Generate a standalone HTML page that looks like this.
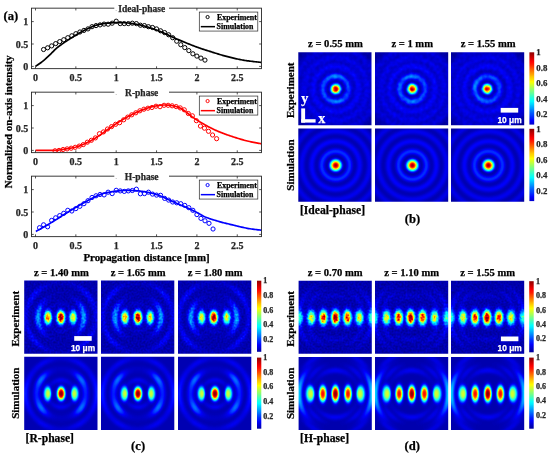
<!DOCTYPE html><html><head><meta charset="utf-8"><style>html,body{margin:0;padding:0;background:#fff;width:550px;height:455px;overflow:hidden}svg{display:block}stop{stop-color:#fff}text{stroke:currentColor;stroke-width:0.25px}.tk{font:bold 10px 'Liberation Serif','Times New Roman',serif;fill:#262626;color:#262626}.tt{font:bold 9.5px 'Liberation Serif','Times New Roman',serif;fill:#262626;color:#262626}.lg{font:bold 7.9px 'Liberation Serif','Times New Roman',serif;fill:#000;color:#000}.al{font:bold 10.9px 'Liberation Serif','Times New Roman',serif;fill:#000;color:#000}.pl{font:bold 12.6px 'Liberation Serif','Times New Roman',serif;fill:#000;color:#000}.hd{font:bold 10.6px 'Liberation Serif','Times New Roman',serif;fill:#000}.rl{font:bold 11px 'Liberation Serif','Times New Roman',serif;fill:#000}.bk{font:bold 11.6px 'Liberation Serif','Times New Roman',serif;fill:#000;color:#000}.cb{font-weight:bold;font-family:'Liberation Serif','Times New Roman',serif;fill:#262626;color:#262626}.sb{font:bold 8.4px 'Liberation Sans',Arial,sans-serif;fill:#fff;color:#fff}.xy{font:bold 14px 'Liberation Serif','Times New Roman',serif;fill:#fff;color:#fff}</style></head><body>
<svg width="550" height="455" viewBox="0 0 550 455">
<rect width="550" height="455" fill="#fff"/>
<clipPath id="ca0"><rect x="31.46" y="8.16" width="230" height="60.48"/></clipPath>
<g clip-path="url(#ca0)">
<polyline points="35.5,66.4 35.88,66.14 36.35,65.81 36.91,65.42 37.54,64.99 38.22,64.52 38.94,64.03 39.68,63.51 40.43,62.97 41.17,62.44 41.89,61.91 42.57,61.39 43.2,60.9 43.79,60.42 44.36,59.93 44.93,59.45 45.48,58.96 46.03,58.46 46.57,57.96 47.11,57.46 47.64,56.96 48.18,56.45 48.71,55.93 49.25,55.42 49.8,54.9 50.35,54.37 50.9,53.83 51.45,53.27 52,52.71 52.55,52.15 53.1,51.59 53.65,51.03 54.2,50.47 54.75,49.93 55.3,49.4 55.85,48.89 56.4,48.4 56.95,47.93 57.5,47.47 58.05,47.03 58.6,46.6 59.16,46.17 59.71,45.76 60.26,45.36 60.81,44.96 61.36,44.57 61.91,44.18 62.45,43.79 63,43.4 63.54,43.02 64.09,42.64 64.63,42.27 65.17,41.91 65.71,41.55 66.25,41.19 66.79,40.84 67.33,40.49 67.87,40.14 68.41,39.8 68.96,39.45 69.5,39.1 70.05,38.75 70.59,38.4 71.14,38.05 71.69,37.71 72.24,37.36 72.79,37.02 73.34,36.68 73.9,36.34 74.45,36 75,35.66 75.55,35.33 76.1,35 76.65,34.67 77.2,34.34 77.75,34.02 78.3,33.69 78.85,33.37 79.4,33.05 79.95,32.73 80.5,32.42 81.05,32.11 81.6,31.8 82.15,31.5 82.7,31.2 83.25,30.91 83.8,30.61 84.35,30.32 84.9,30.04 85.45,29.75 86,29.47 86.55,29.2 87.1,28.93 87.65,28.66 88.2,28.4 88.75,28.15 89.3,27.9 89.85,27.66 90.38,27.42 90.91,27.18 91.44,26.95 91.97,26.72 92.51,26.5 93.04,26.28 93.59,26.07 94.14,25.87 94.71,25.67 95.3,25.48 95.9,25.3 96.51,25.12 97.12,24.96 97.73,24.8 98.34,24.64 98.97,24.49 99.61,24.35 100.27,24.21 100.96,24.08 101.67,23.95 102.41,23.83 103.18,23.71 104,23.6 104.86,23.49 105.77,23.38 106.73,23.27 107.71,23.16 108.72,23.06 109.76,22.97 110.8,22.88 111.86,22.8 112.91,22.74 113.95,22.68 114.99,22.63 116,22.6 117,22.58 117.99,22.56 118.98,22.56 119.96,22.56 120.95,22.58 121.94,22.6 122.93,22.63 123.93,22.68 124.93,22.74 125.94,22.81 126.96,22.9 128,23 129.05,23.11 130.11,23.24 131.18,23.38 132.26,23.54 133.35,23.7 134.44,23.88 135.53,24.07 136.63,24.27 137.73,24.49 138.82,24.71 139.91,24.95 141,25.2 142.09,25.46 143.19,25.74 144.3,26.04 145.41,26.35 146.52,26.67 147.62,27.01 148.73,27.35 149.81,27.69 150.89,28.04 151.95,28.4 152.99,28.75 154,29.1 155,29.46 155.98,29.82 156.96,30.2 157.92,30.58 158.87,30.97 159.8,31.36 160.72,31.74 161.61,32.13 162.49,32.51 163.35,32.88 164.19,33.25 165,33.6 165.77,33.94 166.47,34.25 167.13,34.56 167.76,34.85 168.36,35.14 168.96,35.43 169.57,35.72 170.2,36.03 170.86,36.34 171.58,36.67 172.35,37.02 173.2,37.4 174.13,37.81 175.11,38.24 176.15,38.69 177.23,39.16 178.35,39.64 179.49,40.12 180.65,40.62 181.82,41.11 182.99,41.6 184.15,42.08 185.29,42.55 186.4,43 187.5,43.44 188.6,43.88 189.7,44.32 190.8,44.75 191.91,45.18 193.01,45.6 194.1,46.02 195.2,46.43 196.28,46.83 197.36,47.23 198.44,47.62 199.5,48 200.55,48.37 201.6,48.73 202.64,49.08 203.68,49.42 204.71,49.76 205.73,50.09 206.75,50.41 207.77,50.73 208.78,51.05 209.79,51.37 210.8,51.68 211.8,52 212.8,52.32 213.79,52.63 214.78,52.94 215.77,53.25 216.75,53.56 217.73,53.86 218.7,54.16 219.68,54.46 220.65,54.75 221.63,55.04 222.61,55.32 223.6,55.6 224.59,55.87 225.58,56.14 226.57,56.41 227.56,56.67 228.56,56.93 229.55,57.19 230.54,57.44 231.54,57.68 232.53,57.92 233.52,58.15 234.51,58.38 235.5,58.6 236.48,58.81 237.45,59.02 238.4,59.22 239.35,59.41 240.3,59.6 241.26,59.79 242.22,59.97 243.2,60.14 244.19,60.31 245.2,60.48 246.23,60.64 247.3,60.8 248.44,60.96 249.69,61.12 251.01,61.28 252.37,61.44 253.75,61.59 255.12,61.74 256.44,61.88 257.7,62.01 258.86,62.13 259.89,62.23 260.77,62.32 261.46,62.4" fill="none" stroke="#000000" stroke-width="1.7" stroke-linejoin="round"/>
<circle cx="43.57" cy="49.5" r="2.1" fill="none" stroke="#000000" stroke-width="1"/>
<circle cx="47.61" cy="47.8" r="2.1" fill="none" stroke="#000000" stroke-width="1"/>
<circle cx="51.64" cy="45.9" r="2.1" fill="none" stroke="#000000" stroke-width="1"/>
<circle cx="55.67" cy="43.6" r="2.1" fill="none" stroke="#000000" stroke-width="1"/>
<circle cx="59.71" cy="41.6" r="2.1" fill="none" stroke="#000000" stroke-width="1"/>
<circle cx="63.75" cy="39.7" r="2.1" fill="none" stroke="#000000" stroke-width="1"/>
<circle cx="67.78" cy="37.7" r="2.1" fill="none" stroke="#000000" stroke-width="1"/>
<circle cx="71.81" cy="35.8" r="2.1" fill="none" stroke="#000000" stroke-width="1"/>
<circle cx="75.85" cy="33.7" r="2.1" fill="none" stroke="#000000" stroke-width="1"/>
<circle cx="79.88" cy="32" r="2.1" fill="none" stroke="#000000" stroke-width="1"/>
<circle cx="83.92" cy="30.4" r="2.1" fill="none" stroke="#000000" stroke-width="1"/>
<circle cx="87.96" cy="28.9" r="2.1" fill="none" stroke="#000000" stroke-width="1"/>
<circle cx="91.99" cy="26.7" r="2.1" fill="none" stroke="#000000" stroke-width="1"/>
<circle cx="96.03" cy="25.6" r="2.1" fill="none" stroke="#000000" stroke-width="1"/>
<circle cx="100.06" cy="24.9" r="2.1" fill="none" stroke="#000000" stroke-width="1"/>
<circle cx="104.09" cy="24.1" r="2.1" fill="none" stroke="#000000" stroke-width="1"/>
<circle cx="108.13" cy="24.2" r="2.1" fill="none" stroke="#000000" stroke-width="1"/>
<circle cx="112.16" cy="23.2" r="2.1" fill="none" stroke="#000000" stroke-width="1"/>
<circle cx="116.2" cy="21.2" r="2.1" fill="none" stroke="#000000" stroke-width="1"/>
<circle cx="120.24" cy="23.6" r="2.1" fill="none" stroke="#000000" stroke-width="1"/>
<circle cx="124.27" cy="23.6" r="2.1" fill="none" stroke="#000000" stroke-width="1"/>
<circle cx="128.31" cy="23.6" r="2.1" fill="none" stroke="#000000" stroke-width="1"/>
<circle cx="132.34" cy="23.2" r="2.1" fill="none" stroke="#000000" stroke-width="1"/>
<circle cx="136.38" cy="23.6" r="2.1" fill="none" stroke="#000000" stroke-width="1"/>
<circle cx="140.41" cy="25.2" r="2.1" fill="none" stroke="#000000" stroke-width="1"/>
<circle cx="144.44" cy="25.6" r="2.1" fill="none" stroke="#000000" stroke-width="1"/>
<circle cx="148.48" cy="26.7" r="2.1" fill="none" stroke="#000000" stroke-width="1"/>
<circle cx="152.52" cy="27.5" r="2.1" fill="none" stroke="#000000" stroke-width="1"/>
<circle cx="156.55" cy="28.9" r="2.1" fill="none" stroke="#000000" stroke-width="1"/>
<circle cx="160.59" cy="30.8" r="2.1" fill="none" stroke="#000000" stroke-width="1"/>
<circle cx="164.62" cy="32.6" r="2.1" fill="none" stroke="#000000" stroke-width="1"/>
<circle cx="168.66" cy="34.8" r="2.1" fill="none" stroke="#000000" stroke-width="1"/>
<circle cx="172.69" cy="37.7" r="2.1" fill="none" stroke="#000000" stroke-width="1"/>
<circle cx="176.72" cy="41.2" r="2.1" fill="none" stroke="#000000" stroke-width="1"/>
<circle cx="180.76" cy="44.7" r="2.1" fill="none" stroke="#000000" stroke-width="1"/>
<circle cx="184.79" cy="47.6" r="2.1" fill="none" stroke="#000000" stroke-width="1"/>
<circle cx="188.83" cy="50.6" r="2.1" fill="none" stroke="#000000" stroke-width="1"/>
<circle cx="192.87" cy="53.8" r="2.1" fill="none" stroke="#000000" stroke-width="1"/>
<circle cx="196.9" cy="56.1" r="2.1" fill="none" stroke="#000000" stroke-width="1"/>
<circle cx="200.94" cy="58.1" r="2.1" fill="none" stroke="#000000" stroke-width="1"/>
<circle cx="204.97" cy="60.1" r="2.1" fill="none" stroke="#000000" stroke-width="1"/>
</g>
<rect x="31.46" y="8.16" width="230" height="60.48" fill="none" stroke="#262626" stroke-width="0.9"/>
<path d="M35.5 68.64v-2.3M35.5 8.16v2.3" stroke="#262626" stroke-width="0.8"/>
<text x="35.5" y="81.34" text-anchor="middle" class="tk">0</text>
<path d="M75.85 68.64v-2.3M75.85 8.16v2.3" stroke="#262626" stroke-width="0.8"/>
<text x="75.85" y="81.34" text-anchor="middle" class="tk">0.5</text>
<path d="M116.2 68.64v-2.3M116.2 8.16v2.3" stroke="#262626" stroke-width="0.8"/>
<text x="116.2" y="81.34" text-anchor="middle" class="tk">1</text>
<path d="M156.55 68.64v-2.3M156.55 8.16v2.3" stroke="#262626" stroke-width="0.8"/>
<text x="156.55" y="81.34" text-anchor="middle" class="tk">1.5</text>
<path d="M196.9 68.64v-2.3M196.9 8.16v2.3" stroke="#262626" stroke-width="0.8"/>
<text x="196.9" y="81.34" text-anchor="middle" class="tk">2</text>
<path d="M237.25 68.64v-2.3M237.25 8.16v2.3" stroke="#262626" stroke-width="0.8"/>
<text x="237.25" y="81.34" text-anchor="middle" class="tk">2.5</text>
<path d="M31.46 66.4h2.3M261.46 66.4h-2.3" stroke="#262626" stroke-width="0.8"/>
<text x="28.3" y="70.1" text-anchor="end" class="tk">0</text>
<path d="M31.46 44h2.3M261.46 44h-2.3" stroke="#262626" stroke-width="0.8"/>
<text x="28.3" y="47.7" text-anchor="end" class="tk">0.5</text>
<path d="M31.46 21.6h2.3M261.46 21.6h-2.3" stroke="#262626" stroke-width="0.8"/>
<text x="28.3" y="25.3" text-anchor="end" class="tk">1</text>
<rect x="114.3" y="6.16" width="54.7" height="4" fill="#fff"/>
<text x="141.7" y="12.26" text-anchor="middle" class="tt">Ideal-phase</text>
<rect x="199.3" y="12.06" width="58.5" height="19" fill="#fff" stroke="#262626" stroke-width="0.7"/>
<circle cx="207.6" cy="17.06" r="1.6" fill="none" stroke="#000000" stroke-width="0.95"/>
<path d="M200.8 26.66H215" stroke="#000000" stroke-width="1.5"/>
<text x="217" y="20.36" class="lg">Experiment</text>
<text x="216.6" y="29.36" class="lg">Simulation</text>
<clipPath id="ca1"><rect x="31.46" y="92.16" width="230" height="60.48"/></clipPath>
<g clip-path="url(#ca1)">
<polyline points="35.5,150.4 36.41,150.4 37.58,150.41 38.98,150.42 40.55,150.44 42.24,150.45 44.02,150.46 45.83,150.47 47.62,150.47 49.35,150.47 50.97,150.46 52.44,150.44 53.7,150.4 54.77,150.36 55.72,150.31 56.56,150.25 57.32,150.19 58.01,150.13 58.67,150.05 59.31,149.97 59.95,149.87 60.62,149.77 61.33,149.66 62.12,149.54 63,149.4 63.97,149.25 64.99,149.1 66.07,148.94 67.18,148.77 68.32,148.59 69.47,148.4 70.63,148.2 71.78,147.99 72.91,147.76 74.02,147.52 75.08,147.27 76.1,147 77.08,146.71 78.04,146.41 78.98,146.08 79.9,145.74 80.81,145.39 81.7,145.03 82.57,144.66 83.43,144.29 84.27,143.91 85.1,143.54 85.91,143.17 86.7,142.8 87.48,142.43 88.24,142.06 88.99,141.68 89.72,141.3 90.44,140.92 91.14,140.53 91.82,140.15 92.49,139.77 93.14,139.39 93.78,139.02 94.4,138.65 95,138.3 95.58,137.96 96.12,137.63 96.63,137.31 97.13,137 97.6,136.7 98.07,136.39 98.53,136.09 99,135.77 99.47,135.45 99.96,135.12 100.47,134.77 101,134.4 101.54,134.02 102.06,133.65 102.58,133.28 103.09,132.9 103.61,132.51 104.15,132.11 104.71,131.69 105.31,131.25 105.95,130.78 106.64,130.29 107.39,129.76 108.2,129.2 109.09,128.59 110.05,127.92 111.08,127.21 112.16,126.47 113.28,125.7 114.43,124.92 115.6,124.13 116.79,123.34 117.97,122.56 119.14,121.81 120.28,121.09 121.4,120.4 122.49,119.74 123.59,119.1 124.68,118.46 125.77,117.84 126.86,117.23 127.95,116.63 129.04,116.04 130.13,115.47 131.22,114.91 132.31,114.36 133.41,113.82 134.5,113.3 135.61,112.79 136.73,112.28 137.86,111.78 139,111.29 140.14,110.82 141.27,110.36 142.4,109.91 143.51,109.49 144.6,109.08 145.67,108.69 146.7,108.33 147.7,108 148.67,107.69 149.62,107.41 150.56,107.15 151.47,106.92 152.36,106.7 153.24,106.51 154.09,106.33 154.92,106.16 155.72,106.01 156.51,105.86 157.27,105.73 158,105.6 158.7,105.48 159.36,105.38 159.98,105.3 160.58,105.22 161.15,105.16 161.71,105.11 162.25,105.07 162.79,105.04 163.33,105.02 163.87,105.01 164.43,105 165,105 165.58,105 166.16,105.01 166.73,105.03 167.3,105.05 167.88,105.08 168.45,105.12 169.03,105.17 169.61,105.23 170.19,105.3 170.79,105.39 171.39,105.49 172,105.6 172.63,105.73 173.27,105.86 173.92,106.01 174.59,106.16 175.25,106.33 175.92,106.51 176.59,106.71 177.26,106.91 177.92,107.14 178.56,107.38 179.19,107.63 179.8,107.9 180.39,108.19 180.97,108.5 181.53,108.84 182.09,109.19 182.64,109.55 183.18,109.93 183.71,110.31 184.24,110.7 184.78,111.1 185.31,111.5 185.85,111.9 186.4,112.3 186.95,112.7 187.5,113.12 188.04,113.54 188.59,113.97 189.13,114.41 189.67,114.84 190.22,115.28 190.77,115.72 191.32,116.15 191.88,116.58 192.44,116.99 193,117.4 193.55,117.79 194.09,118.16 194.6,118.52 195.12,118.86 195.64,119.21 196.16,119.55 196.71,119.9 197.28,120.26 197.89,120.63 198.54,121.03 199.24,121.45 200,121.9 200.83,122.39 201.72,122.91 202.66,123.46 203.64,124.04 204.67,124.63 205.71,125.22 206.78,125.82 207.84,126.42 208.91,127 209.97,127.56 211,128.1 212,128.6 212.98,129.07 213.95,129.53 214.92,129.97 215.89,130.4 216.85,130.81 217.81,131.21 218.77,131.61 219.73,131.99 220.69,132.37 221.65,132.75 222.62,133.13 223.6,133.5 224.58,133.87 225.57,134.24 226.56,134.6 227.55,134.95 228.54,135.3 229.54,135.64 230.53,135.98 231.53,136.31 232.53,136.64 233.52,136.97 234.51,137.29 235.5,137.6 236.48,137.91 237.45,138.21 238.4,138.51 239.35,138.81 240.3,139.1 241.26,139.38 242.22,139.66 243.2,139.94 244.19,140.21 245.2,140.48 246.23,140.74 247.3,141 248.44,141.26 249.69,141.53 251.01,141.81 252.37,142.08 253.75,142.35 255.12,142.61 256.44,142.86 257.7,143.1 258.86,143.31 259.89,143.5 260.77,143.67 261.46,143.8" fill="none" stroke="#ff0000" stroke-width="1.7" stroke-linejoin="round"/>
<circle cx="55" cy="150.8" r="2.1" fill="none" stroke="#ff0000" stroke-width="1"/>
<circle cx="59.04" cy="150.4" r="2.1" fill="none" stroke="#ff0000" stroke-width="1"/>
<circle cx="63.08" cy="149.5" r="2.1" fill="none" stroke="#ff0000" stroke-width="1"/>
<circle cx="67.12" cy="148.9" r="2.1" fill="none" stroke="#ff0000" stroke-width="1"/>
<circle cx="71.16" cy="148.2" r="2.1" fill="none" stroke="#ff0000" stroke-width="1"/>
<circle cx="75.2" cy="147.3" r="2.1" fill="none" stroke="#ff0000" stroke-width="1"/>
<circle cx="79.24" cy="146.1" r="2.1" fill="none" stroke="#ff0000" stroke-width="1"/>
<circle cx="83.28" cy="144.6" r="2.1" fill="none" stroke="#ff0000" stroke-width="1"/>
<circle cx="87.32" cy="142.2" r="2.1" fill="none" stroke="#ff0000" stroke-width="1"/>
<circle cx="91.36" cy="140.3" r="2.1" fill="none" stroke="#ff0000" stroke-width="1"/>
<circle cx="95.4" cy="137.9" r="2.1" fill="none" stroke="#ff0000" stroke-width="1"/>
<circle cx="99.44" cy="133.7" r="2.1" fill="none" stroke="#ff0000" stroke-width="1"/>
<circle cx="103.48" cy="131.9" r="2.1" fill="none" stroke="#ff0000" stroke-width="1"/>
<circle cx="107.52" cy="129" r="2.1" fill="none" stroke="#ff0000" stroke-width="1"/>
<circle cx="111.56" cy="126.6" r="2.1" fill="none" stroke="#ff0000" stroke-width="1"/>
<circle cx="115.6" cy="124.3" r="2.1" fill="none" stroke="#ff0000" stroke-width="1"/>
<circle cx="119.64" cy="122.7" r="2.1" fill="none" stroke="#ff0000" stroke-width="1"/>
<circle cx="123.68" cy="119.8" r="2.1" fill="none" stroke="#ff0000" stroke-width="1"/>
<circle cx="127.72" cy="117.1" r="2.1" fill="none" stroke="#ff0000" stroke-width="1"/>
<circle cx="131.76" cy="114.8" r="2.1" fill="none" stroke="#ff0000" stroke-width="1"/>
<circle cx="135.8" cy="112.8" r="2.1" fill="none" stroke="#ff0000" stroke-width="1"/>
<circle cx="139.84" cy="110.8" r="2.1" fill="none" stroke="#ff0000" stroke-width="1"/>
<circle cx="143.88" cy="109.2" r="2.1" fill="none" stroke="#ff0000" stroke-width="1"/>
<circle cx="147.92" cy="108.2" r="2.1" fill="none" stroke="#ff0000" stroke-width="1"/>
<circle cx="151.96" cy="107.5" r="2.1" fill="none" stroke="#ff0000" stroke-width="1"/>
<circle cx="156" cy="106.2" r="2.1" fill="none" stroke="#ff0000" stroke-width="1"/>
<circle cx="160.04" cy="106.7" r="2.1" fill="none" stroke="#ff0000" stroke-width="1"/>
<circle cx="164.08" cy="105.3" r="2.1" fill="none" stroke="#ff0000" stroke-width="1"/>
<circle cx="168.12" cy="105.3" r="2.1" fill="none" stroke="#ff0000" stroke-width="1"/>
<circle cx="172.16" cy="105.8" r="2.1" fill="none" stroke="#ff0000" stroke-width="1"/>
<circle cx="176.2" cy="106.6" r="2.1" fill="none" stroke="#ff0000" stroke-width="1"/>
<circle cx="180.24" cy="107.9" r="2.1" fill="none" stroke="#ff0000" stroke-width="1"/>
<circle cx="184.28" cy="109.8" r="2.1" fill="none" stroke="#ff0000" stroke-width="1"/>
<circle cx="188.32" cy="113.5" r="2.1" fill="none" stroke="#ff0000" stroke-width="1"/>
<circle cx="192.36" cy="115.8" r="2.1" fill="none" stroke="#ff0000" stroke-width="1"/>
<circle cx="196.4" cy="120.7" r="2.1" fill="none" stroke="#ff0000" stroke-width="1"/>
<circle cx="200.44" cy="126.1" r="2.1" fill="none" stroke="#ff0000" stroke-width="1"/>
<circle cx="204.48" cy="128.2" r="2.1" fill="none" stroke="#ff0000" stroke-width="1"/>
<circle cx="208.52" cy="131.3" r="2.1" fill="none" stroke="#ff0000" stroke-width="1"/>
<circle cx="212.56" cy="135" r="2.1" fill="none" stroke="#ff0000" stroke-width="1"/>
<circle cx="216.6" cy="138.7" r="2.1" fill="none" stroke="#ff0000" stroke-width="1"/>
</g>
<rect x="31.46" y="92.16" width="230" height="60.48" fill="none" stroke="#262626" stroke-width="0.9"/>
<path d="M35.5 152.64v-2.3M35.5 92.16v2.3" stroke="#262626" stroke-width="0.8"/>
<text x="35.5" y="165.34" text-anchor="middle" class="tk">0</text>
<path d="M75.85 152.64v-2.3M75.85 92.16v2.3" stroke="#262626" stroke-width="0.8"/>
<text x="75.85" y="165.34" text-anchor="middle" class="tk">0.5</text>
<path d="M116.2 152.64v-2.3M116.2 92.16v2.3" stroke="#262626" stroke-width="0.8"/>
<text x="116.2" y="165.34" text-anchor="middle" class="tk">1</text>
<path d="M156.55 152.64v-2.3M156.55 92.16v2.3" stroke="#262626" stroke-width="0.8"/>
<text x="156.55" y="165.34" text-anchor="middle" class="tk">1.5</text>
<path d="M196.9 152.64v-2.3M196.9 92.16v2.3" stroke="#262626" stroke-width="0.8"/>
<text x="196.9" y="165.34" text-anchor="middle" class="tk">2</text>
<path d="M237.25 152.64v-2.3M237.25 92.16v2.3" stroke="#262626" stroke-width="0.8"/>
<text x="237.25" y="165.34" text-anchor="middle" class="tk">2.5</text>
<path d="M31.46 150.4h2.3M261.46 150.4h-2.3" stroke="#262626" stroke-width="0.8"/>
<text x="28.3" y="154.1" text-anchor="end" class="tk">0</text>
<path d="M31.46 128h2.3M261.46 128h-2.3" stroke="#262626" stroke-width="0.8"/>
<text x="28.3" y="131.7" text-anchor="end" class="tk">0.5</text>
<path d="M31.46 105.6h2.3M261.46 105.6h-2.3" stroke="#262626" stroke-width="0.8"/>
<text x="28.3" y="109.3" text-anchor="end" class="tk">1</text>
<rect x="114.3" y="90.16" width="54.7" height="4" fill="#fff"/>
<text x="141.7" y="96.26" text-anchor="middle" class="tt">R-phase</text>
<rect x="199.3" y="96.06" width="58.5" height="19" fill="#fff" stroke="#262626" stroke-width="0.7"/>
<circle cx="207.6" cy="101.06" r="1.6" fill="none" stroke="#ff0000" stroke-width="0.95"/>
<path d="M200.8 110.66H215" stroke="#ff0000" stroke-width="1.5"/>
<text x="217" y="104.36" class="lg">Experiment</text>
<text x="216.6" y="113.36" class="lg">Simulation</text>
<clipPath id="ca2"><rect x="31.46" y="176.16" width="230" height="60.48"/></clipPath>
<g clip-path="url(#ca2)">
<polyline points="35.9,231.4 36.57,231.02 37.42,230.55 38.41,229.99 39.53,229.37 40.74,228.69 42.02,227.97 43.35,227.22 44.7,226.46 46.05,225.69 47.36,224.93 48.62,224.2 49.8,223.5 50.92,222.82 52.04,222.14 53.15,221.45 54.26,220.75 55.35,220.05 56.45,219.36 57.54,218.66 58.63,217.96 59.72,217.26 60.81,216.57 61.91,215.88 63,215.2 64.09,214.52 65.19,213.84 66.28,213.16 67.37,212.49 68.46,211.82 69.55,211.14 70.64,210.48 71.73,209.81 72.82,209.15 73.91,208.5 75.01,207.84 76.1,207.2 77.2,206.56 78.32,205.91 79.45,205.26 80.59,204.61 81.72,203.96 82.85,203.32 83.97,202.7 85.08,202.08 86.17,201.48 87.24,200.9 88.29,200.34 89.3,199.8 90.29,199.28 91.26,198.77 92.21,198.28 93.14,197.79 94.06,197.33 94.96,196.88 95.85,196.44 96.71,196.03 97.56,195.64 98.39,195.27 99.2,194.92 100,194.6 100.75,194.31 101.45,194.06 102.11,193.83 102.73,193.63 103.34,193.45 103.94,193.29 104.56,193.14 105.19,192.99 105.86,192.85 106.57,192.71 107.35,192.56 108.2,192.4 109.13,192.23 110.11,192.06 111.15,191.88 112.23,191.7 113.35,191.53 114.49,191.36 115.65,191.2 116.82,191.05 117.99,190.91 119.15,190.79 120.29,190.69 121.4,190.6 122.49,190.53 123.59,190.48 124.68,190.43 125.77,190.4 126.86,190.39 127.95,190.38 129.04,190.39 130.13,190.41 131.22,190.44 132.31,190.48 133.41,190.53 134.5,190.6 135.6,190.68 136.7,190.76 137.81,190.86 138.93,190.97 140.04,191.1 141.15,191.23 142.26,191.38 143.36,191.54 144.46,191.71 145.55,191.89 146.63,192.09 147.7,192.3 148.75,192.52 149.79,192.75 150.82,192.99 151.83,193.24 152.84,193.5 153.85,193.78 154.86,194.07 155.87,194.38 156.88,194.71 157.91,195.05 158.95,195.42 160,195.8 161.07,196.21 162.15,196.66 163.24,197.13 164.33,197.63 165.44,198.14 166.54,198.66 167.65,199.19 168.77,199.73 169.88,200.26 170.99,200.79 172.1,201.3 173.2,201.8 174.31,202.29 175.43,202.78 176.56,203.26 177.7,203.75 178.84,204.23 179.97,204.71 181.09,205.19 182.2,205.66 183.29,206.13 184.36,206.59 185.39,207.05 186.4,207.5 187.37,207.94 188.32,208.38 189.25,208.8 190.15,209.23 191.03,209.64 191.9,210.06 192.75,210.47 193.6,210.87 194.43,211.28 195.26,211.69 196.08,212.09 196.9,212.5 197.7,212.91 198.46,213.32 199.2,213.73 199.91,214.13 200.62,214.54 201.33,214.94 202.05,215.35 202.79,215.74 203.55,216.14 204.35,216.53 205.2,216.92 206.1,217.3 207.07,217.68 208.1,218.06 209.18,218.45 210.3,218.83 211.44,219.21 212.61,219.58 213.77,219.95 214.94,220.3 216.08,220.65 217.2,220.98 218.27,221.3 219.3,221.6 220.26,221.88 221.15,222.13 222,222.36 222.81,222.57 223.6,222.77 224.39,222.97 225.2,223.16 226.04,223.36 226.92,223.57 227.86,223.79 228.89,224.03 230,224.3 231.22,224.59 232.54,224.92 233.93,225.26 235.39,225.61 236.9,225.98 238.43,226.35 239.98,226.72 241.52,227.07 243.04,227.42 244.52,227.74 245.95,228.04 247.3,228.3 248.64,228.54 250.01,228.76 251.39,228.97 252.78,229.16 254.14,229.34 255.46,229.5 256.72,229.65 257.91,229.79 258.99,229.91 259.96,230.02 260.79,230.11 261.46,230.2" fill="none" stroke="#0000ff" stroke-width="1.7" stroke-linejoin="round"/>
<circle cx="39.54" cy="227.7" r="2.1" fill="none" stroke="#0000ff" stroke-width="1"/>
<circle cx="43.58" cy="224.8" r="2.1" fill="none" stroke="#0000ff" stroke-width="1"/>
<circle cx="47.61" cy="226.8" r="2.1" fill="none" stroke="#0000ff" stroke-width="1"/>
<circle cx="51.64" cy="220.4" r="2.1" fill="none" stroke="#0000ff" stroke-width="1"/>
<circle cx="55.68" cy="217.8" r="2.1" fill="none" stroke="#0000ff" stroke-width="1"/>
<circle cx="59.72" cy="215.6" r="2.1" fill="none" stroke="#0000ff" stroke-width="1"/>
<circle cx="63.75" cy="213.3" r="2.1" fill="none" stroke="#0000ff" stroke-width="1"/>
<circle cx="67.78" cy="210.3" r="2.1" fill="none" stroke="#0000ff" stroke-width="1"/>
<circle cx="71.82" cy="211" r="2.1" fill="none" stroke="#0000ff" stroke-width="1"/>
<circle cx="75.85" cy="208.6" r="2.1" fill="none" stroke="#0000ff" stroke-width="1"/>
<circle cx="79.89" cy="206.3" r="2.1" fill="none" stroke="#0000ff" stroke-width="1"/>
<circle cx="83.93" cy="203.7" r="2.1" fill="none" stroke="#0000ff" stroke-width="1"/>
<circle cx="87.96" cy="200.7" r="2.1" fill="none" stroke="#0000ff" stroke-width="1"/>
<circle cx="92" cy="197.5" r="2.1" fill="none" stroke="#0000ff" stroke-width="1"/>
<circle cx="96.03" cy="195.8" r="2.1" fill="none" stroke="#0000ff" stroke-width="1"/>
<circle cx="100.06" cy="194.5" r="2.1" fill="none" stroke="#0000ff" stroke-width="1"/>
<circle cx="104.1" cy="194.9" r="2.1" fill="none" stroke="#0000ff" stroke-width="1"/>
<circle cx="108.13" cy="192.2" r="2.1" fill="none" stroke="#0000ff" stroke-width="1"/>
<circle cx="112.17" cy="193.6" r="2.1" fill="none" stroke="#0000ff" stroke-width="1"/>
<circle cx="116.21" cy="190.3" r="2.1" fill="none" stroke="#0000ff" stroke-width="1"/>
<circle cx="120.24" cy="190.9" r="2.1" fill="none" stroke="#0000ff" stroke-width="1"/>
<circle cx="124.28" cy="191.4" r="2.1" fill="none" stroke="#0000ff" stroke-width="1"/>
<circle cx="128.31" cy="190.9" r="2.1" fill="none" stroke="#0000ff" stroke-width="1"/>
<circle cx="132.34" cy="190.5" r="2.1" fill="none" stroke="#0000ff" stroke-width="1"/>
<circle cx="136.38" cy="189.2" r="2.1" fill="none" stroke="#0000ff" stroke-width="1"/>
<circle cx="140.41" cy="193.8" r="2.1" fill="none" stroke="#0000ff" stroke-width="1"/>
<circle cx="144.45" cy="193.6" r="2.1" fill="none" stroke="#0000ff" stroke-width="1"/>
<circle cx="148.49" cy="192.2" r="2.1" fill="none" stroke="#0000ff" stroke-width="1"/>
<circle cx="152.52" cy="194.1" r="2.1" fill="none" stroke="#0000ff" stroke-width="1"/>
<circle cx="156.56" cy="195.1" r="2.1" fill="none" stroke="#0000ff" stroke-width="1"/>
<circle cx="160.59" cy="195.3" r="2.1" fill="none" stroke="#0000ff" stroke-width="1"/>
<circle cx="164.62" cy="198.4" r="2.1" fill="none" stroke="#0000ff" stroke-width="1"/>
<circle cx="168.66" cy="200.1" r="2.1" fill="none" stroke="#0000ff" stroke-width="1"/>
<circle cx="172.69" cy="202" r="2.1" fill="none" stroke="#0000ff" stroke-width="1"/>
<circle cx="176.73" cy="202.8" r="2.1" fill="none" stroke="#0000ff" stroke-width="1"/>
<circle cx="180.76" cy="203.7" r="2.1" fill="none" stroke="#0000ff" stroke-width="1"/>
<circle cx="184.8" cy="205.4" r="2.1" fill="none" stroke="#0000ff" stroke-width="1"/>
<circle cx="188.84" cy="207.7" r="2.1" fill="none" stroke="#0000ff" stroke-width="1"/>
<circle cx="192.87" cy="210.3" r="2.1" fill="none" stroke="#0000ff" stroke-width="1"/>
<circle cx="196.91" cy="214.6" r="2.1" fill="none" stroke="#0000ff" stroke-width="1"/>
<circle cx="200.94" cy="218.4" r="2.1" fill="none" stroke="#0000ff" stroke-width="1"/>
<circle cx="204.97" cy="220.8" r="2.1" fill="none" stroke="#0000ff" stroke-width="1"/>
<circle cx="209.01" cy="223.3" r="2.1" fill="none" stroke="#0000ff" stroke-width="1"/>
<circle cx="213.04" cy="229" r="2.1" fill="none" stroke="#0000ff" stroke-width="1"/>
</g>
<rect x="31.46" y="176.16" width="230" height="60.48" fill="none" stroke="#262626" stroke-width="0.9"/>
<path d="M35.5 236.64v-2.3M35.5 176.16v2.3" stroke="#262626" stroke-width="0.8"/>
<text x="35.5" y="249.34" text-anchor="middle" class="tk">0</text>
<path d="M75.85 236.64v-2.3M75.85 176.16v2.3" stroke="#262626" stroke-width="0.8"/>
<text x="75.85" y="249.34" text-anchor="middle" class="tk">0.5</text>
<path d="M116.2 236.64v-2.3M116.2 176.16v2.3" stroke="#262626" stroke-width="0.8"/>
<text x="116.2" y="249.34" text-anchor="middle" class="tk">1</text>
<path d="M156.55 236.64v-2.3M156.55 176.16v2.3" stroke="#262626" stroke-width="0.8"/>
<text x="156.55" y="249.34" text-anchor="middle" class="tk">1.5</text>
<path d="M196.9 236.64v-2.3M196.9 176.16v2.3" stroke="#262626" stroke-width="0.8"/>
<text x="196.9" y="249.34" text-anchor="middle" class="tk">2</text>
<path d="M237.25 236.64v-2.3M237.25 176.16v2.3" stroke="#262626" stroke-width="0.8"/>
<text x="237.25" y="249.34" text-anchor="middle" class="tk">2.5</text>
<path d="M31.46 234.4h2.3M261.46 234.4h-2.3" stroke="#262626" stroke-width="0.8"/>
<text x="28.3" y="238.1" text-anchor="end" class="tk">0</text>
<path d="M31.46 212h2.3M261.46 212h-2.3" stroke="#262626" stroke-width="0.8"/>
<text x="28.3" y="215.7" text-anchor="end" class="tk">0.5</text>
<path d="M31.46 189.6h2.3M261.46 189.6h-2.3" stroke="#262626" stroke-width="0.8"/>
<text x="28.3" y="193.3" text-anchor="end" class="tk">1</text>
<rect x="114.3" y="174.16" width="54.7" height="4" fill="#fff"/>
<text x="141.7" y="180.26" text-anchor="middle" class="tt">H-phase</text>
<rect x="199.3" y="180.06" width="58.5" height="19" fill="#fff" stroke="#262626" stroke-width="0.7"/>
<circle cx="207.6" cy="185.06" r="1.6" fill="none" stroke="#0000ff" stroke-width="0.95"/>
<path d="M200.8 194.66H215" stroke="#0000ff" stroke-width="1.5"/>
<text x="217" y="188.36" class="lg">Experiment</text>
<text x="216.6" y="197.36" class="lg">Simulation</text>
<text transform="translate(12.4,121.8) rotate(-90)" text-anchor="middle" class="al">Normalized on-axis intensity</text>
<text x="146.5" y="261.4" text-anchor="middle" class="al">Propagation distance [mm]</text>
<text x="3.6" y="19.7" class="pl">(a)</text>
<radialGradient id="gb00" gradientUnits="userSpaceOnUse" cx="335.7" cy="88.95" r="56"><stop offset="0" stop-opacity=".975"/><stop offset=".012" stop-opacity=".955"/><stop offset=".025" stop-opacity=".897"/><stop offset=".037" stop-opacity=".807"/><stop offset=".05" stop-opacity=".691"/><stop offset=".062" stop-opacity=".562"/><stop offset=".075" stop-opacity=".428"/><stop offset=".087" stop-opacity=".302"/><stop offset=".1" stop-opacity=".193"/><stop offset=".113" stop-opacity=".107"/><stop offset=".125" stop-opacity=".051"/><stop offset=".137" stop-opacity=".026"/><stop offset=".15" stop-opacity=".032"/><stop offset=".163" stop-opacity=".052"/><stop offset=".175" stop-opacity=".078"/><stop offset=".188" stop-opacity=".107"/><stop offset=".2" stop-opacity=".136"/><stop offset=".212" stop-opacity=".159"/><stop offset=".225" stop-opacity=".17"/><stop offset=".237" stop-opacity=".167"/><stop offset=".25" stop-opacity=".151"/><stop offset=".263" stop-opacity=".126"/><stop offset=".275" stop-opacity=".099"/><stop offset=".287" stop-opacity=".073"/><stop offset=".3" stop-opacity=".055"/><stop offset=".312" stop-opacity=".045"/><stop offset=".325" stop-opacity=".044"/><stop offset=".337" stop-opacity=".05"/><stop offset=".35" stop-opacity=".062"/><stop offset=".362" stop-opacity=".075"/><stop offset=".375" stop-opacity=".087"/><stop offset=".388" stop-opacity=".097"/><stop offset=".4" stop-opacity=".101"/><stop offset=".412" stop-opacity=".099"/><stop offset=".425" stop-opacity=".093"/><stop offset=".438" stop-opacity=".083"/><stop offset=".45" stop-opacity=".072"/><stop offset=".462" stop-opacity=".062"/><stop offset=".475" stop-opacity=".055"/><stop offset=".487" stop-opacity=".053"/><stop offset=".5" stop-opacity=".055"/><stop offset=".512" stop-opacity=".06"/><stop offset=".525" stop-opacity=".067"/><stop offset=".537" stop-opacity=".074"/><stop offset=".55" stop-opacity=".079"/><stop offset=".562" stop-opacity=".081"/><stop offset=".575" stop-opacity=".08"/><stop offset=".588" stop-opacity=".074"/><stop offset=".6" stop-opacity=".067"/><stop offset=".612" stop-opacity=".059"/><stop offset=".625" stop-opacity=".053"/><stop offset=".637" stop-opacity=".048"/><stop offset=".65" stop-opacity=".047"/><stop offset=".662" stop-opacity=".048"/><stop offset=".675" stop-opacity=".052"/><stop offset=".688" stop-opacity=".057"/><stop offset=".7" stop-opacity=".062"/><stop offset=".713" stop-opacity=".065"/><stop offset=".725" stop-opacity=".066"/><stop offset=".737" stop-opacity=".063"/><stop offset=".75" stop-opacity=".058"/><stop offset=".762" stop-opacity=".05"/><stop offset=".775" stop-opacity=".041"/><stop offset=".787" stop-opacity=".032"/><stop offset=".8" stop-opacity=".023"/><stop offset=".812" stop-opacity=".016"/><stop offset=".825" stop-opacity=".011"/><stop offset=".838" stop-opacity=".007"/><stop offset=".85" stop-opacity=".004"/><stop offset=".862" stop-opacity=".002"/><stop offset=".875" stop-opacity=".001"/><stop offset=".887" stop-opacity=".001"/><stop offset=".9" stop-opacity="0"/><stop offset=".912" stop-opacity="0"/><stop offset=".925" stop-opacity="0"/><stop offset=".938" stop-opacity="0"/><stop offset=".95" stop-opacity="0"/><stop offset=".963" stop-opacity="0"/><stop offset=".975" stop-opacity="0"/><stop offset=".987" stop-opacity="0"/><stop offset="1" stop-opacity="0"/></radialGradient>
<clipPath id="cpb00"><rect x="298.3" y="52.2" width="73.2" height="73.1"/></clipPath>
<filter id="fjb00" filterUnits="userSpaceOnUse" x="292.3" y="46.2" width="85.2" height="85.1" color-interpolation-filters="sRGB"><feGaussianBlur in="SourceGraphic" stdDeviation="0.6" result="s"/><feTurbulence type="fractalNoise" baseFrequency="0.3" numOctaves="1" seed="7" result="t"/><feColorMatrix in="t" type="matrix" values="1 0 0 0 0 1 0 0 0 0 1 0 0 0 0 0 0 0 0 1" result="n"/><feComposite in="s" in2="n" operator="arithmetic" k1="0.3" k2="0.85" k3="0.05" k4="-0.03"/><feComponentTransfer><feFuncR type="table" tableValues="0 0 0 0 0.5 1 1 1 0.56"/><feFuncG type="table" tableValues="0 0 0.5 1 1 1 0.5 0 0"/><feFuncB type="table" tableValues="0.56 1 1 1 0.5 0 0 0 0"/></feComponentTransfer></filter>
<g clip-path="url(#cpb00)"><g filter="url(#fjb00)">
<rect x="292.3" y="46.2" width="85.2" height="85.1" fill="#060606"/>
<rect x="292.3" y="46.2" width="85.2" height="85.1" fill="url(#gb00)"/><filter id="rbb00" x="-20%" y="-20%" width="140%" height="140%"><feGaussianBlur stdDeviation="1.6"/></filter><g filter="url(#rbb00)" fill="none" stroke="#fff"><g stroke-width="3.5"><path d="M346.79 82.55A12.8 12.8 0 0 0 345.51 80.72" stroke-opacity=".006"/><path d="M345.51 80.72A12.8 12.8 0 0 0 343.93 79.14" stroke-opacity=".017"/><path d="M343.93 79.14A12.8 12.8 0 0 0 342.1 77.86" stroke-opacity=".04"/><path d="M342.1 77.86A12.8 12.8 0 0 0 340.08 76.92" stroke-opacity=".073"/><path d="M340.08 76.92A12.8 12.8 0 0 0 337.92 76.34" stroke-opacity=".111"/><path d="M337.92 76.34A12.8 12.8 0 0 0 335.7 76.15" stroke-opacity=".137"/><path d="M335.7 76.15A12.8 12.8 0 0 0 333.48 76.34" stroke-opacity=".137"/><path d="M333.48 76.34A12.8 12.8 0 0 0 331.32 76.92" stroke-opacity=".113"/><path d="M331.32 76.92A12.8 12.8 0 0 0 329.3 77.86" stroke-opacity=".077"/><path d="M329.3 77.86A12.8 12.8 0 0 0 327.47 79.14" stroke-opacity=".047"/><path d="M327.47 79.14A12.8 12.8 0 0 0 325.89 80.72" stroke-opacity=".03"/><path d="M325.89 80.72A12.8 12.8 0 0 0 324.61 82.55" stroke-opacity=".026"/><path d="M324.61 82.55A12.8 12.8 0 0 0 323.67 84.57" stroke-opacity=".03"/><path d="M323.67 84.57A12.8 12.8 0 0 0 323.09 86.73" stroke-opacity=".036"/><path d="M323.09 86.73A12.8 12.8 0 0 0 322.9 88.95" stroke-opacity=".04"/><path d="M322.9 88.95A12.8 12.8 0 0 0 323.09 91.17" stroke-opacity=".039"/><path d="M323.09 91.17A12.8 12.8 0 0 0 323.67 93.33" stroke-opacity=".035"/><path d="M323.67 93.33A12.8 12.8 0 0 0 324.61 95.35" stroke-opacity=".029"/><path d="M324.61 95.35A12.8 12.8 0 0 0 325.89 97.18" stroke-opacity=".023"/><path d="M325.89 97.18A12.8 12.8 0 0 0 327.47 98.76" stroke-opacity=".022"/><path d="M327.47 98.76A12.8 12.8 0 0 0 329.3 100.04" stroke-opacity=".03"/><path d="M329.3 100.04A12.8 12.8 0 0 0 331.32 100.98" stroke-opacity=".051"/><path d="M331.32 100.98A12.8 12.8 0 0 0 333.48 101.56" stroke-opacity=".081"/><path d="M333.48 101.56A12.8 12.8 0 0 0 335.7 101.75" stroke-opacity=".109"/><path d="M335.7 101.75A12.8 12.8 0 0 0 337.92 101.56" stroke-opacity=".12"/><path d="M337.92 101.56A12.8 12.8 0 0 0 340.08 100.98" stroke-opacity=".108"/><path d="M340.08 100.98A12.8 12.8 0 0 0 342.1 100.04" stroke-opacity=".079"/><path d="M342.1 100.04A12.8 12.8 0 0 0 343.93 98.76" stroke-opacity=".047"/><path d="M343.93 98.76A12.8 12.8 0 0 0 345.51 97.18" stroke-opacity=".023"/><path d="M345.51 97.18A12.8 12.8 0 0 0 346.79 95.35" stroke-opacity=".009"/></g></g>
</g></g>
<radialGradient id="gb01" gradientUnits="userSpaceOnUse" cx="335.7" cy="165.35" r="56"><stop offset="0" stop-opacity=".982"/><stop offset=".012" stop-opacity=".966"/><stop offset=".025" stop-opacity=".921"/><stop offset=".037" stop-opacity=".848"/><stop offset=".05" stop-opacity=".753"/><stop offset=".062" stop-opacity=".643"/><stop offset=".075" stop-opacity=".525"/><stop offset=".087" stop-opacity=".407"/><stop offset=".1" stop-opacity=".296"/><stop offset=".113" stop-opacity=".198"/><stop offset=".125" stop-opacity=".118"/><stop offset=".137" stop-opacity=".06"/><stop offset=".15" stop-opacity=".025"/><stop offset=".163" stop-opacity=".015"/><stop offset=".175" stop-opacity=".025"/><stop offset=".188" stop-opacity=".044"/><stop offset=".2" stop-opacity=".069"/><stop offset=".212" stop-opacity=".098"/><stop offset=".225" stop-opacity=".127"/><stop offset=".237" stop-opacity=".147"/><stop offset=".25" stop-opacity=".155"/><stop offset=".263" stop-opacity=".147"/><stop offset=".275" stop-opacity=".127"/><stop offset=".287" stop-opacity=".099"/><stop offset=".3" stop-opacity=".07"/><stop offset=".312" stop-opacity=".046"/><stop offset=".325" stop-opacity=".029"/><stop offset=".337" stop-opacity=".022"/><stop offset=".35" stop-opacity=".023"/><stop offset=".362" stop-opacity=".031"/><stop offset=".375" stop-opacity=".046"/><stop offset=".388" stop-opacity=".064"/><stop offset=".4" stop-opacity=".083"/><stop offset=".412" stop-opacity=".097"/><stop offset=".425" stop-opacity=".105"/><stop offset=".438" stop-opacity=".103"/><stop offset=".45" stop-opacity=".092"/><stop offset=".462" stop-opacity=".075"/><stop offset=".475" stop-opacity=".056"/><stop offset=".487" stop-opacity=".039"/><stop offset=".5" stop-opacity=".027"/><stop offset=".512" stop-opacity=".021"/><stop offset=".525" stop-opacity=".021"/><stop offset=".537" stop-opacity=".027"/><stop offset=".55" stop-opacity=".038"/><stop offset=".562" stop-opacity=".053"/><stop offset=".575" stop-opacity=".068"/><stop offset=".588" stop-opacity=".081"/><stop offset=".6" stop-opacity=".089"/><stop offset=".612" stop-opacity=".089"/><stop offset=".625" stop-opacity=".083"/><stop offset=".637" stop-opacity=".07"/><stop offset=".65" stop-opacity=".055"/><stop offset=".662" stop-opacity=".04"/><stop offset=".675" stop-opacity=".029"/><stop offset=".688" stop-opacity=".021"/><stop offset=".7" stop-opacity=".019"/><stop offset=".713" stop-opacity=".023"/><stop offset=".725" stop-opacity=".031"/><stop offset=".737" stop-opacity=".043"/><stop offset=".75" stop-opacity=".057"/><stop offset=".762" stop-opacity=".069"/><stop offset=".775" stop-opacity=".078"/><stop offset=".787" stop-opacity=".08"/><stop offset=".8" stop-opacity=".076"/><stop offset=".812" stop-opacity=".066"/><stop offset=".825" stop-opacity=".053"/><stop offset=".838" stop-opacity=".039"/><stop offset=".85" stop-opacity=".026"/><stop offset=".862" stop-opacity=".016"/><stop offset=".875" stop-opacity=".009"/><stop offset=".887" stop-opacity=".005"/><stop offset=".9" stop-opacity=".002"/><stop offset=".912" stop-opacity=".001"/><stop offset=".925" stop-opacity="0"/><stop offset=".938" stop-opacity="0"/><stop offset=".95" stop-opacity="0"/><stop offset=".963" stop-opacity="0"/><stop offset=".975" stop-opacity="0"/><stop offset=".987" stop-opacity="0"/><stop offset="1" stop-opacity="0"/></radialGradient>
<clipPath id="cpb01"><rect x="298.3" y="128.6" width="73.2" height="73.1"/></clipPath>
<filter id="fjb01" filterUnits="userSpaceOnUse" x="292.3" y="122.6" width="85.2" height="85.1" color-interpolation-filters="sRGB"><feGaussianBlur in="SourceGraphic" stdDeviation="0.5" result="s"/><feComponentTransfer><feFuncR type="table" tableValues="0 0 0 0 0.5 1 1 1 0.56"/><feFuncG type="table" tableValues="0 0 0.5 1 1 1 0.5 0 0"/><feFuncB type="table" tableValues="0.56 1 1 1 0.5 0 0 0 0"/></feComponentTransfer></filter>
<g clip-path="url(#cpb01)"><g filter="url(#fjb01)">
<rect x="292.3" y="122.6" width="85.2" height="85.1" fill="#050505"/>
<rect x="292.3" y="122.6" width="85.2" height="85.1" fill="url(#gb01)"/>
</g></g>
<radialGradient id="gb10" gradientUnits="userSpaceOnUse" cx="412.4" cy="88.95" r="56"><stop offset="0" stop-opacity=".975"/><stop offset=".012" stop-opacity=".955"/><stop offset=".025" stop-opacity=".897"/><stop offset=".037" stop-opacity=".807"/><stop offset=".05" stop-opacity=".691"/><stop offset=".062" stop-opacity=".562"/><stop offset=".075" stop-opacity=".428"/><stop offset=".087" stop-opacity=".302"/><stop offset=".1" stop-opacity=".193"/><stop offset=".113" stop-opacity=".107"/><stop offset=".125" stop-opacity=".051"/><stop offset=".137" stop-opacity=".026"/><stop offset=".15" stop-opacity=".032"/><stop offset=".163" stop-opacity=".052"/><stop offset=".175" stop-opacity=".078"/><stop offset=".188" stop-opacity=".107"/><stop offset=".2" stop-opacity=".136"/><stop offset=".212" stop-opacity=".159"/><stop offset=".225" stop-opacity=".17"/><stop offset=".237" stop-opacity=".167"/><stop offset=".25" stop-opacity=".151"/><stop offset=".263" stop-opacity=".126"/><stop offset=".275" stop-opacity=".099"/><stop offset=".287" stop-opacity=".073"/><stop offset=".3" stop-opacity=".055"/><stop offset=".312" stop-opacity=".045"/><stop offset=".325" stop-opacity=".044"/><stop offset=".337" stop-opacity=".05"/><stop offset=".35" stop-opacity=".062"/><stop offset=".362" stop-opacity=".075"/><stop offset=".375" stop-opacity=".087"/><stop offset=".388" stop-opacity=".097"/><stop offset=".4" stop-opacity=".101"/><stop offset=".412" stop-opacity=".099"/><stop offset=".425" stop-opacity=".093"/><stop offset=".438" stop-opacity=".083"/><stop offset=".45" stop-opacity=".072"/><stop offset=".462" stop-opacity=".062"/><stop offset=".475" stop-opacity=".055"/><stop offset=".487" stop-opacity=".053"/><stop offset=".5" stop-opacity=".055"/><stop offset=".512" stop-opacity=".06"/><stop offset=".525" stop-opacity=".067"/><stop offset=".537" stop-opacity=".074"/><stop offset=".55" stop-opacity=".079"/><stop offset=".562" stop-opacity=".081"/><stop offset=".575" stop-opacity=".08"/><stop offset=".588" stop-opacity=".074"/><stop offset=".6" stop-opacity=".067"/><stop offset=".612" stop-opacity=".059"/><stop offset=".625" stop-opacity=".053"/><stop offset=".637" stop-opacity=".048"/><stop offset=".65" stop-opacity=".047"/><stop offset=".662" stop-opacity=".048"/><stop offset=".675" stop-opacity=".052"/><stop offset=".688" stop-opacity=".057"/><stop offset=".7" stop-opacity=".062"/><stop offset=".713" stop-opacity=".065"/><stop offset=".725" stop-opacity=".066"/><stop offset=".737" stop-opacity=".063"/><stop offset=".75" stop-opacity=".058"/><stop offset=".762" stop-opacity=".05"/><stop offset=".775" stop-opacity=".041"/><stop offset=".787" stop-opacity=".032"/><stop offset=".8" stop-opacity=".023"/><stop offset=".812" stop-opacity=".016"/><stop offset=".825" stop-opacity=".011"/><stop offset=".838" stop-opacity=".007"/><stop offset=".85" stop-opacity=".004"/><stop offset=".862" stop-opacity=".002"/><stop offset=".875" stop-opacity=".001"/><stop offset=".887" stop-opacity=".001"/><stop offset=".9" stop-opacity="0"/><stop offset=".912" stop-opacity="0"/><stop offset=".925" stop-opacity="0"/><stop offset=".938" stop-opacity="0"/><stop offset=".95" stop-opacity="0"/><stop offset=".963" stop-opacity="0"/><stop offset=".975" stop-opacity="0"/><stop offset=".987" stop-opacity="0"/><stop offset="1" stop-opacity="0"/></radialGradient>
<clipPath id="cpb10"><rect x="375" y="52.2" width="73.2" height="73.1"/></clipPath>
<filter id="fjb10" filterUnits="userSpaceOnUse" x="369" y="46.2" width="85.2" height="85.1" color-interpolation-filters="sRGB"><feGaussianBlur in="SourceGraphic" stdDeviation="0.6" result="s"/><feTurbulence type="fractalNoise" baseFrequency="0.3" numOctaves="1" seed="8" result="t"/><feColorMatrix in="t" type="matrix" values="1 0 0 0 0 1 0 0 0 0 1 0 0 0 0 0 0 0 0 1" result="n"/><feComposite in="s" in2="n" operator="arithmetic" k1="0.3" k2="0.85" k3="0.05" k4="-0.03"/><feComponentTransfer><feFuncR type="table" tableValues="0 0 0 0 0.5 1 1 1 0.56"/><feFuncG type="table" tableValues="0 0 0.5 1 1 1 0.5 0 0"/><feFuncB type="table" tableValues="0.56 1 1 1 0.5 0 0 0 0"/></feComponentTransfer></filter>
<g clip-path="url(#cpb10)"><g filter="url(#fjb10)">
<rect x="369" y="46.2" width="85.2" height="85.1" fill="#060606"/>
<rect x="369" y="46.2" width="85.2" height="85.1" fill="url(#gb10)"/><filter id="rbb10" x="-20%" y="-20%" width="140%" height="140%"><feGaussianBlur stdDeviation="1.6"/></filter><g filter="url(#rbb10)" fill="none" stroke="#fff"><g stroke-width="3.5"><path d="M423.49 82.55A12.8 12.8 0 0 0 422.21 80.72" stroke-opacity=".006"/><path d="M422.21 80.72A12.8 12.8 0 0 0 420.63 79.14" stroke-opacity=".015"/><path d="M420.63 79.14A12.8 12.8 0 0 0 418.8 77.86" stroke-opacity=".031"/><path d="M418.8 77.86A12.8 12.8 0 0 0 416.78 76.92" stroke-opacity=".054"/><path d="M416.78 76.92A12.8 12.8 0 0 0 414.62 76.34" stroke-opacity=".08"/><path d="M414.62 76.34A12.8 12.8 0 0 0 412.4 76.15" stroke-opacity=".102"/><path d="M412.4 76.15A12.8 12.8 0 0 0 410.18 76.34" stroke-opacity=".11"/><path d="M410.18 76.34A12.8 12.8 0 0 0 408.02 76.92" stroke-opacity=".102"/><path d="M408.02 76.92A12.8 12.8 0 0 0 406 77.86" stroke-opacity=".082"/><path d="M406 77.86A12.8 12.8 0 0 0 404.17 79.14" stroke-opacity=".059"/><path d="M404.17 79.14A12.8 12.8 0 0 0 402.59 80.72" stroke-opacity=".042"/><path d="M402.59 80.72A12.8 12.8 0 0 0 401.31 82.55" stroke-opacity=".037"/><path d="M401.31 82.55A12.8 12.8 0 0 0 400.37 84.57" stroke-opacity=".043"/><path d="M400.37 84.57A12.8 12.8 0 0 0 399.79 86.73" stroke-opacity=".052"/><path d="M399.79 86.73A12.8 12.8 0 0 0 399.6 88.95" stroke-opacity=".06"/><path d="M399.6 88.95A12.8 12.8 0 0 0 399.79 91.17" stroke-opacity=".059"/><path d="M399.79 91.17A12.8 12.8 0 0 0 400.37 93.33" stroke-opacity=".051"/><path d="M400.37 93.33A12.8 12.8 0 0 0 401.31 95.35" stroke-opacity=".04"/><path d="M401.31 95.35A12.8 12.8 0 0 0 402.59 97.18" stroke-opacity=".032"/><path d="M402.59 97.18A12.8 12.8 0 0 0 404.17 98.76" stroke-opacity=".034"/><path d="M404.17 98.76A12.8 12.8 0 0 0 406 100.04" stroke-opacity=".047"/><path d="M406 100.04A12.8 12.8 0 0 0 408.02 100.98" stroke-opacity=".069"/><path d="M408.02 100.98A12.8 12.8 0 0 0 410.18 101.56" stroke-opacity=".093"/><path d="M410.18 101.56A12.8 12.8 0 0 0 412.4 101.75" stroke-opacity=".108"/><path d="M412.4 101.75A12.8 12.8 0 0 0 414.62 101.56" stroke-opacity=".108"/><path d="M414.62 101.56A12.8 12.8 0 0 0 416.78 100.98" stroke-opacity=".092"/><path d="M416.78 100.98A12.8 12.8 0 0 0 418.8 100.04" stroke-opacity=".067"/><path d="M418.8 100.04A12.8 12.8 0 0 0 420.63 98.76" stroke-opacity=".041"/><path d="M420.63 98.76A12.8 12.8 0 0 0 422.21 97.18" stroke-opacity=".022"/><path d="M422.21 97.18A12.8 12.8 0 0 0 423.49 95.35" stroke-opacity=".01"/></g></g>
</g></g>
<radialGradient id="gb11" gradientUnits="userSpaceOnUse" cx="412.4" cy="165.35" r="56"><stop offset="0" stop-opacity=".982"/><stop offset=".012" stop-opacity=".966"/><stop offset=".025" stop-opacity=".921"/><stop offset=".037" stop-opacity=".848"/><stop offset=".05" stop-opacity=".753"/><stop offset=".062" stop-opacity=".643"/><stop offset=".075" stop-opacity=".525"/><stop offset=".087" stop-opacity=".407"/><stop offset=".1" stop-opacity=".296"/><stop offset=".113" stop-opacity=".198"/><stop offset=".125" stop-opacity=".118"/><stop offset=".137" stop-opacity=".06"/><stop offset=".15" stop-opacity=".025"/><stop offset=".163" stop-opacity=".015"/><stop offset=".175" stop-opacity=".025"/><stop offset=".188" stop-opacity=".044"/><stop offset=".2" stop-opacity=".069"/><stop offset=".212" stop-opacity=".098"/><stop offset=".225" stop-opacity=".127"/><stop offset=".237" stop-opacity=".147"/><stop offset=".25" stop-opacity=".155"/><stop offset=".263" stop-opacity=".147"/><stop offset=".275" stop-opacity=".127"/><stop offset=".287" stop-opacity=".099"/><stop offset=".3" stop-opacity=".07"/><stop offset=".312" stop-opacity=".046"/><stop offset=".325" stop-opacity=".029"/><stop offset=".337" stop-opacity=".022"/><stop offset=".35" stop-opacity=".023"/><stop offset=".362" stop-opacity=".031"/><stop offset=".375" stop-opacity=".046"/><stop offset=".388" stop-opacity=".064"/><stop offset=".4" stop-opacity=".083"/><stop offset=".412" stop-opacity=".097"/><stop offset=".425" stop-opacity=".105"/><stop offset=".438" stop-opacity=".103"/><stop offset=".45" stop-opacity=".092"/><stop offset=".462" stop-opacity=".075"/><stop offset=".475" stop-opacity=".056"/><stop offset=".487" stop-opacity=".039"/><stop offset=".5" stop-opacity=".027"/><stop offset=".512" stop-opacity=".021"/><stop offset=".525" stop-opacity=".021"/><stop offset=".537" stop-opacity=".027"/><stop offset=".55" stop-opacity=".038"/><stop offset=".562" stop-opacity=".053"/><stop offset=".575" stop-opacity=".068"/><stop offset=".588" stop-opacity=".081"/><stop offset=".6" stop-opacity=".089"/><stop offset=".612" stop-opacity=".089"/><stop offset=".625" stop-opacity=".083"/><stop offset=".637" stop-opacity=".07"/><stop offset=".65" stop-opacity=".055"/><stop offset=".662" stop-opacity=".04"/><stop offset=".675" stop-opacity=".029"/><stop offset=".688" stop-opacity=".021"/><stop offset=".7" stop-opacity=".019"/><stop offset=".713" stop-opacity=".023"/><stop offset=".725" stop-opacity=".031"/><stop offset=".737" stop-opacity=".043"/><stop offset=".75" stop-opacity=".057"/><stop offset=".762" stop-opacity=".069"/><stop offset=".775" stop-opacity=".078"/><stop offset=".787" stop-opacity=".08"/><stop offset=".8" stop-opacity=".076"/><stop offset=".812" stop-opacity=".066"/><stop offset=".825" stop-opacity=".053"/><stop offset=".838" stop-opacity=".039"/><stop offset=".85" stop-opacity=".026"/><stop offset=".862" stop-opacity=".016"/><stop offset=".875" stop-opacity=".009"/><stop offset=".887" stop-opacity=".005"/><stop offset=".9" stop-opacity=".002"/><stop offset=".912" stop-opacity=".001"/><stop offset=".925" stop-opacity="0"/><stop offset=".938" stop-opacity="0"/><stop offset=".95" stop-opacity="0"/><stop offset=".963" stop-opacity="0"/><stop offset=".975" stop-opacity="0"/><stop offset=".987" stop-opacity="0"/><stop offset="1" stop-opacity="0"/></radialGradient>
<clipPath id="cpb11"><rect x="375" y="128.6" width="73.2" height="73.1"/></clipPath>
<filter id="fjb11" filterUnits="userSpaceOnUse" x="369" y="122.6" width="85.2" height="85.1" color-interpolation-filters="sRGB"><feGaussianBlur in="SourceGraphic" stdDeviation="0.5" result="s"/><feComponentTransfer><feFuncR type="table" tableValues="0 0 0 0 0.5 1 1 1 0.56"/><feFuncG type="table" tableValues="0 0 0.5 1 1 1 0.5 0 0"/><feFuncB type="table" tableValues="0.56 1 1 1 0.5 0 0 0 0"/></feComponentTransfer></filter>
<g clip-path="url(#cpb11)"><g filter="url(#fjb11)">
<rect x="369" y="122.6" width="85.2" height="85.1" fill="#050505"/>
<rect x="369" y="122.6" width="85.2" height="85.1" fill="url(#gb11)"/>
</g></g>
<radialGradient id="gb20" gradientUnits="userSpaceOnUse" cx="487.2" cy="88.95" r="56"><stop offset="0" stop-opacity=".975"/><stop offset=".012" stop-opacity=".954"/><stop offset=".025" stop-opacity=".891"/><stop offset=".037" stop-opacity=".795"/><stop offset=".05" stop-opacity=".673"/><stop offset=".062" stop-opacity=".537"/><stop offset=".075" stop-opacity=".399"/><stop offset=".087" stop-opacity=".272"/><stop offset=".1" stop-opacity=".165"/><stop offset=".113" stop-opacity=".086"/><stop offset=".125" stop-opacity=".04"/><stop offset=".137" stop-opacity=".027"/><stop offset=".15" stop-opacity=".042"/><stop offset=".163" stop-opacity=".066"/><stop offset=".175" stop-opacity=".095"/><stop offset=".188" stop-opacity=".124"/><stop offset=".2" stop-opacity=".15"/><stop offset=".212" stop-opacity=".166"/><stop offset=".225" stop-opacity=".17"/><stop offset=".237" stop-opacity=".159"/><stop offset=".25" stop-opacity=".137"/><stop offset=".263" stop-opacity=".109"/><stop offset=".275" stop-opacity=".082"/><stop offset=".287" stop-opacity=".059"/><stop offset=".3" stop-opacity=".044"/><stop offset=".312" stop-opacity=".038"/><stop offset=".325" stop-opacity=".04"/><stop offset=".337" stop-opacity=".048"/><stop offset=".35" stop-opacity=".06"/><stop offset=".362" stop-opacity=".074"/><stop offset=".375" stop-opacity=".087"/><stop offset=".388" stop-opacity=".096"/><stop offset=".4" stop-opacity=".101"/><stop offset=".412" stop-opacity=".099"/><stop offset=".425" stop-opacity=".093"/><stop offset=".438" stop-opacity=".083"/><stop offset=".45" stop-opacity=".072"/><stop offset=".462" stop-opacity=".062"/><stop offset=".475" stop-opacity=".055"/><stop offset=".487" stop-opacity=".053"/><stop offset=".5" stop-opacity=".055"/><stop offset=".512" stop-opacity=".06"/><stop offset=".525" stop-opacity=".067"/><stop offset=".537" stop-opacity=".074"/><stop offset=".55" stop-opacity=".079"/><stop offset=".562" stop-opacity=".081"/><stop offset=".575" stop-opacity=".08"/><stop offset=".588" stop-opacity=".074"/><stop offset=".6" stop-opacity=".067"/><stop offset=".612" stop-opacity=".059"/><stop offset=".625" stop-opacity=".053"/><stop offset=".637" stop-opacity=".048"/><stop offset=".65" stop-opacity=".047"/><stop offset=".662" stop-opacity=".048"/><stop offset=".675" stop-opacity=".052"/><stop offset=".688" stop-opacity=".057"/><stop offset=".7" stop-opacity=".062"/><stop offset=".713" stop-opacity=".065"/><stop offset=".725" stop-opacity=".066"/><stop offset=".737" stop-opacity=".063"/><stop offset=".75" stop-opacity=".058"/><stop offset=".762" stop-opacity=".05"/><stop offset=".775" stop-opacity=".041"/><stop offset=".787" stop-opacity=".032"/><stop offset=".8" stop-opacity=".023"/><stop offset=".812" stop-opacity=".016"/><stop offset=".825" stop-opacity=".011"/><stop offset=".838" stop-opacity=".007"/><stop offset=".85" stop-opacity=".004"/><stop offset=".862" stop-opacity=".002"/><stop offset=".875" stop-opacity=".001"/><stop offset=".887" stop-opacity=".001"/><stop offset=".9" stop-opacity="0"/><stop offset=".912" stop-opacity="0"/><stop offset=".925" stop-opacity="0"/><stop offset=".938" stop-opacity="0"/><stop offset=".95" stop-opacity="0"/><stop offset=".963" stop-opacity="0"/><stop offset=".975" stop-opacity="0"/><stop offset=".987" stop-opacity="0"/><stop offset="1" stop-opacity="0"/></radialGradient>
<clipPath id="cpb20"><rect x="451" y="52.2" width="73.2" height="73.1"/></clipPath>
<filter id="fjb20" filterUnits="userSpaceOnUse" x="445" y="46.2" width="85.2" height="85.1" color-interpolation-filters="sRGB"><feGaussianBlur in="SourceGraphic" stdDeviation="0.6" result="s"/><feTurbulence type="fractalNoise" baseFrequency="0.3" numOctaves="1" seed="9" result="t"/><feColorMatrix in="t" type="matrix" values="1 0 0 0 0 1 0 0 0 0 1 0 0 0 0 0 0 0 0 1" result="n"/><feComposite in="s" in2="n" operator="arithmetic" k1="0.3" k2="0.85" k3="0.05" k4="-0.03"/><feComponentTransfer><feFuncR type="table" tableValues="0 0 0 0 0.5 1 1 1 0.56"/><feFuncG type="table" tableValues="0 0 0.5 1 1 1 0.5 0 0"/><feFuncB type="table" tableValues="0.56 1 1 1 0.5 0 0 0 0"/></feComponentTransfer></filter>
<g clip-path="url(#cpb20)"><g filter="url(#fjb20)">
<rect x="445" y="46.2" width="85.2" height="85.1" fill="#060606"/>
<rect x="445" y="46.2" width="85.2" height="85.1" fill="url(#gb20)"/><filter id="rbb20" x="-20%" y="-20%" width="140%" height="140%"><feGaussianBlur stdDeviation="1.6"/></filter><g filter="url(#rbb20)" fill="none" stroke="#fff"><g stroke-width="3.5"><path d="M499.41 86.8A12.4 12.4 0 0 0 498.85 84.71" stroke-opacity=".008"/><path d="M498.85 84.71A12.4 12.4 0 0 0 497.94 82.75" stroke-opacity=".015"/><path d="M497.94 82.75A12.4 12.4 0 0 0 496.7 80.98" stroke-opacity=".024"/><path d="M496.7 80.98A12.4 12.4 0 0 0 495.17 79.45" stroke-opacity=".033"/><path d="M495.17 79.45A12.4 12.4 0 0 0 493.4 78.21" stroke-opacity=".039"/><path d="M493.4 78.21A12.4 12.4 0 0 0 491.44 77.3" stroke-opacity=".039"/><path d="M491.44 77.3A12.4 12.4 0 0 0 489.35 76.74" stroke-opacity=".034"/><path d="M489.35 76.74A12.4 12.4 0 0 0 487.2 76.55" stroke-opacity=".026"/><path d="M487.2 76.55A12.4 12.4 0 0 0 485.05 76.74" stroke-opacity=".019"/><path d="M485.05 76.74A12.4 12.4 0 0 0 482.96 77.3" stroke-opacity=".019"/><path d="M482.96 77.3A12.4 12.4 0 0 0 481 78.21" stroke-opacity=".029"/><path d="M481 78.21A12.4 12.4 0 0 0 479.23 79.45" stroke-opacity=".05"/><path d="M479.23 79.45A12.4 12.4 0 0 0 477.7 80.98" stroke-opacity=".079"/><path d="M477.7 80.98A12.4 12.4 0 0 0 476.46 82.75" stroke-opacity=".109"/><path d="M476.46 82.75A12.4 12.4 0 0 0 475.55 84.71" stroke-opacity=".127"/><path d="M475.55 84.71A12.4 12.4 0 0 0 474.99 86.8" stroke-opacity=".127"/><path d="M474.99 86.8A12.4 12.4 0 0 0 474.8 88.95" stroke-opacity=".109"/><path d="M474.8 88.95A12.4 12.4 0 0 0 474.99 91.1" stroke-opacity=".08"/><path d="M474.99 91.1A12.4 12.4 0 0 0 475.55 93.19" stroke-opacity=".054"/><path d="M475.55 93.19A12.4 12.4 0 0 0 476.46 95.15" stroke-opacity=".039"/><path d="M476.46 95.15A12.4 12.4 0 0 0 477.7 96.92" stroke-opacity=".043"/><path d="M477.7 96.92A12.4 12.4 0 0 0 479.23 98.45" stroke-opacity=".062"/><path d="M479.23 98.45A12.4 12.4 0 0 0 481 99.69" stroke-opacity=".089"/><path d="M481 99.69A12.4 12.4 0 0 0 482.96 100.6" stroke-opacity=".108"/><path d="M482.96 100.6A12.4 12.4 0 0 0 485.05 101.16" stroke-opacity=".107"/><path d="M485.05 101.16A12.4 12.4 0 0 0 487.2 101.35" stroke-opacity=".087"/><path d="M487.2 101.35A12.4 12.4 0 0 0 489.35 101.16" stroke-opacity=".058"/><path d="M489.35 101.16A12.4 12.4 0 0 0 491.44 100.6" stroke-opacity=".031"/><path d="M491.44 100.6A12.4 12.4 0 0 0 493.4 99.69" stroke-opacity=".014"/><path d="M493.4 99.69A12.4 12.4 0 0 0 495.17 98.45" stroke-opacity=".005"/></g></g>
</g></g>
<radialGradient id="gb21" gradientUnits="userSpaceOnUse" cx="488.4" cy="165.35" r="56"><stop offset="0" stop-opacity=".982"/><stop offset=".012" stop-opacity=".966"/><stop offset=".025" stop-opacity=".921"/><stop offset=".037" stop-opacity=".848"/><stop offset=".05" stop-opacity=".753"/><stop offset=".062" stop-opacity=".643"/><stop offset=".075" stop-opacity=".525"/><stop offset=".087" stop-opacity=".407"/><stop offset=".1" stop-opacity=".296"/><stop offset=".113" stop-opacity=".198"/><stop offset=".125" stop-opacity=".118"/><stop offset=".137" stop-opacity=".06"/><stop offset=".15" stop-opacity=".025"/><stop offset=".163" stop-opacity=".015"/><stop offset=".175" stop-opacity=".025"/><stop offset=".188" stop-opacity=".044"/><stop offset=".2" stop-opacity=".069"/><stop offset=".212" stop-opacity=".098"/><stop offset=".225" stop-opacity=".127"/><stop offset=".237" stop-opacity=".147"/><stop offset=".25" stop-opacity=".155"/><stop offset=".263" stop-opacity=".147"/><stop offset=".275" stop-opacity=".127"/><stop offset=".287" stop-opacity=".099"/><stop offset=".3" stop-opacity=".07"/><stop offset=".312" stop-opacity=".046"/><stop offset=".325" stop-opacity=".029"/><stop offset=".337" stop-opacity=".022"/><stop offset=".35" stop-opacity=".023"/><stop offset=".362" stop-opacity=".031"/><stop offset=".375" stop-opacity=".046"/><stop offset=".388" stop-opacity=".064"/><stop offset=".4" stop-opacity=".083"/><stop offset=".412" stop-opacity=".097"/><stop offset=".425" stop-opacity=".105"/><stop offset=".438" stop-opacity=".103"/><stop offset=".45" stop-opacity=".092"/><stop offset=".462" stop-opacity=".075"/><stop offset=".475" stop-opacity=".056"/><stop offset=".487" stop-opacity=".039"/><stop offset=".5" stop-opacity=".027"/><stop offset=".512" stop-opacity=".021"/><stop offset=".525" stop-opacity=".021"/><stop offset=".537" stop-opacity=".027"/><stop offset=".55" stop-opacity=".038"/><stop offset=".562" stop-opacity=".053"/><stop offset=".575" stop-opacity=".068"/><stop offset=".588" stop-opacity=".081"/><stop offset=".6" stop-opacity=".089"/><stop offset=".612" stop-opacity=".089"/><stop offset=".625" stop-opacity=".083"/><stop offset=".637" stop-opacity=".07"/><stop offset=".65" stop-opacity=".055"/><stop offset=".662" stop-opacity=".04"/><stop offset=".675" stop-opacity=".029"/><stop offset=".688" stop-opacity=".021"/><stop offset=".7" stop-opacity=".019"/><stop offset=".713" stop-opacity=".023"/><stop offset=".725" stop-opacity=".031"/><stop offset=".737" stop-opacity=".043"/><stop offset=".75" stop-opacity=".057"/><stop offset=".762" stop-opacity=".069"/><stop offset=".775" stop-opacity=".078"/><stop offset=".787" stop-opacity=".08"/><stop offset=".8" stop-opacity=".076"/><stop offset=".812" stop-opacity=".066"/><stop offset=".825" stop-opacity=".053"/><stop offset=".838" stop-opacity=".039"/><stop offset=".85" stop-opacity=".026"/><stop offset=".862" stop-opacity=".016"/><stop offset=".875" stop-opacity=".009"/><stop offset=".887" stop-opacity=".005"/><stop offset=".9" stop-opacity=".002"/><stop offset=".912" stop-opacity=".001"/><stop offset=".925" stop-opacity="0"/><stop offset=".938" stop-opacity="0"/><stop offset=".95" stop-opacity="0"/><stop offset=".963" stop-opacity="0"/><stop offset=".975" stop-opacity="0"/><stop offset=".987" stop-opacity="0"/><stop offset="1" stop-opacity="0"/></radialGradient>
<clipPath id="cpb21"><rect x="451" y="128.6" width="73.2" height="73.1"/></clipPath>
<filter id="fjb21" filterUnits="userSpaceOnUse" x="445" y="122.6" width="85.2" height="85.1" color-interpolation-filters="sRGB"><feGaussianBlur in="SourceGraphic" stdDeviation="0.5" result="s"/><feComponentTransfer><feFuncR type="table" tableValues="0 0 0 0 0.5 1 1 1 0.56"/><feFuncG type="table" tableValues="0 0 0.5 1 1 1 0.5 0 0"/><feFuncB type="table" tableValues="0.56 1 1 1 0.5 0 0 0 0"/></feComponentTransfer></filter>
<g clip-path="url(#cpb21)"><g filter="url(#fjb21)">
<rect x="445" y="122.6" width="85.2" height="85.1" fill="#050505"/>
<rect x="445" y="122.6" width="85.2" height="85.1" fill="url(#gb21)"/>
</g></g>
<clipPath id="cpc00"><rect x="24.2" y="280.6" width="73.3" height="73.1"/></clipPath>
<filter id="fjc00" filterUnits="userSpaceOnUse" x="18.2" y="274.6" width="85.3" height="85.1" color-interpolation-filters="sRGB"><feGaussianBlur in="SourceGraphic" stdDeviation="0.5" result="s"/><feTurbulence type="fractalNoise" baseFrequency="0.5" numOctaves="1" seed="17" result="t"/><feColorMatrix in="t" type="matrix" values="1 0 0 0 0 1 0 0 0 0 1 0 0 0 0 0 0 0 0 1" result="n"/><feComposite in="s" in2="n" operator="arithmetic" k1="0.5" k2="0.75" k3="0.09" k4="-0.04"/><feComponentTransfer><feFuncR type="table" tableValues="0 0 0 0 0.5 1 1 1 0.56"/><feFuncG type="table" tableValues="0 0 0.5 1 1 1 0.5 0 0"/><feFuncB type="table" tableValues="0.56 1 1 1 0.5 0 0 0 0"/></feComponentTransfer></filter>
<g clip-path="url(#cpc00)"><g filter="url(#fjc00)">
<rect x="18.2" y="274.6" width="85.3" height="85.1" fill="#080808"/>
<filter id="rbc00" x="-20%" y="-20%" width="140%" height="140%"><feGaussianBlur stdDeviation="1.4"/></filter><g filter="url(#rbc00)" fill="none" stroke="#fff"><g stroke-width="2.6"><path d="M74.9 317.45A14 14 0 0 0 74.69 315.02" stroke-opacity=".011"/><path d="M74.69 315.02A14 14 0 0 0 74.06 312.66" stroke-opacity=".012"/><path d="M74.06 312.66A14 14 0 0 0 73.02 310.45" stroke-opacity=".014"/><path d="M73.02 310.45A14 14 0 0 0 71.62 308.45" stroke-opacity=".017"/><path d="M71.62 308.45A14 14 0 0 0 69.9 306.73" stroke-opacity=".023"/><path d="M69.9 306.73A14 14 0 0 0 67.9 305.33" stroke-opacity=".03"/><path d="M67.9 305.33A14 14 0 0 0 65.69 304.29" stroke-opacity=".038"/><path d="M65.69 304.29A14 14 0 0 0 63.33 303.66" stroke-opacity=".045"/><path d="M63.33 303.66A14 14 0 0 0 60.9 303.45" stroke-opacity=".049"/><path d="M60.9 303.45A14 14 0 0 0 58.47 303.66" stroke-opacity=".049"/><path d="M58.47 303.66A14 14 0 0 0 56.11 304.29" stroke-opacity=".045"/><path d="M56.11 304.29A14 14 0 0 0 53.9 305.33" stroke-opacity=".038"/><path d="M53.9 305.33A14 14 0 0 0 51.9 306.73" stroke-opacity=".03"/><path d="M51.9 306.73A14 14 0 0 0 50.18 308.45" stroke-opacity=".023"/><path d="M50.18 308.45A14 14 0 0 0 48.78 310.45" stroke-opacity=".017"/><path d="M48.78 310.45A14 14 0 0 0 47.74 312.66" stroke-opacity=".014"/><path d="M47.74 312.66A14 14 0 0 0 47.11 315.02" stroke-opacity=".012"/><path d="M47.11 315.02A14 14 0 0 0 46.9 317.45" stroke-opacity=".011"/><path d="M46.9 317.45A14 14 0 0 0 47.11 319.88" stroke-opacity=".011"/><path d="M47.11 319.88A14 14 0 0 0 47.74 322.24" stroke-opacity=".012"/><path d="M47.74 322.24A14 14 0 0 0 48.78 324.45" stroke-opacity=".014"/><path d="M48.78 324.45A14 14 0 0 0 50.18 326.45" stroke-opacity=".017"/><path d="M50.18 326.45A14 14 0 0 0 51.9 328.17" stroke-opacity=".023"/><path d="M51.9 328.17A14 14 0 0 0 53.9 329.57" stroke-opacity=".03"/><path d="M53.9 329.57A14 14 0 0 0 56.11 330.61" stroke-opacity=".038"/><path d="M56.11 330.61A14 14 0 0 0 58.47 331.24" stroke-opacity=".045"/><path d="M58.47 331.24A14 14 0 0 0 60.9 331.45" stroke-opacity=".049"/><path d="M60.9 331.45A14 14 0 0 0 63.33 331.24" stroke-opacity=".049"/><path d="M63.33 331.24A14 14 0 0 0 65.69 330.61" stroke-opacity=".045"/><path d="M65.69 330.61A14 14 0 0 0 67.9 329.57" stroke-opacity=".038"/><path d="M67.9 329.57A14 14 0 0 0 69.9 328.17" stroke-opacity=".03"/><path d="M69.9 328.17A14 14 0 0 0 71.62 326.45" stroke-opacity=".023"/><path d="M71.62 326.45A14 14 0 0 0 73.02 324.45" stroke-opacity=".017"/><path d="M73.02 324.45A14 14 0 0 0 74.06 322.24" stroke-opacity=".014"/><path d="M74.06 322.24A14 14 0 0 0 74.69 319.88" stroke-opacity=".012"/><path d="M74.69 319.88A14 14 0 0 0 74.9 317.45" stroke-opacity=".011"/></g><g stroke-width="4.8"><path d="M83.9 317.45A23 23 0 0 0 83.77 315.05" stroke-opacity=".298"/><path d="M83.77 315.05A23 23 0 0 0 83.4 312.67" stroke-opacity=".283"/><path d="M83.4 312.67A23 23 0 0 0 82.77 310.34" stroke-opacity=".254"/><path d="M82.77 310.34A23 23 0 0 0 81.91 308.1" stroke-opacity=".217"/><path d="M81.91 308.1A23 23 0 0 0 80.82 305.95" stroke-opacity=".175"/><path d="M80.82 305.95A23 23 0 0 0 79.51 303.93" stroke-opacity=".134"/><path d="M79.51 303.93A23 23 0 0 0 77.99 302.06" stroke-opacity=".097"/><path d="M77.99 302.06A23 23 0 0 0 76.29 300.36" stroke-opacity=".067"/><path d="M76.29 300.36A23 23 0 0 0 74.42 298.84" stroke-opacity=".044"/><path d="M74.42 298.84A23 23 0 0 0 72.4 297.53" stroke-opacity=".027"/><path d="M72.4 297.53A23 23 0 0 0 70.25 296.44" stroke-opacity=".016"/><path d="M70.25 296.44A23 23 0 0 0 68.01 295.58" stroke-opacity=".009"/><path d="M68.01 295.58A23 23 0 0 0 65.68 294.95" stroke-opacity=".005"/><path d="M56.12 294.95A23 23 0 0 0 53.79 295.58" stroke-opacity=".005"/><path d="M53.79 295.58A23 23 0 0 0 51.55 296.44" stroke-opacity=".009"/><path d="M51.55 296.44A23 23 0 0 0 49.4 297.53" stroke-opacity=".016"/><path d="M49.4 297.53A23 23 0 0 0 47.38 298.84" stroke-opacity=".027"/><path d="M47.38 298.84A23 23 0 0 0 45.51 300.36" stroke-opacity=".044"/><path d="M45.51 300.36A23 23 0 0 0 43.81 302.06" stroke-opacity=".067"/><path d="M43.81 302.06A23 23 0 0 0 42.29 303.93" stroke-opacity=".097"/><path d="M42.29 303.93A23 23 0 0 0 40.98 305.95" stroke-opacity=".134"/><path d="M40.98 305.95A23 23 0 0 0 39.89 308.1" stroke-opacity=".175"/><path d="M39.89 308.1A23 23 0 0 0 39.03 310.34" stroke-opacity=".217"/><path d="M39.03 310.34A23 23 0 0 0 38.4 312.67" stroke-opacity=".254"/><path d="M38.4 312.67A23 23 0 0 0 38.03 315.05" stroke-opacity=".283"/><path d="M38.03 315.05A23 23 0 0 0 37.9 317.45" stroke-opacity=".298"/><path d="M37.9 317.45A23 23 0 0 0 38.03 319.85" stroke-opacity=".298"/><path d="M38.03 319.85A23 23 0 0 0 38.4 322.23" stroke-opacity=".283"/><path d="M38.4 322.23A23 23 0 0 0 39.03 324.56" stroke-opacity=".254"/><path d="M39.03 324.56A23 23 0 0 0 39.89 326.8" stroke-opacity=".217"/><path d="M39.89 326.8A23 23 0 0 0 40.98 328.95" stroke-opacity=".175"/><path d="M40.98 328.95A23 23 0 0 0 42.29 330.97" stroke-opacity=".134"/><path d="M42.29 330.97A23 23 0 0 0 43.81 332.84" stroke-opacity=".097"/><path d="M43.81 332.84A23 23 0 0 0 45.51 334.54" stroke-opacity=".067"/><path d="M45.51 334.54A23 23 0 0 0 47.38 336.06" stroke-opacity=".044"/><path d="M47.38 336.06A23 23 0 0 0 49.4 337.37" stroke-opacity=".027"/><path d="M49.4 337.37A23 23 0 0 0 51.55 338.46" stroke-opacity=".016"/><path d="M51.55 338.46A23 23 0 0 0 53.79 339.32" stroke-opacity=".009"/><path d="M53.79 339.32A23 23 0 0 0 56.12 339.95" stroke-opacity=".005"/><path d="M65.68 339.95A23 23 0 0 0 68.01 339.32" stroke-opacity=".005"/><path d="M68.01 339.32A23 23 0 0 0 70.25 338.46" stroke-opacity=".009"/><path d="M70.25 338.46A23 23 0 0 0 72.4 337.37" stroke-opacity=".016"/><path d="M72.4 337.37A23 23 0 0 0 74.42 336.06" stroke-opacity=".027"/><path d="M74.42 336.06A23 23 0 0 0 76.29 334.54" stroke-opacity=".044"/><path d="M76.29 334.54A23 23 0 0 0 77.99 332.84" stroke-opacity=".067"/><path d="M77.99 332.84A23 23 0 0 0 79.51 330.97" stroke-opacity=".097"/><path d="M79.51 330.97A23 23 0 0 0 80.82 328.95" stroke-opacity=".134"/><path d="M80.82 328.95A23 23 0 0 0 81.91 326.8" stroke-opacity=".175"/><path d="M81.91 326.8A23 23 0 0 0 82.77 324.56" stroke-opacity=".217"/><path d="M82.77 324.56A23 23 0 0 0 83.4 322.23" stroke-opacity=".254"/><path d="M83.4 322.23A23 23 0 0 0 83.77 319.85" stroke-opacity=".283"/><path d="M83.77 319.85A23 23 0 0 0 83.9 317.45" stroke-opacity=".298"/></g><g stroke-width="4"><path d="M95.9 317.45A35 35 0 0 0 95.56 312.58" stroke-opacity=".073"/><path d="M95.56 312.58A35 35 0 0 0 94.54 307.8" stroke-opacity=".073"/><path d="M94.54 307.8A35 35 0 0 0 92.87 303.21" stroke-opacity=".081"/><path d="M92.87 303.21A35 35 0 0 0 90.58 298.9" stroke-opacity=".099"/><path d="M90.58 298.9A35 35 0 0 0 87.71 294.95" stroke-opacity=".115"/><path d="M87.71 294.95A35 35 0 0 0 84.32 291.44" stroke-opacity=".113"/><path d="M84.32 291.44A35 35 0 0 0 80.47 288.43" stroke-opacity=".091"/><path d="M80.47 288.43A35 35 0 0 0 76.24 285.99" stroke-opacity=".061"/><path d="M76.24 285.99A35 35 0 0 0 71.72 284.16" stroke-opacity=".037"/><path d="M71.72 284.16A35 35 0 0 0 66.98 282.98" stroke-opacity=".023"/><path d="M66.98 282.98A35 35 0 0 0 62.12 282.47" stroke-opacity=".017"/><path d="M62.12 282.47A35 35 0 0 0 57.24 282.64" stroke-opacity=".017"/><path d="M57.24 282.64A35 35 0 0 0 52.43 283.49" stroke-opacity=".019"/><path d="M52.43 283.49A35 35 0 0 0 47.79 285" stroke-opacity=".029"/><path d="M47.79 285A35 35 0 0 0 43.4 287.14" stroke-opacity=".047"/><path d="M43.4 287.14A35 35 0 0 0 39.35 289.87" stroke-opacity=".076"/><path d="M39.35 289.87A35 35 0 0 0 35.72 293.14" stroke-opacity=".104"/><path d="M35.72 293.14A35 35 0 0 0 32.58 296.88" stroke-opacity=".116"/><path d="M32.58 296.88A35 35 0 0 0 30 301.02" stroke-opacity=".108"/><path d="M30 301.02A35 35 0 0 0 28.01 305.48" stroke-opacity=".09"/><path d="M28.01 305.48A35 35 0 0 0 26.66 310.17" stroke-opacity=".076"/><path d="M26.66 310.17A35 35 0 0 0 25.99 315.01" stroke-opacity=".073"/><path d="M25.99 315.01A35 35 0 0 0 25.99 319.89" stroke-opacity=".074"/><path d="M25.99 319.89A35 35 0 0 0 26.66 324.73" stroke-opacity=".073"/><path d="M26.66 324.73A35 35 0 0 0 28.01 329.42" stroke-opacity=".076"/><path d="M28.01 329.42A35 35 0 0 0 30 333.88" stroke-opacity=".09"/><path d="M30 333.88A35 35 0 0 0 32.58 338.02" stroke-opacity=".108"/><path d="M32.58 338.02A35 35 0 0 0 35.72 341.76" stroke-opacity=".116"/><path d="M35.72 341.76A35 35 0 0 0 39.35 345.03" stroke-opacity=".104"/><path d="M39.35 345.03A35 35 0 0 0 43.4 347.76" stroke-opacity=".076"/><path d="M43.4 347.76A35 35 0 0 0 47.79 349.9" stroke-opacity=".047"/><path d="M47.79 349.9A35 35 0 0 0 52.43 351.41" stroke-opacity=".029"/><path d="M52.43 351.41A35 35 0 0 0 57.24 352.26" stroke-opacity=".019"/><path d="M57.24 352.26A35 35 0 0 0 62.12 352.43" stroke-opacity=".017"/><path d="M62.12 352.43A35 35 0 0 0 66.98 351.92" stroke-opacity=".017"/><path d="M66.98 351.92A35 35 0 0 0 71.72 350.74" stroke-opacity=".023"/><path d="M71.72 350.74A35 35 0 0 0 76.24 348.91" stroke-opacity=".037"/><path d="M76.24 348.91A35 35 0 0 0 80.47 346.47" stroke-opacity=".061"/><path d="M80.47 346.47A35 35 0 0 0 84.32 343.46" stroke-opacity=".091"/><path d="M84.32 343.46A35 35 0 0 0 87.71 339.95" stroke-opacity=".113"/><path d="M87.71 339.95A35 35 0 0 0 90.58 336" stroke-opacity=".115"/><path d="M90.58 336A35 35 0 0 0 92.87 331.69" stroke-opacity=".099"/><path d="M92.87 331.69A35 35 0 0 0 94.54 327.1" stroke-opacity=".081"/><path d="M94.54 327.1A35 35 0 0 0 95.56 322.32" stroke-opacity=".073"/><path d="M95.56 322.32A35 35 0 0 0 95.9 317.45" stroke-opacity=".073"/></g></g><radialGradient id="scc001"><stop offset="0" stop-opacity="1"/><stop offset=".053" stop-opacity=".996"/><stop offset=".105" stop-opacity=".98"/><stop offset=".158" stop-opacity=".946"/><stop offset=".211" stop-opacity=".891"/><stop offset=".263" stop-opacity=".818"/><stop offset=".316" stop-opacity=".728"/><stop offset=".368" stop-opacity=".627"/><stop offset=".421" stop-opacity=".522"/><stop offset=".474" stop-opacity=".417"/><stop offset=".526" stop-opacity=".321"/><stop offset=".579" stop-opacity=".236"/><stop offset=".632" stop-opacity=".166"/><stop offset=".684" stop-opacity=".112"/><stop offset=".737" stop-opacity=".072"/><stop offset=".789" stop-opacity=".044"/><stop offset=".842" stop-opacity=".025"/><stop offset=".895" stop-opacity=".014"/><stop offset=".947" stop-opacity=".007"/><stop offset="1" stop-opacity=".003"/></radialGradient><ellipse cx="60.9" cy="317.45" rx="7.8" ry="12.8" fill="url(#scc001)"/><radialGradient id="scc000"><stop offset="0" stop-opacity=".74"/><stop offset=".053" stop-opacity=".737"/><stop offset=".105" stop-opacity=".725"/><stop offset=".158" stop-opacity=".7"/><stop offset=".211" stop-opacity=".66"/><stop offset=".263" stop-opacity=".605"/><stop offset=".316" stop-opacity=".539"/><stop offset=".368" stop-opacity=".464"/><stop offset=".421" stop-opacity=".386"/><stop offset=".474" stop-opacity=".309"/><stop offset=".526" stop-opacity=".237"/><stop offset=".579" stop-opacity=".175"/><stop offset=".632" stop-opacity=".123"/><stop offset=".684" stop-opacity=".083"/><stop offset=".737" stop-opacity=".053"/><stop offset=".789" stop-opacity=".032"/><stop offset=".842" stop-opacity=".019"/><stop offset=".895" stop-opacity=".01"/><stop offset=".947" stop-opacity=".005"/><stop offset="1" stop-opacity=".003"/></radialGradient><ellipse cx="47.9" cy="317.45" rx="7.4" ry="13.2" fill="url(#scc000)"/><radialGradient id="scc002"><stop offset="0" stop-opacity=".6"/><stop offset=".053" stop-opacity=".598"/><stop offset=".105" stop-opacity=".588"/><stop offset=".158" stop-opacity=".567"/><stop offset=".211" stop-opacity=".535"/><stop offset=".263" stop-opacity=".491"/><stop offset=".316" stop-opacity=".437"/><stop offset=".368" stop-opacity=".376"/><stop offset=".421" stop-opacity=".313"/><stop offset=".474" stop-opacity=".25"/><stop offset=".526" stop-opacity=".193"/><stop offset=".579" stop-opacity=".142"/><stop offset=".632" stop-opacity=".1"/><stop offset=".684" stop-opacity=".067"/><stop offset=".737" stop-opacity=".043"/><stop offset=".789" stop-opacity=".026"/><stop offset=".842" stop-opacity=".015"/><stop offset=".895" stop-opacity=".008"/><stop offset=".947" stop-opacity=".004"/><stop offset="1" stop-opacity=".002"/></radialGradient><ellipse cx="73.1" cy="317.45" rx="7.4" ry="13.2" fill="url(#scc002)"/>
</g></g>
<clipPath id="cpc01"><rect x="24.2" y="356.8" width="73.3" height="73.1"/></clipPath>
<filter id="fjc01" filterUnits="userSpaceOnUse" x="18.2" y="350.8" width="85.3" height="85.1" color-interpolation-filters="sRGB"><feGaussianBlur in="SourceGraphic" stdDeviation="0.5" result="s"/><feComponentTransfer><feFuncR type="table" tableValues="0 0 0 0 0.5 1 1 1 0.56"/><feFuncG type="table" tableValues="0 0 0.5 1 1 1 0.5 0 0"/><feFuncB type="table" tableValues="0.56 1 1 1 0.5 0 0 0 0"/></feComponentTransfer></filter>
<g clip-path="url(#cpc01)"><g filter="url(#fjc01)">
<rect x="18.2" y="350.8" width="85.3" height="85.1" fill="#0a0a0a"/>
<filter id="rbc01" x="-20%" y="-20%" width="140%" height="140%"><feGaussianBlur stdDeviation="1.4"/></filter><g filter="url(#rbc01)" fill="none" stroke="#fff"><g stroke-width="3"><path d="M74.75 393.65A13.6 13.6 0 0 0 74.54 391.29" stroke-opacity=".032"/><path d="M74.54 391.29A13.6 13.6 0 0 0 73.93 389" stroke-opacity=".034"/><path d="M73.93 389A13.6 13.6 0 0 0 72.93 386.85" stroke-opacity=".038"/><path d="M72.93 386.85A13.6 13.6 0 0 0 71.57 384.91" stroke-opacity=".045"/><path d="M71.57 384.91A13.6 13.6 0 0 0 69.89 383.23" stroke-opacity=".056"/><path d="M69.89 383.23A13.6 13.6 0 0 0 67.95 381.87" stroke-opacity=".071"/><path d="M67.95 381.87A13.6 13.6 0 0 0 65.8 380.87" stroke-opacity=".087"/><path d="M65.8 380.87A13.6 13.6 0 0 0 63.51 380.26" stroke-opacity=".101"/><path d="M63.51 380.26A13.6 13.6 0 0 0 61.15 380.05" stroke-opacity=".109"/><path d="M61.15 380.05A13.6 13.6 0 0 0 58.79 380.26" stroke-opacity=".109"/><path d="M58.79 380.26A13.6 13.6 0 0 0 56.5 380.87" stroke-opacity=".101"/><path d="M56.5 380.87A13.6 13.6 0 0 0 54.35 381.87" stroke-opacity=".087"/><path d="M54.35 381.87A13.6 13.6 0 0 0 52.41 383.23" stroke-opacity=".071"/><path d="M52.41 383.23A13.6 13.6 0 0 0 50.73 384.91" stroke-opacity=".056"/><path d="M50.73 384.91A13.6 13.6 0 0 0 49.37 386.85" stroke-opacity=".045"/><path d="M49.37 386.85A13.6 13.6 0 0 0 48.37 389" stroke-opacity=".038"/><path d="M48.37 389A13.6 13.6 0 0 0 47.76 391.29" stroke-opacity=".034"/><path d="M47.76 391.29A13.6 13.6 0 0 0 47.55 393.65" stroke-opacity=".032"/><path d="M47.55 393.65A13.6 13.6 0 0 0 47.76 396.01" stroke-opacity=".032"/><path d="M47.76 396.01A13.6 13.6 0 0 0 48.37 398.3" stroke-opacity=".034"/><path d="M48.37 398.3A13.6 13.6 0 0 0 49.37 400.45" stroke-opacity=".038"/><path d="M49.37 400.45A13.6 13.6 0 0 0 50.73 402.39" stroke-opacity=".045"/><path d="M50.73 402.39A13.6 13.6 0 0 0 52.41 404.07" stroke-opacity=".056"/><path d="M52.41 404.07A13.6 13.6 0 0 0 54.35 405.43" stroke-opacity=".071"/><path d="M54.35 405.43A13.6 13.6 0 0 0 56.5 406.43" stroke-opacity=".087"/><path d="M56.5 406.43A13.6 13.6 0 0 0 58.79 407.04" stroke-opacity=".101"/><path d="M58.79 407.04A13.6 13.6 0 0 0 61.15 407.25" stroke-opacity=".109"/><path d="M61.15 407.25A13.6 13.6 0 0 0 63.51 407.04" stroke-opacity=".109"/><path d="M63.51 407.04A13.6 13.6 0 0 0 65.8 406.43" stroke-opacity=".101"/><path d="M65.8 406.43A13.6 13.6 0 0 0 67.95 405.43" stroke-opacity=".087"/><path d="M67.95 405.43A13.6 13.6 0 0 0 69.89 404.07" stroke-opacity=".071"/><path d="M69.89 404.07A13.6 13.6 0 0 0 71.57 402.39" stroke-opacity=".056"/><path d="M71.57 402.39A13.6 13.6 0 0 0 72.93 400.45" stroke-opacity=".045"/><path d="M72.93 400.45A13.6 13.6 0 0 0 73.93 398.3" stroke-opacity=".038"/><path d="M73.93 398.3A13.6 13.6 0 0 0 74.54 396.01" stroke-opacity=".034"/><path d="M74.54 396.01A13.6 13.6 0 0 0 74.75 393.65" stroke-opacity=".032"/></g><g stroke-width="5.5"><path d="M85.65 393.65A24.5 24.5 0 0 0 85.52 391.09" stroke-opacity=".127"/><path d="M85.52 391.09A24.5 24.5 0 0 0 85.11 388.56" stroke-opacity=".132"/><path d="M85.11 388.56A24.5 24.5 0 0 0 84.45 386.08" stroke-opacity=".148"/><path d="M84.45 386.08A24.5 24.5 0 0 0 83.53 383.68" stroke-opacity=".176"/><path d="M83.53 383.68A24.5 24.5 0 0 0 82.37 381.4" stroke-opacity=".206"/><path d="M82.37 381.4A24.5 24.5 0 0 0 80.97 379.25" stroke-opacity=".223"/><path d="M80.97 379.25A24.5 24.5 0 0 0 79.36 377.26" stroke-opacity=".215"/><path d="M79.36 377.26A24.5 24.5 0 0 0 77.54 375.44" stroke-opacity=".181"/><path d="M77.54 375.44A24.5 24.5 0 0 0 75.55 373.83" stroke-opacity=".133"/><path d="M75.55 373.83A24.5 24.5 0 0 0 73.4 372.43" stroke-opacity=".088"/><path d="M73.4 372.43A24.5 24.5 0 0 0 71.12 371.27" stroke-opacity=".055"/><path d="M71.12 371.27A24.5 24.5 0 0 0 68.72 370.35" stroke-opacity=".035"/><path d="M68.72 370.35A24.5 24.5 0 0 0 66.24 369.69" stroke-opacity=".026"/><path d="M66.24 369.69A24.5 24.5 0 0 0 63.71 369.28" stroke-opacity=".022"/><path d="M63.71 369.28A24.5 24.5 0 0 0 61.15 369.15" stroke-opacity=".021"/><path d="M61.15 369.15A24.5 24.5 0 0 0 58.59 369.28" stroke-opacity=".021"/><path d="M58.59 369.28A24.5 24.5 0 0 0 56.06 369.69" stroke-opacity=".022"/><path d="M56.06 369.69A24.5 24.5 0 0 0 53.58 370.35" stroke-opacity=".026"/><path d="M53.58 370.35A24.5 24.5 0 0 0 51.18 371.27" stroke-opacity=".035"/><path d="M51.18 371.27A24.5 24.5 0 0 0 48.9 372.43" stroke-opacity=".055"/><path d="M48.9 372.43A24.5 24.5 0 0 0 46.75 373.83" stroke-opacity=".088"/><path d="M46.75 373.83A24.5 24.5 0 0 0 44.76 375.44" stroke-opacity=".133"/><path d="M44.76 375.44A24.5 24.5 0 0 0 42.94 377.26" stroke-opacity=".181"/><path d="M42.94 377.26A24.5 24.5 0 0 0 41.33 379.25" stroke-opacity=".215"/><path d="M41.33 379.25A24.5 24.5 0 0 0 39.93 381.4" stroke-opacity=".223"/><path d="M39.93 381.4A24.5 24.5 0 0 0 38.77 383.68" stroke-opacity=".206"/><path d="M38.77 383.68A24.5 24.5 0 0 0 37.85 386.08" stroke-opacity=".176"/><path d="M37.85 386.08A24.5 24.5 0 0 0 37.19 388.56" stroke-opacity=".148"/><path d="M37.19 388.56A24.5 24.5 0 0 0 36.78 391.09" stroke-opacity=".132"/><path d="M36.78 391.09A24.5 24.5 0 0 0 36.65 393.65" stroke-opacity=".127"/><path d="M36.65 393.65A24.5 24.5 0 0 0 36.78 396.21" stroke-opacity=".127"/><path d="M36.78 396.21A24.5 24.5 0 0 0 37.19 398.74" stroke-opacity=".132"/><path d="M37.19 398.74A24.5 24.5 0 0 0 37.85 401.22" stroke-opacity=".148"/><path d="M37.85 401.22A24.5 24.5 0 0 0 38.77 403.62" stroke-opacity=".176"/><path d="M38.77 403.62A24.5 24.5 0 0 0 39.93 405.9" stroke-opacity=".206"/><path d="M39.93 405.9A24.5 24.5 0 0 0 41.33 408.05" stroke-opacity=".223"/><path d="M41.33 408.05A24.5 24.5 0 0 0 42.94 410.04" stroke-opacity=".215"/><path d="M42.94 410.04A24.5 24.5 0 0 0 44.76 411.86" stroke-opacity=".181"/><path d="M44.76 411.86A24.5 24.5 0 0 0 46.75 413.47" stroke-opacity=".133"/><path d="M46.75 413.47A24.5 24.5 0 0 0 48.9 414.87" stroke-opacity=".088"/><path d="M48.9 414.87A24.5 24.5 0 0 0 51.18 416.03" stroke-opacity=".055"/><path d="M51.18 416.03A24.5 24.5 0 0 0 53.58 416.95" stroke-opacity=".035"/><path d="M53.58 416.95A24.5 24.5 0 0 0 56.06 417.61" stroke-opacity=".026"/><path d="M56.06 417.61A24.5 24.5 0 0 0 58.59 418.02" stroke-opacity=".022"/><path d="M58.59 418.02A24.5 24.5 0 0 0 61.15 418.15" stroke-opacity=".021"/><path d="M61.15 418.15A24.5 24.5 0 0 0 63.71 418.02" stroke-opacity=".021"/><path d="M63.71 418.02A24.5 24.5 0 0 0 66.24 417.61" stroke-opacity=".022"/><path d="M66.24 417.61A24.5 24.5 0 0 0 68.72 416.95" stroke-opacity=".026"/><path d="M68.72 416.95A24.5 24.5 0 0 0 71.12 416.03" stroke-opacity=".035"/><path d="M71.12 416.03A24.5 24.5 0 0 0 73.4 414.87" stroke-opacity=".055"/><path d="M73.4 414.87A24.5 24.5 0 0 0 75.55 413.47" stroke-opacity=".088"/><path d="M75.55 413.47A24.5 24.5 0 0 0 77.54 411.86" stroke-opacity=".133"/><path d="M77.54 411.86A24.5 24.5 0 0 0 79.36 410.04" stroke-opacity=".181"/><path d="M79.36 410.04A24.5 24.5 0 0 0 80.97 408.05" stroke-opacity=".215"/><path d="M80.97 408.05A24.5 24.5 0 0 0 82.37 405.9" stroke-opacity=".223"/><path d="M82.37 405.9A24.5 24.5 0 0 0 83.53 403.62" stroke-opacity=".206"/><path d="M83.53 403.62A24.5 24.5 0 0 0 84.45 401.22" stroke-opacity=".176"/><path d="M84.45 401.22A24.5 24.5 0 0 0 85.11 398.74" stroke-opacity=".148"/><path d="M85.11 398.74A24.5 24.5 0 0 0 85.52 396.21" stroke-opacity=".132"/><path d="M85.52 396.21A24.5 24.5 0 0 0 85.65 393.65" stroke-opacity=".127"/></g><g stroke-width="4.5"><path d="M96.65 393.65A35.5 35.5 0 0 0 96.3 388.71" stroke-opacity=".129"/><path d="M96.3 388.71A35.5 35.5 0 0 0 95.27 383.86" stroke-opacity=".119"/><path d="M95.27 383.86A35.5 35.5 0 0 0 93.58 379.21" stroke-opacity=".103"/><path d="M93.58 379.21A35.5 35.5 0 0 0 91.26 374.84" stroke-opacity=".085"/><path d="M91.26 374.84A35.5 35.5 0 0 0 88.34 370.83" stroke-opacity=".072"/><path d="M88.34 370.83A35.5 35.5 0 0 0 84.9 367.27" stroke-opacity=".072"/><path d="M84.9 367.27A35.5 35.5 0 0 0 81 364.22" stroke-opacity=".082"/><path d="M81 364.22A35.5 35.5 0 0 0 76.71 361.74" stroke-opacity=".086"/><path d="M76.71 361.74A35.5 35.5 0 0 0 72.12 359.89" stroke-opacity=".073"/><path d="M72.12 359.89A35.5 35.5 0 0 0 67.31 358.69" stroke-opacity=".052"/><path d="M67.31 358.69A35.5 35.5 0 0 0 62.39 358.17" stroke-opacity=".038"/><path d="M62.39 358.17A35.5 35.5 0 0 0 57.44 358.34" stroke-opacity=".035"/><path d="M57.44 358.34A35.5 35.5 0 0 0 52.56 359.2" stroke-opacity=".043"/><path d="M52.56 359.2A35.5 35.5 0 0 0 47.85 360.73" stroke-opacity=".062"/><path d="M47.85 360.73A35.5 35.5 0 0 0 43.4 362.91" stroke-opacity=".081"/><path d="M43.4 362.91A35.5 35.5 0 0 0 39.29 365.68" stroke-opacity=".085"/><path d="M39.29 365.68A35.5 35.5 0 0 0 35.61 368.99" stroke-opacity=".076"/><path d="M35.61 368.99A35.5 35.5 0 0 0 32.43 372.78" stroke-opacity=".07"/><path d="M32.43 372.78A35.5 35.5 0 0 0 29.81 376.98" stroke-opacity=".077"/><path d="M29.81 376.98A35.5 35.5 0 0 0 27.79 381.51" stroke-opacity=".094"/><path d="M27.79 381.51A35.5 35.5 0 0 0 26.43 386.27" stroke-opacity=".112"/><path d="M26.43 386.27A35.5 35.5 0 0 0 25.74 391.17" stroke-opacity=".125"/><path d="M25.74 391.17A35.5 35.5 0 0 0 25.74 396.13" stroke-opacity=".13"/><path d="M25.74 396.13A35.5 35.5 0 0 0 26.43 401.03" stroke-opacity=".125"/><path d="M26.43 401.03A35.5 35.5 0 0 0 27.79 405.79" stroke-opacity=".112"/><path d="M27.79 405.79A35.5 35.5 0 0 0 29.81 410.32" stroke-opacity=".094"/><path d="M29.81 410.32A35.5 35.5 0 0 0 32.43 414.52" stroke-opacity=".077"/><path d="M32.43 414.52A35.5 35.5 0 0 0 35.61 418.31" stroke-opacity=".07"/><path d="M35.61 418.31A35.5 35.5 0 0 0 39.29 421.62" stroke-opacity=".076"/><path d="M39.29 421.62A35.5 35.5 0 0 0 43.4 424.39" stroke-opacity=".085"/><path d="M43.4 424.39A35.5 35.5 0 0 0 47.85 426.57" stroke-opacity=".081"/><path d="M47.85 426.57A35.5 35.5 0 0 0 52.56 428.1" stroke-opacity=".062"/><path d="M52.56 428.1A35.5 35.5 0 0 0 57.44 428.96" stroke-opacity=".043"/><path d="M57.44 428.96A35.5 35.5 0 0 0 62.39 429.13" stroke-opacity=".035"/><path d="M62.39 429.13A35.5 35.5 0 0 0 67.31 428.61" stroke-opacity=".038"/><path d="M67.31 428.61A35.5 35.5 0 0 0 72.12 427.41" stroke-opacity=".052"/><path d="M72.12 427.41A35.5 35.5 0 0 0 76.71 425.56" stroke-opacity=".073"/><path d="M76.71 425.56A35.5 35.5 0 0 0 81 423.08" stroke-opacity=".086"/><path d="M81 423.08A35.5 35.5 0 0 0 84.9 420.03" stroke-opacity=".082"/><path d="M84.9 420.03A35.5 35.5 0 0 0 88.34 416.47" stroke-opacity=".072"/><path d="M88.34 416.47A35.5 35.5 0 0 0 91.26 412.46" stroke-opacity=".072"/><path d="M91.26 412.46A35.5 35.5 0 0 0 93.58 408.09" stroke-opacity=".085"/><path d="M93.58 408.09A35.5 35.5 0 0 0 95.27 403.44" stroke-opacity=".103"/><path d="M95.27 403.44A35.5 35.5 0 0 0 96.3 398.59" stroke-opacity=".119"/><path d="M96.3 398.59A35.5 35.5 0 0 0 96.65 393.65" stroke-opacity=".129"/></g></g><radialGradient id="scc011"><stop offset="0" stop-opacity="1"/><stop offset=".053" stop-opacity=".998"/><stop offset=".105" stop-opacity=".987"/><stop offset=".158" stop-opacity=".961"/><stop offset=".211" stop-opacity=".915"/><stop offset=".263" stop-opacity=".847"/><stop offset=".316" stop-opacity=".759"/><stop offset=".368" stop-opacity=".654"/><stop offset=".421" stop-opacity=".539"/><stop offset=".474" stop-opacity=".423"/><stop offset=".526" stop-opacity=".315"/><stop offset=".579" stop-opacity=".221"/><stop offset=".632" stop-opacity=".146"/><stop offset=".684" stop-opacity=".09"/><stop offset=".737" stop-opacity=".052"/><stop offset=".789" stop-opacity=".028"/><stop offset=".842" stop-opacity=".014"/><stop offset=".895" stop-opacity=".006"/><stop offset=".947" stop-opacity=".003"/><stop offset="1" stop-opacity=".001"/></radialGradient><ellipse cx="61.15" cy="393.65" rx="7.7" ry="12.8" fill="url(#scc011)"/><radialGradient id="scc010" fx="0.6"><stop offset="0" stop-opacity=".55"/><stop offset=".053" stop-opacity=".549"/><stop offset=".105" stop-opacity=".543"/><stop offset=".158" stop-opacity=".529"/><stop offset=".211" stop-opacity=".503"/><stop offset=".263" stop-opacity=".466"/><stop offset=".316" stop-opacity=".417"/><stop offset=".368" stop-opacity=".359"/><stop offset=".421" stop-opacity=".296"/><stop offset=".474" stop-opacity=".233"/><stop offset=".526" stop-opacity=".173"/><stop offset=".579" stop-opacity=".122"/><stop offset=".632" stop-opacity=".08"/><stop offset=".684" stop-opacity=".05"/><stop offset=".737" stop-opacity=".028"/><stop offset=".789" stop-opacity=".015"/><stop offset=".842" stop-opacity=".007"/><stop offset=".895" stop-opacity=".003"/><stop offset=".947" stop-opacity=".001"/><stop offset="1" stop-opacity=".001"/></radialGradient><ellipse cx="46.85" cy="393.65" rx="7.2" ry="13.8" fill="url(#scc010)"/><radialGradient id="scc012" fx="0.4"><stop offset="0" stop-opacity=".55"/><stop offset=".053" stop-opacity=".549"/><stop offset=".105" stop-opacity=".543"/><stop offset=".158" stop-opacity=".529"/><stop offset=".211" stop-opacity=".503"/><stop offset=".263" stop-opacity=".466"/><stop offset=".316" stop-opacity=".417"/><stop offset=".368" stop-opacity=".359"/><stop offset=".421" stop-opacity=".296"/><stop offset=".474" stop-opacity=".233"/><stop offset=".526" stop-opacity=".173"/><stop offset=".579" stop-opacity=".122"/><stop offset=".632" stop-opacity=".08"/><stop offset=".684" stop-opacity=".05"/><stop offset=".737" stop-opacity=".028"/><stop offset=".789" stop-opacity=".015"/><stop offset=".842" stop-opacity=".007"/><stop offset=".895" stop-opacity=".003"/><stop offset=".947" stop-opacity=".001"/><stop offset="1" stop-opacity=".001"/></radialGradient><ellipse cx="75.45" cy="393.65" rx="7.2" ry="13.8" fill="url(#scc012)"/>
</g></g>
<clipPath id="cpc10"><rect x="101" y="280.6" width="73.3" height="73.1"/></clipPath>
<filter id="fjc10" filterUnits="userSpaceOnUse" x="95" y="274.6" width="85.3" height="85.1" color-interpolation-filters="sRGB"><feGaussianBlur in="SourceGraphic" stdDeviation="0.5" result="s"/><feTurbulence type="fractalNoise" baseFrequency="0.5" numOctaves="1" seed="18" result="t"/><feColorMatrix in="t" type="matrix" values="1 0 0 0 0 1 0 0 0 0 1 0 0 0 0 0 0 0 0 1" result="n"/><feComposite in="s" in2="n" operator="arithmetic" k1="0.5" k2="0.75" k3="0.09" k4="-0.04"/><feComponentTransfer><feFuncR type="table" tableValues="0 0 0 0 0.5 1 1 1 0.56"/><feFuncG type="table" tableValues="0 0 0.5 1 1 1 0.5 0 0"/><feFuncB type="table" tableValues="0.56 1 1 1 0.5 0 0 0 0"/></feComponentTransfer></filter>
<g clip-path="url(#cpc10)"><g filter="url(#fjc10)">
<rect x="95" y="274.6" width="85.3" height="85.1" fill="#080808"/>
<filter id="rbc10" x="-20%" y="-20%" width="140%" height="140%"><feGaussianBlur stdDeviation="1.4"/></filter><g filter="url(#rbc10)" fill="none" stroke="#fff"><g stroke-width="2.6"><path d="M151.95 317.45A14 14 0 0 0 151.74 315.02" stroke-opacity=".011"/><path d="M151.74 315.02A14 14 0 0 0 151.11 312.66" stroke-opacity=".012"/><path d="M151.11 312.66A14 14 0 0 0 150.07 310.45" stroke-opacity=".014"/><path d="M150.07 310.45A14 14 0 0 0 148.67 308.45" stroke-opacity=".017"/><path d="M148.67 308.45A14 14 0 0 0 146.95 306.73" stroke-opacity=".023"/><path d="M146.95 306.73A14 14 0 0 0 144.95 305.33" stroke-opacity=".03"/><path d="M144.95 305.33A14 14 0 0 0 142.74 304.29" stroke-opacity=".038"/><path d="M142.74 304.29A14 14 0 0 0 140.38 303.66" stroke-opacity=".045"/><path d="M140.38 303.66A14 14 0 0 0 137.95 303.45" stroke-opacity=".049"/><path d="M137.95 303.45A14 14 0 0 0 135.52 303.66" stroke-opacity=".049"/><path d="M135.52 303.66A14 14 0 0 0 133.16 304.29" stroke-opacity=".045"/><path d="M133.16 304.29A14 14 0 0 0 130.95 305.33" stroke-opacity=".038"/><path d="M130.95 305.33A14 14 0 0 0 128.95 306.73" stroke-opacity=".03"/><path d="M128.95 306.73A14 14 0 0 0 127.23 308.45" stroke-opacity=".023"/><path d="M127.23 308.45A14 14 0 0 0 125.83 310.45" stroke-opacity=".017"/><path d="M125.83 310.45A14 14 0 0 0 124.79 312.66" stroke-opacity=".014"/><path d="M124.79 312.66A14 14 0 0 0 124.16 315.02" stroke-opacity=".012"/><path d="M124.16 315.02A14 14 0 0 0 123.95 317.45" stroke-opacity=".011"/><path d="M123.95 317.45A14 14 0 0 0 124.16 319.88" stroke-opacity=".011"/><path d="M124.16 319.88A14 14 0 0 0 124.79 322.24" stroke-opacity=".012"/><path d="M124.79 322.24A14 14 0 0 0 125.83 324.45" stroke-opacity=".014"/><path d="M125.83 324.45A14 14 0 0 0 127.23 326.45" stroke-opacity=".017"/><path d="M127.23 326.45A14 14 0 0 0 128.95 328.17" stroke-opacity=".023"/><path d="M128.95 328.17A14 14 0 0 0 130.95 329.57" stroke-opacity=".03"/><path d="M130.95 329.57A14 14 0 0 0 133.16 330.61" stroke-opacity=".038"/><path d="M133.16 330.61A14 14 0 0 0 135.52 331.24" stroke-opacity=".045"/><path d="M135.52 331.24A14 14 0 0 0 137.95 331.45" stroke-opacity=".049"/><path d="M137.95 331.45A14 14 0 0 0 140.38 331.24" stroke-opacity=".049"/><path d="M140.38 331.24A14 14 0 0 0 142.74 330.61" stroke-opacity=".045"/><path d="M142.74 330.61A14 14 0 0 0 144.95 329.57" stroke-opacity=".038"/><path d="M144.95 329.57A14 14 0 0 0 146.95 328.17" stroke-opacity=".03"/><path d="M146.95 328.17A14 14 0 0 0 148.67 326.45" stroke-opacity=".023"/><path d="M148.67 326.45A14 14 0 0 0 150.07 324.45" stroke-opacity=".017"/><path d="M150.07 324.45A14 14 0 0 0 151.11 322.24" stroke-opacity=".014"/><path d="M151.11 322.24A14 14 0 0 0 151.74 319.88" stroke-opacity=".012"/><path d="M151.74 319.88A14 14 0 0 0 151.95 317.45" stroke-opacity=".011"/></g><g stroke-width="4.8"><path d="M160.95 317.45A23 23 0 0 0 160.82 315.05" stroke-opacity=".298"/><path d="M160.82 315.05A23 23 0 0 0 160.45 312.67" stroke-opacity=".283"/><path d="M160.45 312.67A23 23 0 0 0 159.82 310.34" stroke-opacity=".254"/><path d="M159.82 310.34A23 23 0 0 0 158.96 308.1" stroke-opacity=".217"/><path d="M158.96 308.1A23 23 0 0 0 157.87 305.95" stroke-opacity=".175"/><path d="M157.87 305.95A23 23 0 0 0 156.56 303.93" stroke-opacity=".134"/><path d="M156.56 303.93A23 23 0 0 0 155.04 302.06" stroke-opacity=".097"/><path d="M155.04 302.06A23 23 0 0 0 153.34 300.36" stroke-opacity=".067"/><path d="M153.34 300.36A23 23 0 0 0 151.47 298.84" stroke-opacity=".044"/><path d="M151.47 298.84A23 23 0 0 0 149.45 297.53" stroke-opacity=".027"/><path d="M149.45 297.53A23 23 0 0 0 147.3 296.44" stroke-opacity=".016"/><path d="M147.3 296.44A23 23 0 0 0 145.06 295.58" stroke-opacity=".009"/><path d="M145.06 295.58A23 23 0 0 0 142.73 294.95" stroke-opacity=".005"/><path d="M133.17 294.95A23 23 0 0 0 130.84 295.58" stroke-opacity=".005"/><path d="M130.84 295.58A23 23 0 0 0 128.6 296.44" stroke-opacity=".009"/><path d="M128.6 296.44A23 23 0 0 0 126.45 297.53" stroke-opacity=".016"/><path d="M126.45 297.53A23 23 0 0 0 124.43 298.84" stroke-opacity=".027"/><path d="M124.43 298.84A23 23 0 0 0 122.56 300.36" stroke-opacity=".044"/><path d="M122.56 300.36A23 23 0 0 0 120.86 302.06" stroke-opacity=".067"/><path d="M120.86 302.06A23 23 0 0 0 119.34 303.93" stroke-opacity=".097"/><path d="M119.34 303.93A23 23 0 0 0 118.03 305.95" stroke-opacity=".134"/><path d="M118.03 305.95A23 23 0 0 0 116.94 308.1" stroke-opacity=".175"/><path d="M116.94 308.1A23 23 0 0 0 116.08 310.34" stroke-opacity=".217"/><path d="M116.08 310.34A23 23 0 0 0 115.45 312.67" stroke-opacity=".254"/><path d="M115.45 312.67A23 23 0 0 0 115.08 315.05" stroke-opacity=".283"/><path d="M115.08 315.05A23 23 0 0 0 114.95 317.45" stroke-opacity=".298"/><path d="M114.95 317.45A23 23 0 0 0 115.08 319.85" stroke-opacity=".298"/><path d="M115.08 319.85A23 23 0 0 0 115.45 322.23" stroke-opacity=".283"/><path d="M115.45 322.23A23 23 0 0 0 116.08 324.56" stroke-opacity=".254"/><path d="M116.08 324.56A23 23 0 0 0 116.94 326.8" stroke-opacity=".217"/><path d="M116.94 326.8A23 23 0 0 0 118.03 328.95" stroke-opacity=".175"/><path d="M118.03 328.95A23 23 0 0 0 119.34 330.97" stroke-opacity=".134"/><path d="M119.34 330.97A23 23 0 0 0 120.86 332.84" stroke-opacity=".097"/><path d="M120.86 332.84A23 23 0 0 0 122.56 334.54" stroke-opacity=".067"/><path d="M122.56 334.54A23 23 0 0 0 124.43 336.06" stroke-opacity=".044"/><path d="M124.43 336.06A23 23 0 0 0 126.45 337.37" stroke-opacity=".027"/><path d="M126.45 337.37A23 23 0 0 0 128.6 338.46" stroke-opacity=".016"/><path d="M128.6 338.46A23 23 0 0 0 130.84 339.32" stroke-opacity=".009"/><path d="M130.84 339.32A23 23 0 0 0 133.17 339.95" stroke-opacity=".005"/><path d="M142.73 339.95A23 23 0 0 0 145.06 339.32" stroke-opacity=".005"/><path d="M145.06 339.32A23 23 0 0 0 147.3 338.46" stroke-opacity=".009"/><path d="M147.3 338.46A23 23 0 0 0 149.45 337.37" stroke-opacity=".016"/><path d="M149.45 337.37A23 23 0 0 0 151.47 336.06" stroke-opacity=".027"/><path d="M151.47 336.06A23 23 0 0 0 153.34 334.54" stroke-opacity=".044"/><path d="M153.34 334.54A23 23 0 0 0 155.04 332.84" stroke-opacity=".067"/><path d="M155.04 332.84A23 23 0 0 0 156.56 330.97" stroke-opacity=".097"/><path d="M156.56 330.97A23 23 0 0 0 157.87 328.95" stroke-opacity=".134"/><path d="M157.87 328.95A23 23 0 0 0 158.96 326.8" stroke-opacity=".175"/><path d="M158.96 326.8A23 23 0 0 0 159.82 324.56" stroke-opacity=".217"/><path d="M159.82 324.56A23 23 0 0 0 160.45 322.23" stroke-opacity=".254"/><path d="M160.45 322.23A23 23 0 0 0 160.82 319.85" stroke-opacity=".283"/><path d="M160.82 319.85A23 23 0 0 0 160.95 317.45" stroke-opacity=".298"/></g><g stroke-width="4"><path d="M172.95 317.45A35 35 0 0 0 172.61 312.58" stroke-opacity=".073"/><path d="M172.61 312.58A35 35 0 0 0 171.59 307.8" stroke-opacity=".073"/><path d="M171.59 307.8A35 35 0 0 0 169.92 303.21" stroke-opacity=".081"/><path d="M169.92 303.21A35 35 0 0 0 167.63 298.9" stroke-opacity=".099"/><path d="M167.63 298.9A35 35 0 0 0 164.76 294.95" stroke-opacity=".115"/><path d="M164.76 294.95A35 35 0 0 0 161.37 291.44" stroke-opacity=".113"/><path d="M161.37 291.44A35 35 0 0 0 157.52 288.43" stroke-opacity=".091"/><path d="M157.52 288.43A35 35 0 0 0 153.29 285.99" stroke-opacity=".061"/><path d="M153.29 285.99A35 35 0 0 0 148.77 284.16" stroke-opacity=".037"/><path d="M148.77 284.16A35 35 0 0 0 144.03 282.98" stroke-opacity=".023"/><path d="M144.03 282.98A35 35 0 0 0 139.17 282.47" stroke-opacity=".017"/><path d="M139.17 282.47A35 35 0 0 0 134.29 282.64" stroke-opacity=".017"/><path d="M134.29 282.64A35 35 0 0 0 129.48 283.49" stroke-opacity=".019"/><path d="M129.48 283.49A35 35 0 0 0 124.84 285" stroke-opacity=".029"/><path d="M124.84 285A35 35 0 0 0 120.45 287.14" stroke-opacity=".047"/><path d="M120.45 287.14A35 35 0 0 0 116.4 289.87" stroke-opacity=".076"/><path d="M116.4 289.87A35 35 0 0 0 112.77 293.14" stroke-opacity=".104"/><path d="M112.77 293.14A35 35 0 0 0 109.63 296.88" stroke-opacity=".116"/><path d="M109.63 296.88A35 35 0 0 0 107.05 301.02" stroke-opacity=".108"/><path d="M107.05 301.02A35 35 0 0 0 105.06 305.48" stroke-opacity=".09"/><path d="M105.06 305.48A35 35 0 0 0 103.71 310.17" stroke-opacity=".076"/><path d="M103.71 310.17A35 35 0 0 0 103.04 315.01" stroke-opacity=".073"/><path d="M103.04 315.01A35 35 0 0 0 103.04 319.89" stroke-opacity=".074"/><path d="M103.04 319.89A35 35 0 0 0 103.71 324.73" stroke-opacity=".073"/><path d="M103.71 324.73A35 35 0 0 0 105.06 329.42" stroke-opacity=".076"/><path d="M105.06 329.42A35 35 0 0 0 107.05 333.88" stroke-opacity=".09"/><path d="M107.05 333.88A35 35 0 0 0 109.63 338.02" stroke-opacity=".108"/><path d="M109.63 338.02A35 35 0 0 0 112.77 341.76" stroke-opacity=".116"/><path d="M112.77 341.76A35 35 0 0 0 116.4 345.03" stroke-opacity=".104"/><path d="M116.4 345.03A35 35 0 0 0 120.45 347.76" stroke-opacity=".076"/><path d="M120.45 347.76A35 35 0 0 0 124.84 349.9" stroke-opacity=".047"/><path d="M124.84 349.9A35 35 0 0 0 129.48 351.41" stroke-opacity=".029"/><path d="M129.48 351.41A35 35 0 0 0 134.29 352.26" stroke-opacity=".019"/><path d="M134.29 352.26A35 35 0 0 0 139.17 352.43" stroke-opacity=".017"/><path d="M139.17 352.43A35 35 0 0 0 144.03 351.92" stroke-opacity=".017"/><path d="M144.03 351.92A35 35 0 0 0 148.77 350.74" stroke-opacity=".023"/><path d="M148.77 350.74A35 35 0 0 0 153.29 348.91" stroke-opacity=".037"/><path d="M153.29 348.91A35 35 0 0 0 157.52 346.47" stroke-opacity=".061"/><path d="M157.52 346.47A35 35 0 0 0 161.37 343.46" stroke-opacity=".091"/><path d="M161.37 343.46A35 35 0 0 0 164.76 339.95" stroke-opacity=".113"/><path d="M164.76 339.95A35 35 0 0 0 167.63 336" stroke-opacity=".115"/><path d="M167.63 336A35 35 0 0 0 169.92 331.69" stroke-opacity=".099"/><path d="M169.92 331.69A35 35 0 0 0 171.59 327.1" stroke-opacity=".081"/><path d="M171.59 327.1A35 35 0 0 0 172.61 322.32" stroke-opacity=".073"/><path d="M172.61 322.32A35 35 0 0 0 172.95 317.45" stroke-opacity=".073"/></g></g><radialGradient id="scc101"><stop offset="0" stop-opacity="1"/><stop offset=".053" stop-opacity=".996"/><stop offset=".105" stop-opacity=".98"/><stop offset=".158" stop-opacity=".946"/><stop offset=".211" stop-opacity=".891"/><stop offset=".263" stop-opacity=".818"/><stop offset=".316" stop-opacity=".728"/><stop offset=".368" stop-opacity=".627"/><stop offset=".421" stop-opacity=".522"/><stop offset=".474" stop-opacity=".417"/><stop offset=".526" stop-opacity=".321"/><stop offset=".579" stop-opacity=".236"/><stop offset=".632" stop-opacity=".166"/><stop offset=".684" stop-opacity=".112"/><stop offset=".737" stop-opacity=".072"/><stop offset=".789" stop-opacity=".044"/><stop offset=".842" stop-opacity=".025"/><stop offset=".895" stop-opacity=".014"/><stop offset=".947" stop-opacity=".007"/><stop offset="1" stop-opacity=".003"/></radialGradient><ellipse cx="137.95" cy="317.45" rx="7.8" ry="12.8" fill="url(#scc101)"/><radialGradient id="scc100"><stop offset="0" stop-opacity=".7"/><stop offset=".053" stop-opacity=".697"/><stop offset=".105" stop-opacity=".686"/><stop offset=".158" stop-opacity=".662"/><stop offset=".211" stop-opacity=".624"/><stop offset=".263" stop-opacity=".573"/><stop offset=".316" stop-opacity=".51"/><stop offset=".368" stop-opacity=".439"/><stop offset=".421" stop-opacity=".365"/><stop offset=".474" stop-opacity=".292"/><stop offset=".526" stop-opacity=".225"/><stop offset=".579" stop-opacity=".165"/><stop offset=".632" stop-opacity=".116"/><stop offset=".684" stop-opacity=".078"/><stop offset=".737" stop-opacity=".05"/><stop offset=".789" stop-opacity=".031"/><stop offset=".842" stop-opacity=".018"/><stop offset=".895" stop-opacity=".01"/><stop offset=".947" stop-opacity=".005"/><stop offset="1" stop-opacity=".002"/></radialGradient><ellipse cx="124.95" cy="317.45" rx="7.4" ry="13.2" fill="url(#scc100)"/><radialGradient id="scc102"><stop offset="0" stop-opacity=".62"/><stop offset=".053" stop-opacity=".618"/><stop offset=".105" stop-opacity=".608"/><stop offset=".158" stop-opacity=".586"/><stop offset=".211" stop-opacity=".553"/><stop offset=".263" stop-opacity=".507"/><stop offset=".316" stop-opacity=".452"/><stop offset=".368" stop-opacity=".389"/><stop offset=".421" stop-opacity=".323"/><stop offset=".474" stop-opacity=".259"/><stop offset=".526" stop-opacity=".199"/><stop offset=".579" stop-opacity=".147"/><stop offset=".632" stop-opacity=".103"/><stop offset=".684" stop-opacity=".069"/><stop offset=".737" stop-opacity=".044"/><stop offset=".789" stop-opacity=".027"/><stop offset=".842" stop-opacity=".016"/><stop offset=".895" stop-opacity=".009"/><stop offset=".947" stop-opacity=".004"/><stop offset="1" stop-opacity=".002"/></radialGradient><ellipse cx="150.15" cy="317.45" rx="7.4" ry="13.2" fill="url(#scc102)"/>
</g></g>
<clipPath id="cpc11"><rect x="101" y="356.8" width="73.3" height="73.1"/></clipPath>
<filter id="fjc11" filterUnits="userSpaceOnUse" x="95" y="350.8" width="85.3" height="85.1" color-interpolation-filters="sRGB"><feGaussianBlur in="SourceGraphic" stdDeviation="0.5" result="s"/><feComponentTransfer><feFuncR type="table" tableValues="0 0 0 0 0.5 1 1 1 0.56"/><feFuncG type="table" tableValues="0 0 0.5 1 1 1 0.5 0 0"/><feFuncB type="table" tableValues="0.56 1 1 1 0.5 0 0 0 0"/></feComponentTransfer></filter>
<g clip-path="url(#cpc11)"><g filter="url(#fjc11)">
<rect x="95" y="350.8" width="85.3" height="85.1" fill="#0a0a0a"/>
<filter id="rbc11" x="-20%" y="-20%" width="140%" height="140%"><feGaussianBlur stdDeviation="1.4"/></filter><g filter="url(#rbc11)" fill="none" stroke="#fff"><g stroke-width="3"><path d="M151.55 393.65A13.6 13.6 0 0 0 151.34 391.29" stroke-opacity=".032"/><path d="M151.34 391.29A13.6 13.6 0 0 0 150.73 389" stroke-opacity=".034"/><path d="M150.73 389A13.6 13.6 0 0 0 149.73 386.85" stroke-opacity=".038"/><path d="M149.73 386.85A13.6 13.6 0 0 0 148.37 384.91" stroke-opacity=".045"/><path d="M148.37 384.91A13.6 13.6 0 0 0 146.69 383.23" stroke-opacity=".056"/><path d="M146.69 383.23A13.6 13.6 0 0 0 144.75 381.87" stroke-opacity=".071"/><path d="M144.75 381.87A13.6 13.6 0 0 0 142.6 380.87" stroke-opacity=".087"/><path d="M142.6 380.87A13.6 13.6 0 0 0 140.31 380.26" stroke-opacity=".101"/><path d="M140.31 380.26A13.6 13.6 0 0 0 137.95 380.05" stroke-opacity=".109"/><path d="M137.95 380.05A13.6 13.6 0 0 0 135.59 380.26" stroke-opacity=".109"/><path d="M135.59 380.26A13.6 13.6 0 0 0 133.3 380.87" stroke-opacity=".101"/><path d="M133.3 380.87A13.6 13.6 0 0 0 131.15 381.87" stroke-opacity=".087"/><path d="M131.15 381.87A13.6 13.6 0 0 0 129.21 383.23" stroke-opacity=".071"/><path d="M129.21 383.23A13.6 13.6 0 0 0 127.53 384.91" stroke-opacity=".056"/><path d="M127.53 384.91A13.6 13.6 0 0 0 126.17 386.85" stroke-opacity=".045"/><path d="M126.17 386.85A13.6 13.6 0 0 0 125.17 389" stroke-opacity=".038"/><path d="M125.17 389A13.6 13.6 0 0 0 124.56 391.29" stroke-opacity=".034"/><path d="M124.56 391.29A13.6 13.6 0 0 0 124.35 393.65" stroke-opacity=".032"/><path d="M124.35 393.65A13.6 13.6 0 0 0 124.56 396.01" stroke-opacity=".032"/><path d="M124.56 396.01A13.6 13.6 0 0 0 125.17 398.3" stroke-opacity=".034"/><path d="M125.17 398.3A13.6 13.6 0 0 0 126.17 400.45" stroke-opacity=".038"/><path d="M126.17 400.45A13.6 13.6 0 0 0 127.53 402.39" stroke-opacity=".045"/><path d="M127.53 402.39A13.6 13.6 0 0 0 129.21 404.07" stroke-opacity=".056"/><path d="M129.21 404.07A13.6 13.6 0 0 0 131.15 405.43" stroke-opacity=".071"/><path d="M131.15 405.43A13.6 13.6 0 0 0 133.3 406.43" stroke-opacity=".087"/><path d="M133.3 406.43A13.6 13.6 0 0 0 135.59 407.04" stroke-opacity=".101"/><path d="M135.59 407.04A13.6 13.6 0 0 0 137.95 407.25" stroke-opacity=".109"/><path d="M137.95 407.25A13.6 13.6 0 0 0 140.31 407.04" stroke-opacity=".109"/><path d="M140.31 407.04A13.6 13.6 0 0 0 142.6 406.43" stroke-opacity=".101"/><path d="M142.6 406.43A13.6 13.6 0 0 0 144.75 405.43" stroke-opacity=".087"/><path d="M144.75 405.43A13.6 13.6 0 0 0 146.69 404.07" stroke-opacity=".071"/><path d="M146.69 404.07A13.6 13.6 0 0 0 148.37 402.39" stroke-opacity=".056"/><path d="M148.37 402.39A13.6 13.6 0 0 0 149.73 400.45" stroke-opacity=".045"/><path d="M149.73 400.45A13.6 13.6 0 0 0 150.73 398.3" stroke-opacity=".038"/><path d="M150.73 398.3A13.6 13.6 0 0 0 151.34 396.01" stroke-opacity=".034"/><path d="M151.34 396.01A13.6 13.6 0 0 0 151.55 393.65" stroke-opacity=".032"/></g><g stroke-width="5.5"><path d="M162.45 393.65A24.5 24.5 0 0 0 162.32 391.09" stroke-opacity=".127"/><path d="M162.32 391.09A24.5 24.5 0 0 0 161.91 388.56" stroke-opacity=".132"/><path d="M161.91 388.56A24.5 24.5 0 0 0 161.25 386.08" stroke-opacity=".148"/><path d="M161.25 386.08A24.5 24.5 0 0 0 160.33 383.68" stroke-opacity=".176"/><path d="M160.33 383.68A24.5 24.5 0 0 0 159.17 381.4" stroke-opacity=".206"/><path d="M159.17 381.4A24.5 24.5 0 0 0 157.77 379.25" stroke-opacity=".223"/><path d="M157.77 379.25A24.5 24.5 0 0 0 156.16 377.26" stroke-opacity=".215"/><path d="M156.16 377.26A24.5 24.5 0 0 0 154.34 375.44" stroke-opacity=".181"/><path d="M154.34 375.44A24.5 24.5 0 0 0 152.35 373.83" stroke-opacity=".133"/><path d="M152.35 373.83A24.5 24.5 0 0 0 150.2 372.43" stroke-opacity=".088"/><path d="M150.2 372.43A24.5 24.5 0 0 0 147.92 371.27" stroke-opacity=".055"/><path d="M147.92 371.27A24.5 24.5 0 0 0 145.52 370.35" stroke-opacity=".035"/><path d="M145.52 370.35A24.5 24.5 0 0 0 143.04 369.69" stroke-opacity=".026"/><path d="M143.04 369.69A24.5 24.5 0 0 0 140.51 369.28" stroke-opacity=".022"/><path d="M140.51 369.28A24.5 24.5 0 0 0 137.95 369.15" stroke-opacity=".021"/><path d="M137.95 369.15A24.5 24.5 0 0 0 135.39 369.28" stroke-opacity=".021"/><path d="M135.39 369.28A24.5 24.5 0 0 0 132.86 369.69" stroke-opacity=".022"/><path d="M132.86 369.69A24.5 24.5 0 0 0 130.38 370.35" stroke-opacity=".026"/><path d="M130.38 370.35A24.5 24.5 0 0 0 127.98 371.27" stroke-opacity=".035"/><path d="M127.98 371.27A24.5 24.5 0 0 0 125.7 372.43" stroke-opacity=".055"/><path d="M125.7 372.43A24.5 24.5 0 0 0 123.55 373.83" stroke-opacity=".088"/><path d="M123.55 373.83A24.5 24.5 0 0 0 121.56 375.44" stroke-opacity=".133"/><path d="M121.56 375.44A24.5 24.5 0 0 0 119.74 377.26" stroke-opacity=".181"/><path d="M119.74 377.26A24.5 24.5 0 0 0 118.13 379.25" stroke-opacity=".215"/><path d="M118.13 379.25A24.5 24.5 0 0 0 116.73 381.4" stroke-opacity=".223"/><path d="M116.73 381.4A24.5 24.5 0 0 0 115.57 383.68" stroke-opacity=".206"/><path d="M115.57 383.68A24.5 24.5 0 0 0 114.65 386.08" stroke-opacity=".176"/><path d="M114.65 386.08A24.5 24.5 0 0 0 113.99 388.56" stroke-opacity=".148"/><path d="M113.99 388.56A24.5 24.5 0 0 0 113.58 391.09" stroke-opacity=".132"/><path d="M113.58 391.09A24.5 24.5 0 0 0 113.45 393.65" stroke-opacity=".127"/><path d="M113.45 393.65A24.5 24.5 0 0 0 113.58 396.21" stroke-opacity=".127"/><path d="M113.58 396.21A24.5 24.5 0 0 0 113.99 398.74" stroke-opacity=".132"/><path d="M113.99 398.74A24.5 24.5 0 0 0 114.65 401.22" stroke-opacity=".148"/><path d="M114.65 401.22A24.5 24.5 0 0 0 115.57 403.62" stroke-opacity=".176"/><path d="M115.57 403.62A24.5 24.5 0 0 0 116.73 405.9" stroke-opacity=".206"/><path d="M116.73 405.9A24.5 24.5 0 0 0 118.13 408.05" stroke-opacity=".223"/><path d="M118.13 408.05A24.5 24.5 0 0 0 119.74 410.04" stroke-opacity=".215"/><path d="M119.74 410.04A24.5 24.5 0 0 0 121.56 411.86" stroke-opacity=".181"/><path d="M121.56 411.86A24.5 24.5 0 0 0 123.55 413.47" stroke-opacity=".133"/><path d="M123.55 413.47A24.5 24.5 0 0 0 125.7 414.87" stroke-opacity=".088"/><path d="M125.7 414.87A24.5 24.5 0 0 0 127.98 416.03" stroke-opacity=".055"/><path d="M127.98 416.03A24.5 24.5 0 0 0 130.38 416.95" stroke-opacity=".035"/><path d="M130.38 416.95A24.5 24.5 0 0 0 132.86 417.61" stroke-opacity=".026"/><path d="M132.86 417.61A24.5 24.5 0 0 0 135.39 418.02" stroke-opacity=".022"/><path d="M135.39 418.02A24.5 24.5 0 0 0 137.95 418.15" stroke-opacity=".021"/><path d="M137.95 418.15A24.5 24.5 0 0 0 140.51 418.02" stroke-opacity=".021"/><path d="M140.51 418.02A24.5 24.5 0 0 0 143.04 417.61" stroke-opacity=".022"/><path d="M143.04 417.61A24.5 24.5 0 0 0 145.52 416.95" stroke-opacity=".026"/><path d="M145.52 416.95A24.5 24.5 0 0 0 147.92 416.03" stroke-opacity=".035"/><path d="M147.92 416.03A24.5 24.5 0 0 0 150.2 414.87" stroke-opacity=".055"/><path d="M150.2 414.87A24.5 24.5 0 0 0 152.35 413.47" stroke-opacity=".088"/><path d="M152.35 413.47A24.5 24.5 0 0 0 154.34 411.86" stroke-opacity=".133"/><path d="M154.34 411.86A24.5 24.5 0 0 0 156.16 410.04" stroke-opacity=".181"/><path d="M156.16 410.04A24.5 24.5 0 0 0 157.77 408.05" stroke-opacity=".215"/><path d="M157.77 408.05A24.5 24.5 0 0 0 159.17 405.9" stroke-opacity=".223"/><path d="M159.17 405.9A24.5 24.5 0 0 0 160.33 403.62" stroke-opacity=".206"/><path d="M160.33 403.62A24.5 24.5 0 0 0 161.25 401.22" stroke-opacity=".176"/><path d="M161.25 401.22A24.5 24.5 0 0 0 161.91 398.74" stroke-opacity=".148"/><path d="M161.91 398.74A24.5 24.5 0 0 0 162.32 396.21" stroke-opacity=".132"/><path d="M162.32 396.21A24.5 24.5 0 0 0 162.45 393.65" stroke-opacity=".127"/></g><g stroke-width="4.5"><path d="M173.45 393.65A35.5 35.5 0 0 0 173.1 388.71" stroke-opacity=".129"/><path d="M173.1 388.71A35.5 35.5 0 0 0 172.07 383.86" stroke-opacity=".119"/><path d="M172.07 383.86A35.5 35.5 0 0 0 170.38 379.21" stroke-opacity=".103"/><path d="M170.38 379.21A35.5 35.5 0 0 0 168.06 374.84" stroke-opacity=".085"/><path d="M168.06 374.84A35.5 35.5 0 0 0 165.14 370.83" stroke-opacity=".072"/><path d="M165.14 370.83A35.5 35.5 0 0 0 161.7 367.27" stroke-opacity=".072"/><path d="M161.7 367.27A35.5 35.5 0 0 0 157.8 364.22" stroke-opacity=".082"/><path d="M157.8 364.22A35.5 35.5 0 0 0 153.51 361.74" stroke-opacity=".086"/><path d="M153.51 361.74A35.5 35.5 0 0 0 148.92 359.89" stroke-opacity=".073"/><path d="M148.92 359.89A35.5 35.5 0 0 0 144.11 358.69" stroke-opacity=".052"/><path d="M144.11 358.69A35.5 35.5 0 0 0 139.19 358.17" stroke-opacity=".038"/><path d="M139.19 358.17A35.5 35.5 0 0 0 134.24 358.34" stroke-opacity=".035"/><path d="M134.24 358.34A35.5 35.5 0 0 0 129.36 359.2" stroke-opacity=".043"/><path d="M129.36 359.2A35.5 35.5 0 0 0 124.65 360.73" stroke-opacity=".062"/><path d="M124.65 360.73A35.5 35.5 0 0 0 120.2 362.91" stroke-opacity=".081"/><path d="M120.2 362.91A35.5 35.5 0 0 0 116.09 365.68" stroke-opacity=".085"/><path d="M116.09 365.68A35.5 35.5 0 0 0 112.41 368.99" stroke-opacity=".076"/><path d="M112.41 368.99A35.5 35.5 0 0 0 109.23 372.78" stroke-opacity=".07"/><path d="M109.23 372.78A35.5 35.5 0 0 0 106.61 376.98" stroke-opacity=".077"/><path d="M106.61 376.98A35.5 35.5 0 0 0 104.59 381.51" stroke-opacity=".094"/><path d="M104.59 381.51A35.5 35.5 0 0 0 103.23 386.27" stroke-opacity=".112"/><path d="M103.23 386.27A35.5 35.5 0 0 0 102.54 391.17" stroke-opacity=".125"/><path d="M102.54 391.17A35.5 35.5 0 0 0 102.54 396.13" stroke-opacity=".13"/><path d="M102.54 396.13A35.5 35.5 0 0 0 103.23 401.03" stroke-opacity=".125"/><path d="M103.23 401.03A35.5 35.5 0 0 0 104.59 405.79" stroke-opacity=".112"/><path d="M104.59 405.79A35.5 35.5 0 0 0 106.61 410.32" stroke-opacity=".094"/><path d="M106.61 410.32A35.5 35.5 0 0 0 109.23 414.52" stroke-opacity=".077"/><path d="M109.23 414.52A35.5 35.5 0 0 0 112.41 418.31" stroke-opacity=".07"/><path d="M112.41 418.31A35.5 35.5 0 0 0 116.09 421.62" stroke-opacity=".076"/><path d="M116.09 421.62A35.5 35.5 0 0 0 120.2 424.39" stroke-opacity=".085"/><path d="M120.2 424.39A35.5 35.5 0 0 0 124.65 426.57" stroke-opacity=".081"/><path d="M124.65 426.57A35.5 35.5 0 0 0 129.36 428.1" stroke-opacity=".062"/><path d="M129.36 428.1A35.5 35.5 0 0 0 134.24 428.96" stroke-opacity=".043"/><path d="M134.24 428.96A35.5 35.5 0 0 0 139.19 429.13" stroke-opacity=".035"/><path d="M139.19 429.13A35.5 35.5 0 0 0 144.11 428.61" stroke-opacity=".038"/><path d="M144.11 428.61A35.5 35.5 0 0 0 148.92 427.41" stroke-opacity=".052"/><path d="M148.92 427.41A35.5 35.5 0 0 0 153.51 425.56" stroke-opacity=".073"/><path d="M153.51 425.56A35.5 35.5 0 0 0 157.8 423.08" stroke-opacity=".086"/><path d="M157.8 423.08A35.5 35.5 0 0 0 161.7 420.03" stroke-opacity=".082"/><path d="M161.7 420.03A35.5 35.5 0 0 0 165.14 416.47" stroke-opacity=".072"/><path d="M165.14 416.47A35.5 35.5 0 0 0 168.06 412.46" stroke-opacity=".072"/><path d="M168.06 412.46A35.5 35.5 0 0 0 170.38 408.09" stroke-opacity=".085"/><path d="M170.38 408.09A35.5 35.5 0 0 0 172.07 403.44" stroke-opacity=".103"/><path d="M172.07 403.44A35.5 35.5 0 0 0 173.1 398.59" stroke-opacity=".119"/><path d="M173.1 398.59A35.5 35.5 0 0 0 173.45 393.65" stroke-opacity=".129"/></g></g><radialGradient id="scc111"><stop offset="0" stop-opacity="1"/><stop offset=".053" stop-opacity=".998"/><stop offset=".105" stop-opacity=".987"/><stop offset=".158" stop-opacity=".961"/><stop offset=".211" stop-opacity=".915"/><stop offset=".263" stop-opacity=".847"/><stop offset=".316" stop-opacity=".759"/><stop offset=".368" stop-opacity=".654"/><stop offset=".421" stop-opacity=".539"/><stop offset=".474" stop-opacity=".423"/><stop offset=".526" stop-opacity=".315"/><stop offset=".579" stop-opacity=".221"/><stop offset=".632" stop-opacity=".146"/><stop offset=".684" stop-opacity=".09"/><stop offset=".737" stop-opacity=".052"/><stop offset=".789" stop-opacity=".028"/><stop offset=".842" stop-opacity=".014"/><stop offset=".895" stop-opacity=".006"/><stop offset=".947" stop-opacity=".003"/><stop offset="1" stop-opacity=".001"/></radialGradient><ellipse cx="137.95" cy="393.65" rx="7.7" ry="12.8" fill="url(#scc111)"/><radialGradient id="scc110" fx="0.6"><stop offset="0" stop-opacity=".55"/><stop offset=".053" stop-opacity=".549"/><stop offset=".105" stop-opacity=".543"/><stop offset=".158" stop-opacity=".529"/><stop offset=".211" stop-opacity=".503"/><stop offset=".263" stop-opacity=".466"/><stop offset=".316" stop-opacity=".417"/><stop offset=".368" stop-opacity=".359"/><stop offset=".421" stop-opacity=".296"/><stop offset=".474" stop-opacity=".233"/><stop offset=".526" stop-opacity=".173"/><stop offset=".579" stop-opacity=".122"/><stop offset=".632" stop-opacity=".08"/><stop offset=".684" stop-opacity=".05"/><stop offset=".737" stop-opacity=".028"/><stop offset=".789" stop-opacity=".015"/><stop offset=".842" stop-opacity=".007"/><stop offset=".895" stop-opacity=".003"/><stop offset=".947" stop-opacity=".001"/><stop offset="1" stop-opacity=".001"/></radialGradient><ellipse cx="123.65" cy="393.65" rx="7.2" ry="13.8" fill="url(#scc110)"/><radialGradient id="scc112" fx="0.4"><stop offset="0" stop-opacity=".55"/><stop offset=".053" stop-opacity=".549"/><stop offset=".105" stop-opacity=".543"/><stop offset=".158" stop-opacity=".529"/><stop offset=".211" stop-opacity=".503"/><stop offset=".263" stop-opacity=".466"/><stop offset=".316" stop-opacity=".417"/><stop offset=".368" stop-opacity=".359"/><stop offset=".421" stop-opacity=".296"/><stop offset=".474" stop-opacity=".233"/><stop offset=".526" stop-opacity=".173"/><stop offset=".579" stop-opacity=".122"/><stop offset=".632" stop-opacity=".08"/><stop offset=".684" stop-opacity=".05"/><stop offset=".737" stop-opacity=".028"/><stop offset=".789" stop-opacity=".015"/><stop offset=".842" stop-opacity=".007"/><stop offset=".895" stop-opacity=".003"/><stop offset=".947" stop-opacity=".001"/><stop offset="1" stop-opacity=".001"/></radialGradient><ellipse cx="152.25" cy="393.65" rx="7.2" ry="13.8" fill="url(#scc112)"/>
</g></g>
<clipPath id="cpc20"><rect x="178" y="280.6" width="73.3" height="73.1"/></clipPath>
<filter id="fjc20" filterUnits="userSpaceOnUse" x="172" y="274.6" width="85.3" height="85.1" color-interpolation-filters="sRGB"><feGaussianBlur in="SourceGraphic" stdDeviation="0.5" result="s"/><feTurbulence type="fractalNoise" baseFrequency="0.5" numOctaves="1" seed="19" result="t"/><feColorMatrix in="t" type="matrix" values="1 0 0 0 0 1 0 0 0 0 1 0 0 0 0 0 0 0 0 1" result="n"/><feComposite in="s" in2="n" operator="arithmetic" k1="0.5" k2="0.75" k3="0.09" k4="-0.04"/><feComponentTransfer><feFuncR type="table" tableValues="0 0 0 0 0.5 1 1 1 0.56"/><feFuncG type="table" tableValues="0 0 0.5 1 1 1 0.5 0 0"/><feFuncB type="table" tableValues="0.56 1 1 1 0.5 0 0 0 0"/></feComponentTransfer></filter>
<g clip-path="url(#cpc20)"><g filter="url(#fjc20)">
<rect x="172" y="274.6" width="85.3" height="85.1" fill="#080808"/>
<filter id="rbc20" x="-20%" y="-20%" width="140%" height="140%"><feGaussianBlur stdDeviation="1.4"/></filter><g filter="url(#rbc20)" fill="none" stroke="#fff"><g stroke-width="2.6"><path d="M227.75 317.45A14 14 0 0 0 227.54 315.02" stroke-opacity=".011"/><path d="M227.54 315.02A14 14 0 0 0 226.91 312.66" stroke-opacity=".012"/><path d="M226.91 312.66A14 14 0 0 0 225.87 310.45" stroke-opacity=".014"/><path d="M225.87 310.45A14 14 0 0 0 224.47 308.45" stroke-opacity=".017"/><path d="M224.47 308.45A14 14 0 0 0 222.75 306.73" stroke-opacity=".023"/><path d="M222.75 306.73A14 14 0 0 0 220.75 305.33" stroke-opacity=".03"/><path d="M220.75 305.33A14 14 0 0 0 218.54 304.29" stroke-opacity=".038"/><path d="M218.54 304.29A14 14 0 0 0 216.18 303.66" stroke-opacity=".045"/><path d="M216.18 303.66A14 14 0 0 0 213.75 303.45" stroke-opacity=".049"/><path d="M213.75 303.45A14 14 0 0 0 211.32 303.66" stroke-opacity=".049"/><path d="M211.32 303.66A14 14 0 0 0 208.96 304.29" stroke-opacity=".045"/><path d="M208.96 304.29A14 14 0 0 0 206.75 305.33" stroke-opacity=".038"/><path d="M206.75 305.33A14 14 0 0 0 204.75 306.73" stroke-opacity=".03"/><path d="M204.75 306.73A14 14 0 0 0 203.03 308.45" stroke-opacity=".023"/><path d="M203.03 308.45A14 14 0 0 0 201.63 310.45" stroke-opacity=".017"/><path d="M201.63 310.45A14 14 0 0 0 200.59 312.66" stroke-opacity=".014"/><path d="M200.59 312.66A14 14 0 0 0 199.96 315.02" stroke-opacity=".012"/><path d="M199.96 315.02A14 14 0 0 0 199.75 317.45" stroke-opacity=".011"/><path d="M199.75 317.45A14 14 0 0 0 199.96 319.88" stroke-opacity=".011"/><path d="M199.96 319.88A14 14 0 0 0 200.59 322.24" stroke-opacity=".012"/><path d="M200.59 322.24A14 14 0 0 0 201.63 324.45" stroke-opacity=".014"/><path d="M201.63 324.45A14 14 0 0 0 203.03 326.45" stroke-opacity=".017"/><path d="M203.03 326.45A14 14 0 0 0 204.75 328.17" stroke-opacity=".023"/><path d="M204.75 328.17A14 14 0 0 0 206.75 329.57" stroke-opacity=".03"/><path d="M206.75 329.57A14 14 0 0 0 208.96 330.61" stroke-opacity=".038"/><path d="M208.96 330.61A14 14 0 0 0 211.32 331.24" stroke-opacity=".045"/><path d="M211.32 331.24A14 14 0 0 0 213.75 331.45" stroke-opacity=".049"/><path d="M213.75 331.45A14 14 0 0 0 216.18 331.24" stroke-opacity=".049"/><path d="M216.18 331.24A14 14 0 0 0 218.54 330.61" stroke-opacity=".045"/><path d="M218.54 330.61A14 14 0 0 0 220.75 329.57" stroke-opacity=".038"/><path d="M220.75 329.57A14 14 0 0 0 222.75 328.17" stroke-opacity=".03"/><path d="M222.75 328.17A14 14 0 0 0 224.47 326.45" stroke-opacity=".023"/><path d="M224.47 326.45A14 14 0 0 0 225.87 324.45" stroke-opacity=".017"/><path d="M225.87 324.45A14 14 0 0 0 226.91 322.24" stroke-opacity=".014"/><path d="M226.91 322.24A14 14 0 0 0 227.54 319.88" stroke-opacity=".012"/><path d="M227.54 319.88A14 14 0 0 0 227.75 317.45" stroke-opacity=".011"/></g><g stroke-width="4.8"><path d="M236.75 317.45A23 23 0 0 0 236.62 315.05" stroke-opacity=".298"/><path d="M236.62 315.05A23 23 0 0 0 236.25 312.67" stroke-opacity=".283"/><path d="M236.25 312.67A23 23 0 0 0 235.62 310.34" stroke-opacity=".254"/><path d="M235.62 310.34A23 23 0 0 0 234.76 308.1" stroke-opacity=".217"/><path d="M234.76 308.1A23 23 0 0 0 233.67 305.95" stroke-opacity=".175"/><path d="M233.67 305.95A23 23 0 0 0 232.36 303.93" stroke-opacity=".134"/><path d="M232.36 303.93A23 23 0 0 0 230.84 302.06" stroke-opacity=".097"/><path d="M230.84 302.06A23 23 0 0 0 229.14 300.36" stroke-opacity=".067"/><path d="M229.14 300.36A23 23 0 0 0 227.27 298.84" stroke-opacity=".044"/><path d="M227.27 298.84A23 23 0 0 0 225.25 297.53" stroke-opacity=".027"/><path d="M225.25 297.53A23 23 0 0 0 223.1 296.44" stroke-opacity=".016"/><path d="M223.1 296.44A23 23 0 0 0 220.86 295.58" stroke-opacity=".009"/><path d="M220.86 295.58A23 23 0 0 0 218.53 294.95" stroke-opacity=".005"/><path d="M208.97 294.95A23 23 0 0 0 206.64 295.58" stroke-opacity=".005"/><path d="M206.64 295.58A23 23 0 0 0 204.4 296.44" stroke-opacity=".009"/><path d="M204.4 296.44A23 23 0 0 0 202.25 297.53" stroke-opacity=".016"/><path d="M202.25 297.53A23 23 0 0 0 200.23 298.84" stroke-opacity=".027"/><path d="M200.23 298.84A23 23 0 0 0 198.36 300.36" stroke-opacity=".044"/><path d="M198.36 300.36A23 23 0 0 0 196.66 302.06" stroke-opacity=".067"/><path d="M196.66 302.06A23 23 0 0 0 195.14 303.93" stroke-opacity=".097"/><path d="M195.14 303.93A23 23 0 0 0 193.83 305.95" stroke-opacity=".134"/><path d="M193.83 305.95A23 23 0 0 0 192.74 308.1" stroke-opacity=".175"/><path d="M192.74 308.1A23 23 0 0 0 191.88 310.34" stroke-opacity=".217"/><path d="M191.88 310.34A23 23 0 0 0 191.25 312.67" stroke-opacity=".254"/><path d="M191.25 312.67A23 23 0 0 0 190.88 315.05" stroke-opacity=".283"/><path d="M190.88 315.05A23 23 0 0 0 190.75 317.45" stroke-opacity=".298"/><path d="M190.75 317.45A23 23 0 0 0 190.88 319.85" stroke-opacity=".298"/><path d="M190.88 319.85A23 23 0 0 0 191.25 322.23" stroke-opacity=".283"/><path d="M191.25 322.23A23 23 0 0 0 191.88 324.56" stroke-opacity=".254"/><path d="M191.88 324.56A23 23 0 0 0 192.74 326.8" stroke-opacity=".217"/><path d="M192.74 326.8A23 23 0 0 0 193.83 328.95" stroke-opacity=".175"/><path d="M193.83 328.95A23 23 0 0 0 195.14 330.97" stroke-opacity=".134"/><path d="M195.14 330.97A23 23 0 0 0 196.66 332.84" stroke-opacity=".097"/><path d="M196.66 332.84A23 23 0 0 0 198.36 334.54" stroke-opacity=".067"/><path d="M198.36 334.54A23 23 0 0 0 200.23 336.06" stroke-opacity=".044"/><path d="M200.23 336.06A23 23 0 0 0 202.25 337.37" stroke-opacity=".027"/><path d="M202.25 337.37A23 23 0 0 0 204.4 338.46" stroke-opacity=".016"/><path d="M204.4 338.46A23 23 0 0 0 206.64 339.32" stroke-opacity=".009"/><path d="M206.64 339.32A23 23 0 0 0 208.97 339.95" stroke-opacity=".005"/><path d="M218.53 339.95A23 23 0 0 0 220.86 339.32" stroke-opacity=".005"/><path d="M220.86 339.32A23 23 0 0 0 223.1 338.46" stroke-opacity=".009"/><path d="M223.1 338.46A23 23 0 0 0 225.25 337.37" stroke-opacity=".016"/><path d="M225.25 337.37A23 23 0 0 0 227.27 336.06" stroke-opacity=".027"/><path d="M227.27 336.06A23 23 0 0 0 229.14 334.54" stroke-opacity=".044"/><path d="M229.14 334.54A23 23 0 0 0 230.84 332.84" stroke-opacity=".067"/><path d="M230.84 332.84A23 23 0 0 0 232.36 330.97" stroke-opacity=".097"/><path d="M232.36 330.97A23 23 0 0 0 233.67 328.95" stroke-opacity=".134"/><path d="M233.67 328.95A23 23 0 0 0 234.76 326.8" stroke-opacity=".175"/><path d="M234.76 326.8A23 23 0 0 0 235.62 324.56" stroke-opacity=".217"/><path d="M235.62 324.56A23 23 0 0 0 236.25 322.23" stroke-opacity=".254"/><path d="M236.25 322.23A23 23 0 0 0 236.62 319.85" stroke-opacity=".283"/><path d="M236.62 319.85A23 23 0 0 0 236.75 317.45" stroke-opacity=".298"/></g><g stroke-width="4"><path d="M248.75 317.45A35 35 0 0 0 248.41 312.58" stroke-opacity=".073"/><path d="M248.41 312.58A35 35 0 0 0 247.39 307.8" stroke-opacity=".073"/><path d="M247.39 307.8A35 35 0 0 0 245.72 303.21" stroke-opacity=".081"/><path d="M245.72 303.21A35 35 0 0 0 243.43 298.9" stroke-opacity=".099"/><path d="M243.43 298.9A35 35 0 0 0 240.56 294.95" stroke-opacity=".115"/><path d="M240.56 294.95A35 35 0 0 0 237.17 291.44" stroke-opacity=".113"/><path d="M237.17 291.44A35 35 0 0 0 233.32 288.43" stroke-opacity=".091"/><path d="M233.32 288.43A35 35 0 0 0 229.09 285.99" stroke-opacity=".061"/><path d="M229.09 285.99A35 35 0 0 0 224.57 284.16" stroke-opacity=".037"/><path d="M224.57 284.16A35 35 0 0 0 219.83 282.98" stroke-opacity=".023"/><path d="M219.83 282.98A35 35 0 0 0 214.97 282.47" stroke-opacity=".017"/><path d="M214.97 282.47A35 35 0 0 0 210.09 282.64" stroke-opacity=".017"/><path d="M210.09 282.64A35 35 0 0 0 205.28 283.49" stroke-opacity=".019"/><path d="M205.28 283.49A35 35 0 0 0 200.64 285" stroke-opacity=".029"/><path d="M200.64 285A35 35 0 0 0 196.25 287.14" stroke-opacity=".047"/><path d="M196.25 287.14A35 35 0 0 0 192.2 289.87" stroke-opacity=".076"/><path d="M192.2 289.87A35 35 0 0 0 188.57 293.14" stroke-opacity=".104"/><path d="M188.57 293.14A35 35 0 0 0 185.43 296.88" stroke-opacity=".116"/><path d="M185.43 296.88A35 35 0 0 0 182.85 301.02" stroke-opacity=".108"/><path d="M182.85 301.02A35 35 0 0 0 180.86 305.48" stroke-opacity=".09"/><path d="M180.86 305.48A35 35 0 0 0 179.51 310.17" stroke-opacity=".076"/><path d="M179.51 310.17A35 35 0 0 0 178.84 315.01" stroke-opacity=".073"/><path d="M178.84 315.01A35 35 0 0 0 178.84 319.89" stroke-opacity=".074"/><path d="M178.84 319.89A35 35 0 0 0 179.51 324.73" stroke-opacity=".073"/><path d="M179.51 324.73A35 35 0 0 0 180.86 329.42" stroke-opacity=".076"/><path d="M180.86 329.42A35 35 0 0 0 182.85 333.88" stroke-opacity=".09"/><path d="M182.85 333.88A35 35 0 0 0 185.43 338.02" stroke-opacity=".108"/><path d="M185.43 338.02A35 35 0 0 0 188.57 341.76" stroke-opacity=".116"/><path d="M188.57 341.76A35 35 0 0 0 192.2 345.03" stroke-opacity=".104"/><path d="M192.2 345.03A35 35 0 0 0 196.25 347.76" stroke-opacity=".076"/><path d="M196.25 347.76A35 35 0 0 0 200.64 349.9" stroke-opacity=".047"/><path d="M200.64 349.9A35 35 0 0 0 205.28 351.41" stroke-opacity=".029"/><path d="M205.28 351.41A35 35 0 0 0 210.09 352.26" stroke-opacity=".019"/><path d="M210.09 352.26A35 35 0 0 0 214.97 352.43" stroke-opacity=".017"/><path d="M214.97 352.43A35 35 0 0 0 219.83 351.92" stroke-opacity=".017"/><path d="M219.83 351.92A35 35 0 0 0 224.57 350.74" stroke-opacity=".023"/><path d="M224.57 350.74A35 35 0 0 0 229.09 348.91" stroke-opacity=".037"/><path d="M229.09 348.91A35 35 0 0 0 233.32 346.47" stroke-opacity=".061"/><path d="M233.32 346.47A35 35 0 0 0 237.17 343.46" stroke-opacity=".091"/><path d="M237.17 343.46A35 35 0 0 0 240.56 339.95" stroke-opacity=".113"/><path d="M240.56 339.95A35 35 0 0 0 243.43 336" stroke-opacity=".115"/><path d="M243.43 336A35 35 0 0 0 245.72 331.69" stroke-opacity=".099"/><path d="M245.72 331.69A35 35 0 0 0 247.39 327.1" stroke-opacity=".081"/><path d="M247.39 327.1A35 35 0 0 0 248.41 322.32" stroke-opacity=".073"/><path d="M248.41 322.32A35 35 0 0 0 248.75 317.45" stroke-opacity=".073"/></g></g><radialGradient id="scc201"><stop offset="0" stop-opacity="1"/><stop offset=".053" stop-opacity=".996"/><stop offset=".105" stop-opacity=".98"/><stop offset=".158" stop-opacity=".946"/><stop offset=".211" stop-opacity=".891"/><stop offset=".263" stop-opacity=".818"/><stop offset=".316" stop-opacity=".728"/><stop offset=".368" stop-opacity=".627"/><stop offset=".421" stop-opacity=".522"/><stop offset=".474" stop-opacity=".417"/><stop offset=".526" stop-opacity=".321"/><stop offset=".579" stop-opacity=".236"/><stop offset=".632" stop-opacity=".166"/><stop offset=".684" stop-opacity=".112"/><stop offset=".737" stop-opacity=".072"/><stop offset=".789" stop-opacity=".044"/><stop offset=".842" stop-opacity=".025"/><stop offset=".895" stop-opacity=".014"/><stop offset=".947" stop-opacity=".007"/><stop offset="1" stop-opacity=".003"/></radialGradient><ellipse cx="213.75" cy="317.45" rx="7.8" ry="12.8" fill="url(#scc201)"/><radialGradient id="scc200"><stop offset="0" stop-opacity=".6"/><stop offset=".053" stop-opacity=".598"/><stop offset=".105" stop-opacity=".588"/><stop offset=".158" stop-opacity=".567"/><stop offset=".211" stop-opacity=".535"/><stop offset=".263" stop-opacity=".491"/><stop offset=".316" stop-opacity=".437"/><stop offset=".368" stop-opacity=".376"/><stop offset=".421" stop-opacity=".313"/><stop offset=".474" stop-opacity=".25"/><stop offset=".526" stop-opacity=".193"/><stop offset=".579" stop-opacity=".142"/><stop offset=".632" stop-opacity=".1"/><stop offset=".684" stop-opacity=".067"/><stop offset=".737" stop-opacity=".043"/><stop offset=".789" stop-opacity=".026"/><stop offset=".842" stop-opacity=".015"/><stop offset=".895" stop-opacity=".008"/><stop offset=".947" stop-opacity=".004"/><stop offset="1" stop-opacity=".002"/></radialGradient><ellipse cx="201.65" cy="317.45" rx="7.4" ry="13.2" fill="url(#scc200)"/><radialGradient id="scc202"><stop offset="0" stop-opacity=".6"/><stop offset=".053" stop-opacity=".598"/><stop offset=".105" stop-opacity=".588"/><stop offset=".158" stop-opacity=".567"/><stop offset=".211" stop-opacity=".535"/><stop offset=".263" stop-opacity=".491"/><stop offset=".316" stop-opacity=".437"/><stop offset=".368" stop-opacity=".376"/><stop offset=".421" stop-opacity=".313"/><stop offset=".474" stop-opacity=".25"/><stop offset=".526" stop-opacity=".193"/><stop offset=".579" stop-opacity=".142"/><stop offset=".632" stop-opacity=".1"/><stop offset=".684" stop-opacity=".067"/><stop offset=".737" stop-opacity=".043"/><stop offset=".789" stop-opacity=".026"/><stop offset=".842" stop-opacity=".015"/><stop offset=".895" stop-opacity=".008"/><stop offset=".947" stop-opacity=".004"/><stop offset="1" stop-opacity=".002"/></radialGradient><ellipse cx="226.75" cy="317.45" rx="7.4" ry="13.2" fill="url(#scc202)"/>
</g></g>
<clipPath id="cpc21"><rect x="178" y="356.8" width="73.3" height="73.1"/></clipPath>
<filter id="fjc21" filterUnits="userSpaceOnUse" x="172" y="350.8" width="85.3" height="85.1" color-interpolation-filters="sRGB"><feGaussianBlur in="SourceGraphic" stdDeviation="0.5" result="s"/><feComponentTransfer><feFuncR type="table" tableValues="0 0 0 0 0.5 1 1 1 0.56"/><feFuncG type="table" tableValues="0 0 0.5 1 1 1 0.5 0 0"/><feFuncB type="table" tableValues="0.56 1 1 1 0.5 0 0 0 0"/></feComponentTransfer></filter>
<g clip-path="url(#cpc21)"><g filter="url(#fjc21)">
<rect x="172" y="350.8" width="85.3" height="85.1" fill="#0a0a0a"/>
<filter id="rbc21" x="-20%" y="-20%" width="140%" height="140%"><feGaussianBlur stdDeviation="1.4"/></filter><g filter="url(#rbc21)" fill="none" stroke="#fff"><g stroke-width="3"><path d="M228.55 393.65A13.6 13.6 0 0 0 228.34 391.29" stroke-opacity=".032"/><path d="M228.34 391.29A13.6 13.6 0 0 0 227.73 389" stroke-opacity=".034"/><path d="M227.73 389A13.6 13.6 0 0 0 226.73 386.85" stroke-opacity=".038"/><path d="M226.73 386.85A13.6 13.6 0 0 0 225.37 384.91" stroke-opacity=".045"/><path d="M225.37 384.91A13.6 13.6 0 0 0 223.69 383.23" stroke-opacity=".056"/><path d="M223.69 383.23A13.6 13.6 0 0 0 221.75 381.87" stroke-opacity=".071"/><path d="M221.75 381.87A13.6 13.6 0 0 0 219.6 380.87" stroke-opacity=".087"/><path d="M219.6 380.87A13.6 13.6 0 0 0 217.31 380.26" stroke-opacity=".101"/><path d="M217.31 380.26A13.6 13.6 0 0 0 214.95 380.05" stroke-opacity=".109"/><path d="M214.95 380.05A13.6 13.6 0 0 0 212.59 380.26" stroke-opacity=".109"/><path d="M212.59 380.26A13.6 13.6 0 0 0 210.3 380.87" stroke-opacity=".101"/><path d="M210.3 380.87A13.6 13.6 0 0 0 208.15 381.87" stroke-opacity=".087"/><path d="M208.15 381.87A13.6 13.6 0 0 0 206.21 383.23" stroke-opacity=".071"/><path d="M206.21 383.23A13.6 13.6 0 0 0 204.53 384.91" stroke-opacity=".056"/><path d="M204.53 384.91A13.6 13.6 0 0 0 203.17 386.85" stroke-opacity=".045"/><path d="M203.17 386.85A13.6 13.6 0 0 0 202.17 389" stroke-opacity=".038"/><path d="M202.17 389A13.6 13.6 0 0 0 201.56 391.29" stroke-opacity=".034"/><path d="M201.56 391.29A13.6 13.6 0 0 0 201.35 393.65" stroke-opacity=".032"/><path d="M201.35 393.65A13.6 13.6 0 0 0 201.56 396.01" stroke-opacity=".032"/><path d="M201.56 396.01A13.6 13.6 0 0 0 202.17 398.3" stroke-opacity=".034"/><path d="M202.17 398.3A13.6 13.6 0 0 0 203.17 400.45" stroke-opacity=".038"/><path d="M203.17 400.45A13.6 13.6 0 0 0 204.53 402.39" stroke-opacity=".045"/><path d="M204.53 402.39A13.6 13.6 0 0 0 206.21 404.07" stroke-opacity=".056"/><path d="M206.21 404.07A13.6 13.6 0 0 0 208.15 405.43" stroke-opacity=".071"/><path d="M208.15 405.43A13.6 13.6 0 0 0 210.3 406.43" stroke-opacity=".087"/><path d="M210.3 406.43A13.6 13.6 0 0 0 212.59 407.04" stroke-opacity=".101"/><path d="M212.59 407.04A13.6 13.6 0 0 0 214.95 407.25" stroke-opacity=".109"/><path d="M214.95 407.25A13.6 13.6 0 0 0 217.31 407.04" stroke-opacity=".109"/><path d="M217.31 407.04A13.6 13.6 0 0 0 219.6 406.43" stroke-opacity=".101"/><path d="M219.6 406.43A13.6 13.6 0 0 0 221.75 405.43" stroke-opacity=".087"/><path d="M221.75 405.43A13.6 13.6 0 0 0 223.69 404.07" stroke-opacity=".071"/><path d="M223.69 404.07A13.6 13.6 0 0 0 225.37 402.39" stroke-opacity=".056"/><path d="M225.37 402.39A13.6 13.6 0 0 0 226.73 400.45" stroke-opacity=".045"/><path d="M226.73 400.45A13.6 13.6 0 0 0 227.73 398.3" stroke-opacity=".038"/><path d="M227.73 398.3A13.6 13.6 0 0 0 228.34 396.01" stroke-opacity=".034"/><path d="M228.34 396.01A13.6 13.6 0 0 0 228.55 393.65" stroke-opacity=".032"/></g><g stroke-width="5.5"><path d="M239.45 393.65A24.5 24.5 0 0 0 239.32 391.09" stroke-opacity=".127"/><path d="M239.32 391.09A24.5 24.5 0 0 0 238.91 388.56" stroke-opacity=".132"/><path d="M238.91 388.56A24.5 24.5 0 0 0 238.25 386.08" stroke-opacity=".148"/><path d="M238.25 386.08A24.5 24.5 0 0 0 237.33 383.68" stroke-opacity=".176"/><path d="M237.33 383.68A24.5 24.5 0 0 0 236.17 381.4" stroke-opacity=".206"/><path d="M236.17 381.4A24.5 24.5 0 0 0 234.77 379.25" stroke-opacity=".223"/><path d="M234.77 379.25A24.5 24.5 0 0 0 233.16 377.26" stroke-opacity=".215"/><path d="M233.16 377.26A24.5 24.5 0 0 0 231.34 375.44" stroke-opacity=".181"/><path d="M231.34 375.44A24.5 24.5 0 0 0 229.35 373.83" stroke-opacity=".133"/><path d="M229.35 373.83A24.5 24.5 0 0 0 227.2 372.43" stroke-opacity=".088"/><path d="M227.2 372.43A24.5 24.5 0 0 0 224.92 371.27" stroke-opacity=".055"/><path d="M224.92 371.27A24.5 24.5 0 0 0 222.52 370.35" stroke-opacity=".035"/><path d="M222.52 370.35A24.5 24.5 0 0 0 220.04 369.69" stroke-opacity=".026"/><path d="M220.04 369.69A24.5 24.5 0 0 0 217.51 369.28" stroke-opacity=".022"/><path d="M217.51 369.28A24.5 24.5 0 0 0 214.95 369.15" stroke-opacity=".021"/><path d="M214.95 369.15A24.5 24.5 0 0 0 212.39 369.28" stroke-opacity=".021"/><path d="M212.39 369.28A24.5 24.5 0 0 0 209.86 369.69" stroke-opacity=".022"/><path d="M209.86 369.69A24.5 24.5 0 0 0 207.38 370.35" stroke-opacity=".026"/><path d="M207.38 370.35A24.5 24.5 0 0 0 204.98 371.27" stroke-opacity=".035"/><path d="M204.98 371.27A24.5 24.5 0 0 0 202.7 372.43" stroke-opacity=".055"/><path d="M202.7 372.43A24.5 24.5 0 0 0 200.55 373.83" stroke-opacity=".088"/><path d="M200.55 373.83A24.5 24.5 0 0 0 198.56 375.44" stroke-opacity=".133"/><path d="M198.56 375.44A24.5 24.5 0 0 0 196.74 377.26" stroke-opacity=".181"/><path d="M196.74 377.26A24.5 24.5 0 0 0 195.13 379.25" stroke-opacity=".215"/><path d="M195.13 379.25A24.5 24.5 0 0 0 193.73 381.4" stroke-opacity=".223"/><path d="M193.73 381.4A24.5 24.5 0 0 0 192.57 383.68" stroke-opacity=".206"/><path d="M192.57 383.68A24.5 24.5 0 0 0 191.65 386.08" stroke-opacity=".176"/><path d="M191.65 386.08A24.5 24.5 0 0 0 190.99 388.56" stroke-opacity=".148"/><path d="M190.99 388.56A24.5 24.5 0 0 0 190.58 391.09" stroke-opacity=".132"/><path d="M190.58 391.09A24.5 24.5 0 0 0 190.45 393.65" stroke-opacity=".127"/><path d="M190.45 393.65A24.5 24.5 0 0 0 190.58 396.21" stroke-opacity=".127"/><path d="M190.58 396.21A24.5 24.5 0 0 0 190.99 398.74" stroke-opacity=".132"/><path d="M190.99 398.74A24.5 24.5 0 0 0 191.65 401.22" stroke-opacity=".148"/><path d="M191.65 401.22A24.5 24.5 0 0 0 192.57 403.62" stroke-opacity=".176"/><path d="M192.57 403.62A24.5 24.5 0 0 0 193.73 405.9" stroke-opacity=".206"/><path d="M193.73 405.9A24.5 24.5 0 0 0 195.13 408.05" stroke-opacity=".223"/><path d="M195.13 408.05A24.5 24.5 0 0 0 196.74 410.04" stroke-opacity=".215"/><path d="M196.74 410.04A24.5 24.5 0 0 0 198.56 411.86" stroke-opacity=".181"/><path d="M198.56 411.86A24.5 24.5 0 0 0 200.55 413.47" stroke-opacity=".133"/><path d="M200.55 413.47A24.5 24.5 0 0 0 202.7 414.87" stroke-opacity=".088"/><path d="M202.7 414.87A24.5 24.5 0 0 0 204.98 416.03" stroke-opacity=".055"/><path d="M204.98 416.03A24.5 24.5 0 0 0 207.38 416.95" stroke-opacity=".035"/><path d="M207.38 416.95A24.5 24.5 0 0 0 209.86 417.61" stroke-opacity=".026"/><path d="M209.86 417.61A24.5 24.5 0 0 0 212.39 418.02" stroke-opacity=".022"/><path d="M212.39 418.02A24.5 24.5 0 0 0 214.95 418.15" stroke-opacity=".021"/><path d="M214.95 418.15A24.5 24.5 0 0 0 217.51 418.02" stroke-opacity=".021"/><path d="M217.51 418.02A24.5 24.5 0 0 0 220.04 417.61" stroke-opacity=".022"/><path d="M220.04 417.61A24.5 24.5 0 0 0 222.52 416.95" stroke-opacity=".026"/><path d="M222.52 416.95A24.5 24.5 0 0 0 224.92 416.03" stroke-opacity=".035"/><path d="M224.92 416.03A24.5 24.5 0 0 0 227.2 414.87" stroke-opacity=".055"/><path d="M227.2 414.87A24.5 24.5 0 0 0 229.35 413.47" stroke-opacity=".088"/><path d="M229.35 413.47A24.5 24.5 0 0 0 231.34 411.86" stroke-opacity=".133"/><path d="M231.34 411.86A24.5 24.5 0 0 0 233.16 410.04" stroke-opacity=".181"/><path d="M233.16 410.04A24.5 24.5 0 0 0 234.77 408.05" stroke-opacity=".215"/><path d="M234.77 408.05A24.5 24.5 0 0 0 236.17 405.9" stroke-opacity=".223"/><path d="M236.17 405.9A24.5 24.5 0 0 0 237.33 403.62" stroke-opacity=".206"/><path d="M237.33 403.62A24.5 24.5 0 0 0 238.25 401.22" stroke-opacity=".176"/><path d="M238.25 401.22A24.5 24.5 0 0 0 238.91 398.74" stroke-opacity=".148"/><path d="M238.91 398.74A24.5 24.5 0 0 0 239.32 396.21" stroke-opacity=".132"/><path d="M239.32 396.21A24.5 24.5 0 0 0 239.45 393.65" stroke-opacity=".127"/></g><g stroke-width="4.5"><path d="M250.45 393.65A35.5 35.5 0 0 0 250.1 388.71" stroke-opacity=".129"/><path d="M250.1 388.71A35.5 35.5 0 0 0 249.07 383.86" stroke-opacity=".119"/><path d="M249.07 383.86A35.5 35.5 0 0 0 247.38 379.21" stroke-opacity=".103"/><path d="M247.38 379.21A35.5 35.5 0 0 0 245.06 374.84" stroke-opacity=".085"/><path d="M245.06 374.84A35.5 35.5 0 0 0 242.14 370.83" stroke-opacity=".072"/><path d="M242.14 370.83A35.5 35.5 0 0 0 238.7 367.27" stroke-opacity=".072"/><path d="M238.7 367.27A35.5 35.5 0 0 0 234.8 364.22" stroke-opacity=".082"/><path d="M234.8 364.22A35.5 35.5 0 0 0 230.51 361.74" stroke-opacity=".086"/><path d="M230.51 361.74A35.5 35.5 0 0 0 225.92 359.89" stroke-opacity=".073"/><path d="M225.92 359.89A35.5 35.5 0 0 0 221.11 358.69" stroke-opacity=".052"/><path d="M221.11 358.69A35.5 35.5 0 0 0 216.19 358.17" stroke-opacity=".038"/><path d="M216.19 358.17A35.5 35.5 0 0 0 211.24 358.34" stroke-opacity=".035"/><path d="M211.24 358.34A35.5 35.5 0 0 0 206.36 359.2" stroke-opacity=".043"/><path d="M206.36 359.2A35.5 35.5 0 0 0 201.65 360.73" stroke-opacity=".062"/><path d="M201.65 360.73A35.5 35.5 0 0 0 197.2 362.91" stroke-opacity=".081"/><path d="M197.2 362.91A35.5 35.5 0 0 0 193.09 365.68" stroke-opacity=".085"/><path d="M193.09 365.68A35.5 35.5 0 0 0 189.41 368.99" stroke-opacity=".076"/><path d="M189.41 368.99A35.5 35.5 0 0 0 186.23 372.78" stroke-opacity=".07"/><path d="M186.23 372.78A35.5 35.5 0 0 0 183.61 376.98" stroke-opacity=".077"/><path d="M183.61 376.98A35.5 35.5 0 0 0 181.59 381.51" stroke-opacity=".094"/><path d="M181.59 381.51A35.5 35.5 0 0 0 180.23 386.27" stroke-opacity=".112"/><path d="M180.23 386.27A35.5 35.5 0 0 0 179.54 391.17" stroke-opacity=".125"/><path d="M179.54 391.17A35.5 35.5 0 0 0 179.54 396.13" stroke-opacity=".13"/><path d="M179.54 396.13A35.5 35.5 0 0 0 180.23 401.03" stroke-opacity=".125"/><path d="M180.23 401.03A35.5 35.5 0 0 0 181.59 405.79" stroke-opacity=".112"/><path d="M181.59 405.79A35.5 35.5 0 0 0 183.61 410.32" stroke-opacity=".094"/><path d="M183.61 410.32A35.5 35.5 0 0 0 186.23 414.52" stroke-opacity=".077"/><path d="M186.23 414.52A35.5 35.5 0 0 0 189.41 418.31" stroke-opacity=".07"/><path d="M189.41 418.31A35.5 35.5 0 0 0 193.09 421.62" stroke-opacity=".076"/><path d="M193.09 421.62A35.5 35.5 0 0 0 197.2 424.39" stroke-opacity=".085"/><path d="M197.2 424.39A35.5 35.5 0 0 0 201.65 426.57" stroke-opacity=".081"/><path d="M201.65 426.57A35.5 35.5 0 0 0 206.36 428.1" stroke-opacity=".062"/><path d="M206.36 428.1A35.5 35.5 0 0 0 211.24 428.96" stroke-opacity=".043"/><path d="M211.24 428.96A35.5 35.5 0 0 0 216.19 429.13" stroke-opacity=".035"/><path d="M216.19 429.13A35.5 35.5 0 0 0 221.11 428.61" stroke-opacity=".038"/><path d="M221.11 428.61A35.5 35.5 0 0 0 225.92 427.41" stroke-opacity=".052"/><path d="M225.92 427.41A35.5 35.5 0 0 0 230.51 425.56" stroke-opacity=".073"/><path d="M230.51 425.56A35.5 35.5 0 0 0 234.8 423.08" stroke-opacity=".086"/><path d="M234.8 423.08A35.5 35.5 0 0 0 238.7 420.03" stroke-opacity=".082"/><path d="M238.7 420.03A35.5 35.5 0 0 0 242.14 416.47" stroke-opacity=".072"/><path d="M242.14 416.47A35.5 35.5 0 0 0 245.06 412.46" stroke-opacity=".072"/><path d="M245.06 412.46A35.5 35.5 0 0 0 247.38 408.09" stroke-opacity=".085"/><path d="M247.38 408.09A35.5 35.5 0 0 0 249.07 403.44" stroke-opacity=".103"/><path d="M249.07 403.44A35.5 35.5 0 0 0 250.1 398.59" stroke-opacity=".119"/><path d="M250.1 398.59A35.5 35.5 0 0 0 250.45 393.65" stroke-opacity=".129"/></g></g><radialGradient id="scc211"><stop offset="0" stop-opacity="1"/><stop offset=".053" stop-opacity=".998"/><stop offset=".105" stop-opacity=".987"/><stop offset=".158" stop-opacity=".961"/><stop offset=".211" stop-opacity=".915"/><stop offset=".263" stop-opacity=".847"/><stop offset=".316" stop-opacity=".759"/><stop offset=".368" stop-opacity=".654"/><stop offset=".421" stop-opacity=".539"/><stop offset=".474" stop-opacity=".423"/><stop offset=".526" stop-opacity=".315"/><stop offset=".579" stop-opacity=".221"/><stop offset=".632" stop-opacity=".146"/><stop offset=".684" stop-opacity=".09"/><stop offset=".737" stop-opacity=".052"/><stop offset=".789" stop-opacity=".028"/><stop offset=".842" stop-opacity=".014"/><stop offset=".895" stop-opacity=".006"/><stop offset=".947" stop-opacity=".003"/><stop offset="1" stop-opacity=".001"/></radialGradient><ellipse cx="214.95" cy="393.65" rx="7.7" ry="12.8" fill="url(#scc211)"/><radialGradient id="scc210" fx="0.6"><stop offset="0" stop-opacity=".55"/><stop offset=".053" stop-opacity=".549"/><stop offset=".105" stop-opacity=".543"/><stop offset=".158" stop-opacity=".529"/><stop offset=".211" stop-opacity=".503"/><stop offset=".263" stop-opacity=".466"/><stop offset=".316" stop-opacity=".417"/><stop offset=".368" stop-opacity=".359"/><stop offset=".421" stop-opacity=".296"/><stop offset=".474" stop-opacity=".233"/><stop offset=".526" stop-opacity=".173"/><stop offset=".579" stop-opacity=".122"/><stop offset=".632" stop-opacity=".08"/><stop offset=".684" stop-opacity=".05"/><stop offset=".737" stop-opacity=".028"/><stop offset=".789" stop-opacity=".015"/><stop offset=".842" stop-opacity=".007"/><stop offset=".895" stop-opacity=".003"/><stop offset=".947" stop-opacity=".001"/><stop offset="1" stop-opacity=".001"/></radialGradient><ellipse cx="200.65" cy="393.65" rx="7.2" ry="13.8" fill="url(#scc210)"/><radialGradient id="scc212" fx="0.4"><stop offset="0" stop-opacity=".55"/><stop offset=".053" stop-opacity=".549"/><stop offset=".105" stop-opacity=".543"/><stop offset=".158" stop-opacity=".529"/><stop offset=".211" stop-opacity=".503"/><stop offset=".263" stop-opacity=".466"/><stop offset=".316" stop-opacity=".417"/><stop offset=".368" stop-opacity=".359"/><stop offset=".421" stop-opacity=".296"/><stop offset=".474" stop-opacity=".233"/><stop offset=".526" stop-opacity=".173"/><stop offset=".579" stop-opacity=".122"/><stop offset=".632" stop-opacity=".08"/><stop offset=".684" stop-opacity=".05"/><stop offset=".737" stop-opacity=".028"/><stop offset=".789" stop-opacity=".015"/><stop offset=".842" stop-opacity=".007"/><stop offset=".895" stop-opacity=".003"/><stop offset=".947" stop-opacity=".001"/><stop offset="1" stop-opacity=".001"/></radialGradient><ellipse cx="229.25" cy="393.65" rx="7.2" ry="13.8" fill="url(#scc212)"/>
</g></g>
<clipPath id="cpd00"><rect x="298.6" y="280.8" width="73.2" height="73"/></clipPath>
<filter id="fjd00" filterUnits="userSpaceOnUse" x="292.6" y="274.8" width="85.2" height="85" color-interpolation-filters="sRGB"><feGaussianBlur in="SourceGraphic" stdDeviation="0.5" result="s"/><feTurbulence type="fractalNoise" baseFrequency="0.5" numOctaves="1" seed="27" result="t"/><feColorMatrix in="t" type="matrix" values="1 0 0 0 0 1 0 0 0 0 1 0 0 0 0 0 0 0 0 1" result="n"/><feComposite in="s" in2="n" operator="arithmetic" k1="0.5" k2="0.75" k3="0.09" k4="-0.04"/><feComponentTransfer><feFuncR type="table" tableValues="0 0 0 0 0.5 1 1 1 0.56"/><feFuncG type="table" tableValues="0 0 0.5 1 1 1 0.5 0 0"/><feFuncB type="table" tableValues="0.56 1 1 1 0.5 0 0 0 0"/></feComponentTransfer></filter>
<g clip-path="url(#cpd00)"><g filter="url(#fjd00)">
<rect x="292.6" y="274.8" width="85.2" height="85" fill="#070707"/>
<filter id="rbd00" x="-20%" y="-20%" width="140%" height="140%"><feGaussianBlur stdDeviation="1.4"/></filter><g filter="url(#rbd00)" fill="none" stroke="#fff"><g stroke-width="4"><path d="M372.4 317.6A37 37 0 0 0 371.84 311.18" stroke-opacity=".118"/><path d="M371.84 311.18A37 37 0 0 0 370.17 304.95" stroke-opacity=".106"/><path d="M370.17 304.95A37 37 0 0 0 367.44 299.1" stroke-opacity=".085"/><path d="M367.44 299.1A37 37 0 0 0 363.74 293.82" stroke-opacity=".061"/><path d="M363.74 293.82A37 37 0 0 0 359.18 289.26" stroke-opacity=".039"/><path d="M359.18 289.26A37 37 0 0 0 353.9 285.56" stroke-opacity=".022"/><path d="M353.9 285.56A37 37 0 0 0 348.05 282.83" stroke-opacity=".012"/><path d="M348.05 282.83A37 37 0 0 0 341.82 281.16" stroke-opacity=".006"/><path d="M328.98 281.16A37 37 0 0 0 322.75 282.83" stroke-opacity=".006"/><path d="M322.75 282.83A37 37 0 0 0 316.9 285.56" stroke-opacity=".012"/><path d="M316.9 285.56A37 37 0 0 0 311.62 289.26" stroke-opacity=".022"/><path d="M311.62 289.26A37 37 0 0 0 307.06 293.82" stroke-opacity=".039"/><path d="M307.06 293.82A37 37 0 0 0 303.36 299.1" stroke-opacity=".061"/><path d="M303.36 299.1A37 37 0 0 0 300.63 304.95" stroke-opacity=".085"/><path d="M300.63 304.95A37 37 0 0 0 298.96 311.18" stroke-opacity=".106"/><path d="M298.96 311.18A37 37 0 0 0 298.4 317.6" stroke-opacity=".118"/><path d="M298.4 317.6A37 37 0 0 0 298.96 324.02" stroke-opacity=".118"/><path d="M298.96 324.02A37 37 0 0 0 300.63 330.25" stroke-opacity=".106"/><path d="M300.63 330.25A37 37 0 0 0 303.36 336.1" stroke-opacity=".085"/><path d="M303.36 336.1A37 37 0 0 0 307.06 341.38" stroke-opacity=".061"/><path d="M307.06 341.38A37 37 0 0 0 311.62 345.94" stroke-opacity=".039"/><path d="M311.62 345.94A37 37 0 0 0 316.9 349.64" stroke-opacity=".022"/><path d="M316.9 349.64A37 37 0 0 0 322.75 352.37" stroke-opacity=".012"/><path d="M322.75 352.37A37 37 0 0 0 328.98 354.04" stroke-opacity=".006"/><path d="M341.82 354.04A37 37 0 0 0 348.05 352.37" stroke-opacity=".006"/><path d="M348.05 352.37A37 37 0 0 0 353.9 349.64" stroke-opacity=".012"/><path d="M353.9 349.64A37 37 0 0 0 359.18 345.94" stroke-opacity=".022"/><path d="M359.18 345.94A37 37 0 0 0 363.74 341.38" stroke-opacity=".039"/><path d="M363.74 341.38A37 37 0 0 0 367.44 336.1" stroke-opacity=".061"/><path d="M367.44 336.1A37 37 0 0 0 370.17 330.25" stroke-opacity=".085"/><path d="M370.17 330.25A37 37 0 0 0 371.84 324.02" stroke-opacity=".106"/><path d="M371.84 324.02A37 37 0 0 0 372.4 317.6" stroke-opacity=".118"/></g><g stroke-width="4"><path d="M364.4 317.6A29 29 0 0 0 363.96 312.56" stroke-opacity=".012"/><path d="M363.96 312.56A29 29 0 0 0 362.65 307.68" stroke-opacity=".023"/><path d="M362.65 307.68A29 29 0 0 0 360.51 303.1" stroke-opacity=".042"/><path d="M360.51 303.1A29 29 0 0 0 357.62 298.96" stroke-opacity=".058"/><path d="M357.62 298.96A29 29 0 0 0 354.04 295.38" stroke-opacity=".058"/><path d="M354.04 295.38A29 29 0 0 0 349.9 292.49" stroke-opacity=".042"/><path d="M349.9 292.49A29 29 0 0 0 345.32 290.35" stroke-opacity=".023"/><path d="M345.32 290.35A29 29 0 0 0 340.44 289.04" stroke-opacity=".009"/><path d="M330.36 289.04A29 29 0 0 0 325.48 290.35" stroke-opacity=".009"/><path d="M325.48 290.35A29 29 0 0 0 320.9 292.49" stroke-opacity=".023"/><path d="M320.9 292.49A29 29 0 0 0 316.76 295.38" stroke-opacity=".042"/><path d="M316.76 295.38A29 29 0 0 0 313.18 298.96" stroke-opacity=".058"/><path d="M313.18 298.96A29 29 0 0 0 310.29 303.1" stroke-opacity=".058"/><path d="M310.29 303.1A29 29 0 0 0 308.15 307.68" stroke-opacity=".042"/><path d="M308.15 307.68A29 29 0 0 0 306.84 312.56" stroke-opacity=".023"/><path d="M306.84 312.56A29 29 0 0 0 306.4 317.6" stroke-opacity=".012"/><path d="M306.4 317.6A29 29 0 0 0 306.84 322.64" stroke-opacity=".012"/><path d="M306.84 322.64A29 29 0 0 0 308.15 327.52" stroke-opacity=".023"/><path d="M308.15 327.52A29 29 0 0 0 310.29 332.1" stroke-opacity=".042"/><path d="M310.29 332.1A29 29 0 0 0 313.18 336.24" stroke-opacity=".058"/><path d="M313.18 336.24A29 29 0 0 0 316.76 339.82" stroke-opacity=".058"/><path d="M316.76 339.82A29 29 0 0 0 320.9 342.71" stroke-opacity=".042"/><path d="M320.9 342.71A29 29 0 0 0 325.48 344.85" stroke-opacity=".023"/><path d="M325.48 344.85A29 29 0 0 0 330.36 346.16" stroke-opacity=".009"/><path d="M340.44 346.16A29 29 0 0 0 345.32 344.85" stroke-opacity=".009"/><path d="M345.32 344.85A29 29 0 0 0 349.9 342.71" stroke-opacity=".023"/><path d="M349.9 342.71A29 29 0 0 0 354.04 339.82" stroke-opacity=".042"/><path d="M354.04 339.82A29 29 0 0 0 357.62 336.24" stroke-opacity=".058"/><path d="M357.62 336.24A29 29 0 0 0 360.51 332.1" stroke-opacity=".058"/><path d="M360.51 332.1A29 29 0 0 0 362.65 327.52" stroke-opacity=".042"/><path d="M362.65 327.52A29 29 0 0 0 363.96 322.64" stroke-opacity=".023"/><path d="M363.96 322.64A29 29 0 0 0 364.4 317.6" stroke-opacity=".012"/></g><g stroke-width="4"><path d="M354.45 306.6A22 22 0 0 0 352.25 303.46" stroke-opacity=".004"/><path d="M352.25 303.46A22 22 0 0 0 349.54 300.75" stroke-opacity=".01"/><path d="M349.54 300.75A22 22 0 0 0 346.4 298.55" stroke-opacity=".019"/><path d="M346.4 298.55A22 22 0 0 0 342.92 296.93" stroke-opacity=".03"/><path d="M342.92 296.93A22 22 0 0 0 339.22 295.93" stroke-opacity=".042"/><path d="M339.22 295.93A22 22 0 0 0 335.4 295.6" stroke-opacity=".049"/><path d="M335.4 295.6A22 22 0 0 0 331.58 295.93" stroke-opacity=".049"/><path d="M331.58 295.93A22 22 0 0 0 327.88 296.93" stroke-opacity=".042"/><path d="M327.88 296.93A22 22 0 0 0 324.4 298.55" stroke-opacity=".03"/><path d="M324.4 298.55A22 22 0 0 0 321.26 300.75" stroke-opacity=".019"/><path d="M321.26 300.75A22 22 0 0 0 318.55 303.46" stroke-opacity=".01"/><path d="M318.55 303.46A22 22 0 0 0 316.35 306.6" stroke-opacity=".004"/><path d="M316.35 328.6A22 22 0 0 0 318.55 331.74" stroke-opacity=".004"/><path d="M318.55 331.74A22 22 0 0 0 321.26 334.45" stroke-opacity=".01"/><path d="M321.26 334.45A22 22 0 0 0 324.4 336.65" stroke-opacity=".019"/><path d="M324.4 336.65A22 22 0 0 0 327.88 338.27" stroke-opacity=".03"/><path d="M327.88 338.27A22 22 0 0 0 331.58 339.27" stroke-opacity=".042"/><path d="M331.58 339.27A22 22 0 0 0 335.4 339.6" stroke-opacity=".049"/><path d="M335.4 339.6A22 22 0 0 0 339.22 339.27" stroke-opacity=".049"/><path d="M339.22 339.27A22 22 0 0 0 342.92 338.27" stroke-opacity=".042"/><path d="M342.92 338.27A22 22 0 0 0 346.4 336.65" stroke-opacity=".03"/><path d="M346.4 336.65A22 22 0 0 0 349.54 334.45" stroke-opacity=".019"/><path d="M349.54 334.45A22 22 0 0 0 352.25 331.74" stroke-opacity=".01"/><path d="M352.25 331.74A22 22 0 0 0 354.45 328.6" stroke-opacity=".004"/></g></g><radialGradient id="sdd000"><stop offset="0" stop-opacity=".36"/><stop offset=".053" stop-opacity=".358"/><stop offset=".105" stop-opacity=".351"/><stop offset=".158" stop-opacity=".335"/><stop offset=".211" stop-opacity=".313"/><stop offset=".263" stop-opacity=".283"/><stop offset=".316" stop-opacity=".248"/><stop offset=".368" stop-opacity=".21"/><stop offset=".421" stop-opacity=".171"/><stop offset=".474" stop-opacity=".134"/><stop offset=".526" stop-opacity=".101"/><stop offset=".579" stop-opacity=".073"/><stop offset=".632" stop-opacity=".05"/><stop offset=".684" stop-opacity=".033"/><stop offset=".737" stop-opacity=".021"/><stop offset=".789" stop-opacity=".012"/><stop offset=".842" stop-opacity=".007"/><stop offset=".895" stop-opacity=".004"/><stop offset=".947" stop-opacity=".002"/><stop offset="1" stop-opacity=".001"/></radialGradient><ellipse cx="299.4" cy="317.6" rx="8.4" ry="14.91" fill="url(#sdd000)"/><radialGradient id="sdd001"><stop offset="0" stop-opacity=".62"/><stop offset=".053" stop-opacity=".617"/><stop offset=".105" stop-opacity=".604"/><stop offset=".158" stop-opacity=".578"/><stop offset=".211" stop-opacity=".538"/><stop offset=".263" stop-opacity=".487"/><stop offset=".316" stop-opacity=".427"/><stop offset=".368" stop-opacity=".361"/><stop offset=".421" stop-opacity=".295"/><stop offset=".474" stop-opacity=".231"/><stop offset=".526" stop-opacity=".174"/><stop offset=".579" stop-opacity=".125"/><stop offset=".632" stop-opacity=".087"/><stop offset=".684" stop-opacity=".057"/><stop offset=".737" stop-opacity=".036"/><stop offset=".789" stop-opacity=".021"/><stop offset=".842" stop-opacity=".012"/><stop offset=".895" stop-opacity=".007"/><stop offset=".947" stop-opacity=".003"/><stop offset="1" stop-opacity=".002"/></radialGradient><ellipse cx="311.4" cy="317.6" rx="8.4" ry="14.91" fill="url(#sdd001)"/><radialGradient id="sdd002"><stop offset="0" stop-opacity=".86"/><stop offset=".053" stop-opacity=".856"/><stop offset=".105" stop-opacity=".837"/><stop offset=".158" stop-opacity=".801"/><stop offset=".211" stop-opacity=".747"/><stop offset=".263" stop-opacity=".676"/><stop offset=".316" stop-opacity=".592"/><stop offset=".368" stop-opacity=".501"/><stop offset=".421" stop-opacity=".409"/><stop offset=".474" stop-opacity=".32"/><stop offset=".526" stop-opacity=".241"/><stop offset=".579" stop-opacity=".174"/><stop offset=".632" stop-opacity=".12"/><stop offset=".684" stop-opacity=".079"/><stop offset=".737" stop-opacity=".05"/><stop offset=".789" stop-opacity=".03"/><stop offset=".842" stop-opacity=".017"/><stop offset=".895" stop-opacity=".009"/><stop offset=".947" stop-opacity=".005"/><stop offset="1" stop-opacity=".002"/></radialGradient><ellipse cx="323.4" cy="317.6" rx="8.4" ry="14.91" fill="url(#sdd002)"/><radialGradient id="sdd003"><stop offset="0" stop-opacity="1"/><stop offset=".053" stop-opacity=".995"/><stop offset=".105" stop-opacity=".974"/><stop offset=".158" stop-opacity=".932"/><stop offset=".211" stop-opacity=".868"/><stop offset=".263" stop-opacity=".786"/><stop offset=".316" stop-opacity=".689"/><stop offset=".368" stop-opacity=".583"/><stop offset=".421" stop-opacity=".475"/><stop offset=".474" stop-opacity=".373"/><stop offset=".526" stop-opacity=".28"/><stop offset=".579" stop-opacity=".202"/><stop offset=".632" stop-opacity=".14"/><stop offset=".684" stop-opacity=".092"/><stop offset=".737" stop-opacity=".058"/><stop offset=".789" stop-opacity=".035"/><stop offset=".842" stop-opacity=".02"/><stop offset=".895" stop-opacity=".011"/><stop offset=".947" stop-opacity=".005"/><stop offset="1" stop-opacity=".003"/></radialGradient><ellipse cx="335.4" cy="317.6" rx="8.4" ry="14.91" fill="url(#sdd003)"/><radialGradient id="sdd004"><stop offset="0" stop-opacity=".86"/><stop offset=".053" stop-opacity=".856"/><stop offset=".105" stop-opacity=".837"/><stop offset=".158" stop-opacity=".801"/><stop offset=".211" stop-opacity=".747"/><stop offset=".263" stop-opacity=".676"/><stop offset=".316" stop-opacity=".592"/><stop offset=".368" stop-opacity=".501"/><stop offset=".421" stop-opacity=".409"/><stop offset=".474" stop-opacity=".32"/><stop offset=".526" stop-opacity=".241"/><stop offset=".579" stop-opacity=".174"/><stop offset=".632" stop-opacity=".12"/><stop offset=".684" stop-opacity=".079"/><stop offset=".737" stop-opacity=".05"/><stop offset=".789" stop-opacity=".03"/><stop offset=".842" stop-opacity=".017"/><stop offset=".895" stop-opacity=".009"/><stop offset=".947" stop-opacity=".005"/><stop offset="1" stop-opacity=".002"/></radialGradient><ellipse cx="347.4" cy="317.6" rx="8.4" ry="14.91" fill="url(#sdd004)"/><radialGradient id="sdd005"><stop offset="0" stop-opacity=".62"/><stop offset=".053" stop-opacity=".617"/><stop offset=".105" stop-opacity=".604"/><stop offset=".158" stop-opacity=".578"/><stop offset=".211" stop-opacity=".538"/><stop offset=".263" stop-opacity=".487"/><stop offset=".316" stop-opacity=".427"/><stop offset=".368" stop-opacity=".361"/><stop offset=".421" stop-opacity=".295"/><stop offset=".474" stop-opacity=".231"/><stop offset=".526" stop-opacity=".174"/><stop offset=".579" stop-opacity=".125"/><stop offset=".632" stop-opacity=".087"/><stop offset=".684" stop-opacity=".057"/><stop offset=".737" stop-opacity=".036"/><stop offset=".789" stop-opacity=".021"/><stop offset=".842" stop-opacity=".012"/><stop offset=".895" stop-opacity=".007"/><stop offset=".947" stop-opacity=".003"/><stop offset="1" stop-opacity=".002"/></radialGradient><ellipse cx="359.4" cy="317.6" rx="8.4" ry="14.91" fill="url(#sdd005)"/><radialGradient id="sdd006"><stop offset="0" stop-opacity=".36"/><stop offset=".053" stop-opacity=".358"/><stop offset=".105" stop-opacity=".351"/><stop offset=".158" stop-opacity=".335"/><stop offset=".211" stop-opacity=".313"/><stop offset=".263" stop-opacity=".283"/><stop offset=".316" stop-opacity=".248"/><stop offset=".368" stop-opacity=".21"/><stop offset=".421" stop-opacity=".171"/><stop offset=".474" stop-opacity=".134"/><stop offset=".526" stop-opacity=".101"/><stop offset=".579" stop-opacity=".073"/><stop offset=".632" stop-opacity=".05"/><stop offset=".684" stop-opacity=".033"/><stop offset=".737" stop-opacity=".021"/><stop offset=".789" stop-opacity=".012"/><stop offset=".842" stop-opacity=".007"/><stop offset=".895" stop-opacity=".004"/><stop offset=".947" stop-opacity=".002"/><stop offset="1" stop-opacity=".001"/></radialGradient><ellipse cx="371.4" cy="317.6" rx="8.4" ry="14.91" fill="url(#sdd006)"/>
</g></g>
<clipPath id="cpd01"><rect x="298.6" y="357" width="73.2" height="73"/></clipPath>
<filter id="fjd01" filterUnits="userSpaceOnUse" x="292.6" y="351" width="85.2" height="85" color-interpolation-filters="sRGB"><feGaussianBlur in="SourceGraphic" stdDeviation="0.5" result="s"/><feComponentTransfer><feFuncR type="table" tableValues="0 0 0 0 0.5 1 1 1 0.56"/><feFuncG type="table" tableValues="0 0 0.5 1 1 1 0.5 0 0"/><feFuncB type="table" tableValues="0.56 1 1 1 0.5 0 0 0 0"/></feComponentTransfer></filter>
<g clip-path="url(#cpd01)"><g filter="url(#fjd01)">
<rect x="292.6" y="351" width="85.2" height="85" fill="#090909"/>
<filter id="rbd01" x="-20%" y="-20%" width="140%" height="140%"><feGaussianBlur stdDeviation="1.4"/></filter><g filter="url(#rbd01)" fill="none" stroke="#fff"><g stroke-width="5"><path d="M371.9 393.8A36.5 36.5 0 0 0 371.7 389.98" stroke-opacity=".337"/><path d="M371.7 389.98A36.5 36.5 0 0 0 371.1 386.21" stroke-opacity=".317"/><path d="M371.1 386.21A36.5 36.5 0 0 0 370.11 382.52" stroke-opacity=".28"/><path d="M370.11 382.52A36.5 36.5 0 0 0 368.74 378.95" stroke-opacity=".232"/><path d="M368.74 378.95A36.5 36.5 0 0 0 367.01 375.55" stroke-opacity=".181"/><path d="M367.01 375.55A36.5 36.5 0 0 0 364.93 372.35" stroke-opacity=".132"/><path d="M364.93 372.35A36.5 36.5 0 0 0 362.52 369.38" stroke-opacity=".091"/><path d="M362.52 369.38A36.5 36.5 0 0 0 359.82 366.68" stroke-opacity=".059"/><path d="M359.82 366.68A36.5 36.5 0 0 0 356.85 364.27" stroke-opacity=".036"/><path d="M356.85 364.27A36.5 36.5 0 0 0 353.65 362.19" stroke-opacity=".02"/><path d="M353.65 362.19A36.5 36.5 0 0 0 350.25 360.46" stroke-opacity=".011"/><path d="M350.25 360.46A36.5 36.5 0 0 0 346.68 359.09" stroke-opacity=".005"/><path d="M324.12 359.09A36.5 36.5 0 0 0 320.55 360.46" stroke-opacity=".005"/><path d="M320.55 360.46A36.5 36.5 0 0 0 317.15 362.19" stroke-opacity=".011"/><path d="M317.15 362.19A36.5 36.5 0 0 0 313.95 364.27" stroke-opacity=".02"/><path d="M313.95 364.27A36.5 36.5 0 0 0 310.98 366.68" stroke-opacity=".036"/><path d="M310.98 366.68A36.5 36.5 0 0 0 308.28 369.38" stroke-opacity=".059"/><path d="M308.28 369.38A36.5 36.5 0 0 0 305.87 372.35" stroke-opacity=".091"/><path d="M305.87 372.35A36.5 36.5 0 0 0 303.79 375.55" stroke-opacity=".132"/><path d="M303.79 375.55A36.5 36.5 0 0 0 302.06 378.95" stroke-opacity=".181"/><path d="M302.06 378.95A36.5 36.5 0 0 0 300.69 382.52" stroke-opacity=".232"/><path d="M300.69 382.52A36.5 36.5 0 0 0 299.7 386.21" stroke-opacity=".28"/><path d="M299.7 386.21A36.5 36.5 0 0 0 299.1 389.98" stroke-opacity=".317"/><path d="M299.1 389.98A36.5 36.5 0 0 0 298.9 393.8" stroke-opacity=".337"/><path d="M298.9 393.8A36.5 36.5 0 0 0 299.1 397.62" stroke-opacity=".337"/><path d="M299.1 397.62A36.5 36.5 0 0 0 299.7 401.39" stroke-opacity=".317"/><path d="M299.7 401.39A36.5 36.5 0 0 0 300.69 405.08" stroke-opacity=".28"/><path d="M300.69 405.08A36.5 36.5 0 0 0 302.06 408.65" stroke-opacity=".232"/><path d="M302.06 408.65A36.5 36.5 0 0 0 303.79 412.05" stroke-opacity=".181"/><path d="M303.79 412.05A36.5 36.5 0 0 0 305.87 415.25" stroke-opacity=".132"/><path d="M305.87 415.25A36.5 36.5 0 0 0 308.28 418.22" stroke-opacity=".091"/><path d="M308.28 418.22A36.5 36.5 0 0 0 310.98 420.92" stroke-opacity=".059"/><path d="M310.98 420.92A36.5 36.5 0 0 0 313.95 423.33" stroke-opacity=".036"/><path d="M313.95 423.33A36.5 36.5 0 0 0 317.15 425.41" stroke-opacity=".02"/><path d="M317.15 425.41A36.5 36.5 0 0 0 320.55 427.14" stroke-opacity=".011"/><path d="M320.55 427.14A36.5 36.5 0 0 0 324.12 428.51" stroke-opacity=".005"/><path d="M346.68 428.51A36.5 36.5 0 0 0 350.25 427.14" stroke-opacity=".005"/><path d="M350.25 427.14A36.5 36.5 0 0 0 353.65 425.41" stroke-opacity=".011"/><path d="M353.65 425.41A36.5 36.5 0 0 0 356.85 423.33" stroke-opacity=".02"/><path d="M356.85 423.33A36.5 36.5 0 0 0 359.82 420.92" stroke-opacity=".036"/><path d="M359.82 420.92A36.5 36.5 0 0 0 362.52 418.22" stroke-opacity=".059"/><path d="M362.52 418.22A36.5 36.5 0 0 0 364.93 415.25" stroke-opacity=".091"/><path d="M364.93 415.25A36.5 36.5 0 0 0 367.01 412.05" stroke-opacity=".132"/><path d="M367.01 412.05A36.5 36.5 0 0 0 368.74 408.65" stroke-opacity=".181"/><path d="M368.74 408.65A36.5 36.5 0 0 0 370.11 405.08" stroke-opacity=".232"/><path d="M370.11 405.08A36.5 36.5 0 0 0 371.1 401.39" stroke-opacity=".28"/><path d="M371.1 401.39A36.5 36.5 0 0 0 371.7 397.62" stroke-opacity=".317"/><path d="M371.7 397.62A36.5 36.5 0 0 0 371.9 393.8" stroke-opacity=".337"/></g><g stroke-width="4"><path d="M358.9 393.8A23.5 23.5 0 0 0 358.54 389.72" stroke-opacity=".02"/><path d="M358.54 389.72A23.5 23.5 0 0 0 357.48 385.76" stroke-opacity=".021"/><path d="M357.48 385.76A23.5 23.5 0 0 0 355.75 382.05" stroke-opacity=".023"/><path d="M355.75 382.05A23.5 23.5 0 0 0 353.4 378.69" stroke-opacity=".027"/><path d="M353.4 378.69A23.5 23.5 0 0 0 350.51 375.8" stroke-opacity=".036"/><path d="M350.51 375.8A23.5 23.5 0 0 0 347.15 373.45" stroke-opacity=".05"/><path d="M347.15 373.45A23.5 23.5 0 0 0 343.44 371.72" stroke-opacity=".069"/><path d="M343.44 371.72A23.5 23.5 0 0 0 339.48 370.66" stroke-opacity=".087"/><path d="M339.48 370.66A23.5 23.5 0 0 0 335.4 370.3" stroke-opacity=".098"/><path d="M335.4 370.3A23.5 23.5 0 0 0 331.32 370.66" stroke-opacity=".098"/><path d="M331.32 370.66A23.5 23.5 0 0 0 327.36 371.72" stroke-opacity=".087"/><path d="M327.36 371.72A23.5 23.5 0 0 0 323.65 373.45" stroke-opacity=".069"/><path d="M323.65 373.45A23.5 23.5 0 0 0 320.29 375.8" stroke-opacity=".05"/><path d="M320.29 375.8A23.5 23.5 0 0 0 317.4 378.69" stroke-opacity=".036"/><path d="M317.4 378.69A23.5 23.5 0 0 0 315.05 382.05" stroke-opacity=".027"/><path d="M315.05 382.05A23.5 23.5 0 0 0 313.32 385.76" stroke-opacity=".023"/><path d="M313.32 385.76A23.5 23.5 0 0 0 312.26 389.72" stroke-opacity=".021"/><path d="M312.26 389.72A23.5 23.5 0 0 0 311.9 393.8" stroke-opacity=".02"/><path d="M311.9 393.8A23.5 23.5 0 0 0 312.26 397.88" stroke-opacity=".02"/><path d="M312.26 397.88A23.5 23.5 0 0 0 313.32 401.84" stroke-opacity=".021"/><path d="M313.32 401.84A23.5 23.5 0 0 0 315.05 405.55" stroke-opacity=".023"/><path d="M315.05 405.55A23.5 23.5 0 0 0 317.4 408.91" stroke-opacity=".027"/><path d="M317.4 408.91A23.5 23.5 0 0 0 320.29 411.8" stroke-opacity=".036"/><path d="M320.29 411.8A23.5 23.5 0 0 0 323.65 414.15" stroke-opacity=".05"/><path d="M323.65 414.15A23.5 23.5 0 0 0 327.36 415.88" stroke-opacity=".069"/><path d="M327.36 415.88A23.5 23.5 0 0 0 331.32 416.94" stroke-opacity=".087"/><path d="M331.32 416.94A23.5 23.5 0 0 0 335.4 417.3" stroke-opacity=".098"/><path d="M335.4 417.3A23.5 23.5 0 0 0 339.48 416.94" stroke-opacity=".098"/><path d="M339.48 416.94A23.5 23.5 0 0 0 343.44 415.88" stroke-opacity=".087"/><path d="M343.44 415.88A23.5 23.5 0 0 0 347.15 414.15" stroke-opacity=".069"/><path d="M347.15 414.15A23.5 23.5 0 0 0 350.51 411.8" stroke-opacity=".05"/><path d="M350.51 411.8A23.5 23.5 0 0 0 353.4 408.91" stroke-opacity=".036"/><path d="M353.4 408.91A23.5 23.5 0 0 0 355.75 405.55" stroke-opacity=".027"/><path d="M355.75 405.55A23.5 23.5 0 0 0 357.48 401.84" stroke-opacity=".023"/><path d="M357.48 401.84A23.5 23.5 0 0 0 358.54 397.88" stroke-opacity=".021"/><path d="M358.54 397.88A23.5 23.5 0 0 0 358.9 393.8" stroke-opacity=".02"/></g><g stroke-width="3.5"><path d="M365.11 389.62A30 30 0 0 0 364.24 385.53" stroke-opacity=".006"/><path d="M364.24 385.53A30 30 0 0 0 362.81 381.6" stroke-opacity=".018"/><path d="M362.81 381.6A30 30 0 0 0 360.84 377.9" stroke-opacity=".043"/><path d="M360.84 377.9A30 30 0 0 0 358.38 374.52" stroke-opacity=".073"/><path d="M358.38 374.52A30 30 0 0 0 355.47 371.51" stroke-opacity=".09"/><path d="M355.47 371.51A30 30 0 0 0 352.18 368.93" stroke-opacity=".079"/><path d="M352.18 368.93A30 30 0 0 0 348.55 366.84" stroke-opacity=".051"/><path d="M348.55 366.84A30 30 0 0 0 344.67 365.27" stroke-opacity=".023"/><path d="M344.67 365.27A30 30 0 0 0 340.61 364.26" stroke-opacity=".008"/><path d="M328.14 364.69A30 30 0 0 0 324.16 365.98" stroke-opacity=".014"/><path d="M324.16 365.98A30 30 0 0 0 320.4 367.82" stroke-opacity=".036"/><path d="M320.4 367.82A30 30 0 0 0 316.93 370.16" stroke-opacity=".066"/><path d="M316.93 370.16A30 30 0 0 0 313.82 372.96" stroke-opacity=".088"/><path d="M313.82 372.96A30 30 0 0 0 311.13 376.17" stroke-opacity=".084"/><path d="M311.13 376.17A30 30 0 0 0 308.91 379.72" stroke-opacity=".058"/><path d="M308.91 379.72A30 30 0 0 0 307.21 383.54" stroke-opacity=".029"/><path d="M307.21 383.54A30 30 0 0 0 306.06 387.56" stroke-opacity=".011"/><path d="M306.06 400.04A30 30 0 0 0 307.21 404.06" stroke-opacity=".011"/><path d="M307.21 404.06A30 30 0 0 0 308.91 407.88" stroke-opacity=".029"/><path d="M308.91 407.88A30 30 0 0 0 311.13 411.43" stroke-opacity=".058"/><path d="M311.13 411.43A30 30 0 0 0 313.82 414.64" stroke-opacity=".084"/><path d="M313.82 414.64A30 30 0 0 0 316.93 417.44" stroke-opacity=".088"/><path d="M316.93 417.44A30 30 0 0 0 320.4 419.78" stroke-opacity=".066"/><path d="M320.4 419.78A30 30 0 0 0 324.16 421.62" stroke-opacity=".036"/><path d="M324.16 421.62A30 30 0 0 0 328.14 422.91" stroke-opacity=".014"/><path d="M340.61 423.34A30 30 0 0 0 344.67 422.33" stroke-opacity=".008"/><path d="M344.67 422.33A30 30 0 0 0 348.55 420.76" stroke-opacity=".023"/><path d="M348.55 420.76A30 30 0 0 0 352.18 418.67" stroke-opacity=".051"/><path d="M352.18 418.67A30 30 0 0 0 355.47 416.09" stroke-opacity=".079"/><path d="M355.47 416.09A30 30 0 0 0 358.38 413.08" stroke-opacity=".09"/><path d="M358.38 413.08A30 30 0 0 0 360.84 409.7" stroke-opacity=".073"/><path d="M360.84 409.7A30 30 0 0 0 362.81 406" stroke-opacity=".043"/><path d="M362.81 406A30 30 0 0 0 364.24 402.07" stroke-opacity=".018"/><path d="M364.24 402.07A30 30 0 0 0 365.11 397.98" stroke-opacity=".006"/></g><g stroke-width="3.5"><path d="M372.86 377.12A41 41 0 0 0 370.17 372.07" stroke-opacity=".012"/><path d="M370.17 372.07A41 41 0 0 0 366.81 367.45" stroke-opacity=".032"/><path d="M366.81 367.45A41 41 0 0 0 362.83 363.33" stroke-opacity=".059"/><path d="M362.83 363.33A41 41 0 0 0 358.33 359.81" stroke-opacity=".078"/><path d="M358.33 359.81A41 41 0 0 0 353.37 356.95" stroke-opacity=".075"/><path d="M353.37 356.95A41 41 0 0 0 348.07 354.81" stroke-opacity=".052"/><path d="M348.07 354.81A41 41 0 0 0 342.52 353.42" stroke-opacity=".026"/><path d="M342.52 353.42A41 41 0 0 0 336.83 352.82" stroke-opacity=".01"/><path d="M336.83 352.82A41 41 0 0 0 331.11 353.02" stroke-opacity=".007"/><path d="M331.11 353.02A41 41 0 0 0 325.48 354.02" stroke-opacity=".017"/><path d="M325.48 354.02A41 41 0 0 0 320.04 355.79" stroke-opacity=".038"/><path d="M320.04 355.79A41 41 0 0 0 314.9 358.29" stroke-opacity=".065"/><path d="M314.9 358.29A41 41 0 0 0 310.16 361.49" stroke-opacity=".08"/><path d="M310.16 361.49A41 41 0 0 0 305.91 365.32" stroke-opacity=".071"/><path d="M305.91 365.32A41 41 0 0 0 302.23 369.7" stroke-opacity=".045"/><path d="M302.23 369.7A41 41 0 0 0 299.2 374.55" stroke-opacity=".021"/><path d="M299.2 374.55A41 41 0 0 0 296.87 379.78" stroke-opacity=".007"/><path d="M296.87 407.82A41 41 0 0 0 299.2 413.05" stroke-opacity=".007"/><path d="M299.2 413.05A41 41 0 0 0 302.23 417.9" stroke-opacity=".021"/><path d="M302.23 417.9A41 41 0 0 0 305.91 422.28" stroke-opacity=".045"/><path d="M305.91 422.28A41 41 0 0 0 310.16 426.11" stroke-opacity=".071"/><path d="M310.16 426.11A41 41 0 0 0 314.9 429.31" stroke-opacity=".08"/><path d="M314.9 429.31A41 41 0 0 0 320.04 431.81" stroke-opacity=".065"/><path d="M320.04 431.81A41 41 0 0 0 325.48 433.58" stroke-opacity=".038"/><path d="M325.48 433.58A41 41 0 0 0 331.11 434.58" stroke-opacity=".017"/><path d="M331.11 434.58A41 41 0 0 0 336.83 434.78" stroke-opacity=".007"/><path d="M336.83 434.78A41 41 0 0 0 342.52 434.18" stroke-opacity=".01"/><path d="M342.52 434.18A41 41 0 0 0 348.07 432.79" stroke-opacity=".026"/><path d="M348.07 432.79A41 41 0 0 0 353.37 430.65" stroke-opacity=".052"/><path d="M353.37 430.65A41 41 0 0 0 358.33 427.79" stroke-opacity=".075"/><path d="M358.33 427.79A41 41 0 0 0 362.83 424.27" stroke-opacity=".078"/><path d="M362.83 424.27A41 41 0 0 0 366.81 420.15" stroke-opacity=".059"/><path d="M366.81 420.15A41 41 0 0 0 370.17 415.53" stroke-opacity=".032"/><path d="M370.17 415.53A41 41 0 0 0 372.86 410.48" stroke-opacity=".012"/></g></g><radialGradient id="sdd011" fx="0.6"><stop offset="0" stop-opacity=".56"/><stop offset=".053" stop-opacity=".559"/><stop offset=".105" stop-opacity=".556"/><stop offset=".158" stop-opacity=".545"/><stop offset=".211" stop-opacity=".525"/><stop offset=".263" stop-opacity=".494"/><stop offset=".316" stop-opacity=".451"/><stop offset=".368" stop-opacity=".397"/><stop offset=".421" stop-opacity=".336"/><stop offset=".474" stop-opacity=".27"/><stop offset=".526" stop-opacity=".206"/><stop offset=".579" stop-opacity=".148"/><stop offset=".632" stop-opacity=".099"/><stop offset=".684" stop-opacity=".062"/><stop offset=".737" stop-opacity=".036"/><stop offset=".789" stop-opacity=".019"/><stop offset=".842" stop-opacity=".009"/><stop offset=".895" stop-opacity=".004"/><stop offset=".947" stop-opacity=".002"/><stop offset="1" stop-opacity=".001"/></radialGradient><ellipse cx="309.4" cy="393.8" rx="7.98" ry="15.2" fill="url(#sdd011)"/><radialGradient id="sdd012"><stop offset="0" stop-opacity=".86"/><stop offset=".053" stop-opacity=".859"/><stop offset=".105" stop-opacity=".851"/><stop offset=".158" stop-opacity=".83"/><stop offset=".211" stop-opacity=".793"/><stop offset=".263" stop-opacity=".736"/><stop offset=".316" stop-opacity=".661"/><stop offset=".368" stop-opacity=".569"/><stop offset=".421" stop-opacity=".468"/><stop offset=".474" stop-opacity=".366"/><stop offset=".526" stop-opacity=".269"/><stop offset=".579" stop-opacity=".186"/><stop offset=".632" stop-opacity=".12"/><stop offset=".684" stop-opacity=".072"/><stop offset=".737" stop-opacity=".04"/><stop offset=".789" stop-opacity=".02"/><stop offset=".842" stop-opacity=".009"/><stop offset=".895" stop-opacity=".004"/><stop offset=".947" stop-opacity=".001"/><stop offset="1" stop-opacity="0"/></radialGradient><ellipse cx="322.8" cy="393.8" rx="7.2" ry="15.8" fill="url(#sdd012)"/><radialGradient id="sdd013"><stop offset="0" stop-opacity="1"/><stop offset=".053" stop-opacity=".999"/><stop offset=".105" stop-opacity=".989"/><stop offset=".158" stop-opacity=".965"/><stop offset=".211" stop-opacity=".922"/><stop offset=".263" stop-opacity=".856"/><stop offset=".316" stop-opacity=".768"/><stop offset=".368" stop-opacity=".662"/><stop offset=".421" stop-opacity=".545"/><stop offset=".474" stop-opacity=".425"/><stop offset=".526" stop-opacity=".313"/><stop offset=".579" stop-opacity=".217"/><stop offset=".632" stop-opacity=".14"/><stop offset=".684" stop-opacity=".083"/><stop offset=".737" stop-opacity=".046"/><stop offset=".789" stop-opacity=".023"/><stop offset=".842" stop-opacity=".011"/><stop offset=".895" stop-opacity=".004"/><stop offset=".947" stop-opacity=".002"/><stop offset="1" stop-opacity=".001"/></radialGradient><ellipse cx="335.4" cy="393.8" rx="7.2" ry="15.8" fill="url(#sdd013)"/><radialGradient id="sdd014"><stop offset="0" stop-opacity=".86"/><stop offset=".053" stop-opacity=".859"/><stop offset=".105" stop-opacity=".851"/><stop offset=".158" stop-opacity=".83"/><stop offset=".211" stop-opacity=".793"/><stop offset=".263" stop-opacity=".736"/><stop offset=".316" stop-opacity=".661"/><stop offset=".368" stop-opacity=".569"/><stop offset=".421" stop-opacity=".468"/><stop offset=".474" stop-opacity=".366"/><stop offset=".526" stop-opacity=".269"/><stop offset=".579" stop-opacity=".186"/><stop offset=".632" stop-opacity=".12"/><stop offset=".684" stop-opacity=".072"/><stop offset=".737" stop-opacity=".04"/><stop offset=".789" stop-opacity=".02"/><stop offset=".842" stop-opacity=".009"/><stop offset=".895" stop-opacity=".004"/><stop offset=".947" stop-opacity=".001"/><stop offset="1" stop-opacity="0"/></radialGradient><ellipse cx="348" cy="393.8" rx="7.2" ry="15.8" fill="url(#sdd014)"/><radialGradient id="sdd015" fx="0.4"><stop offset="0" stop-opacity=".56"/><stop offset=".053" stop-opacity=".559"/><stop offset=".105" stop-opacity=".556"/><stop offset=".158" stop-opacity=".545"/><stop offset=".211" stop-opacity=".525"/><stop offset=".263" stop-opacity=".494"/><stop offset=".316" stop-opacity=".451"/><stop offset=".368" stop-opacity=".397"/><stop offset=".421" stop-opacity=".336"/><stop offset=".474" stop-opacity=".27"/><stop offset=".526" stop-opacity=".206"/><stop offset=".579" stop-opacity=".148"/><stop offset=".632" stop-opacity=".099"/><stop offset=".684" stop-opacity=".062"/><stop offset=".737" stop-opacity=".036"/><stop offset=".789" stop-opacity=".019"/><stop offset=".842" stop-opacity=".009"/><stop offset=".895" stop-opacity=".004"/><stop offset=".947" stop-opacity=".002"/><stop offset="1" stop-opacity=".001"/></radialGradient><ellipse cx="361.4" cy="393.8" rx="7.98" ry="15.2" fill="url(#sdd015)"/>
</g></g>
<clipPath id="cpd10"><rect x="375" y="280.8" width="73.2" height="73"/></clipPath>
<filter id="fjd10" filterUnits="userSpaceOnUse" x="369" y="274.8" width="85.2" height="85" color-interpolation-filters="sRGB"><feGaussianBlur in="SourceGraphic" stdDeviation="0.5" result="s"/><feTurbulence type="fractalNoise" baseFrequency="0.5" numOctaves="1" seed="28" result="t"/><feColorMatrix in="t" type="matrix" values="1 0 0 0 0 1 0 0 0 0 1 0 0 0 0 0 0 0 0 1" result="n"/><feComposite in="s" in2="n" operator="arithmetic" k1="0.5" k2="0.75" k3="0.09" k4="-0.04"/><feComponentTransfer><feFuncR type="table" tableValues="0 0 0 0 0.5 1 1 1 0.56"/><feFuncG type="table" tableValues="0 0 0.5 1 1 1 0.5 0 0"/><feFuncB type="table" tableValues="0.56 1 1 1 0.5 0 0 0 0"/></feComponentTransfer></filter>
<g clip-path="url(#cpd10)"><g filter="url(#fjd10)">
<rect x="369" y="274.8" width="85.2" height="85" fill="#070707"/>
<filter id="rbd10" x="-20%" y="-20%" width="140%" height="140%"><feGaussianBlur stdDeviation="1.4"/></filter><g filter="url(#rbd10)" fill="none" stroke="#fff"><g stroke-width="4"><path d="M447.6 317.6A37 37 0 0 0 447.04 311.18" stroke-opacity=".118"/><path d="M447.04 311.18A37 37 0 0 0 445.37 304.95" stroke-opacity=".106"/><path d="M445.37 304.95A37 37 0 0 0 442.64 299.1" stroke-opacity=".085"/><path d="M442.64 299.1A37 37 0 0 0 438.94 293.82" stroke-opacity=".061"/><path d="M438.94 293.82A37 37 0 0 0 434.38 289.26" stroke-opacity=".039"/><path d="M434.38 289.26A37 37 0 0 0 429.1 285.56" stroke-opacity=".022"/><path d="M429.1 285.56A37 37 0 0 0 423.25 282.83" stroke-opacity=".012"/><path d="M423.25 282.83A37 37 0 0 0 417.02 281.16" stroke-opacity=".006"/><path d="M404.18 281.16A37 37 0 0 0 397.95 282.83" stroke-opacity=".006"/><path d="M397.95 282.83A37 37 0 0 0 392.1 285.56" stroke-opacity=".012"/><path d="M392.1 285.56A37 37 0 0 0 386.82 289.26" stroke-opacity=".022"/><path d="M386.82 289.26A37 37 0 0 0 382.26 293.82" stroke-opacity=".039"/><path d="M382.26 293.82A37 37 0 0 0 378.56 299.1" stroke-opacity=".061"/><path d="M378.56 299.1A37 37 0 0 0 375.83 304.95" stroke-opacity=".085"/><path d="M375.83 304.95A37 37 0 0 0 374.16 311.18" stroke-opacity=".106"/><path d="M374.16 311.18A37 37 0 0 0 373.6 317.6" stroke-opacity=".118"/><path d="M373.6 317.6A37 37 0 0 0 374.16 324.02" stroke-opacity=".118"/><path d="M374.16 324.02A37 37 0 0 0 375.83 330.25" stroke-opacity=".106"/><path d="M375.83 330.25A37 37 0 0 0 378.56 336.1" stroke-opacity=".085"/><path d="M378.56 336.1A37 37 0 0 0 382.26 341.38" stroke-opacity=".061"/><path d="M382.26 341.38A37 37 0 0 0 386.82 345.94" stroke-opacity=".039"/><path d="M386.82 345.94A37 37 0 0 0 392.1 349.64" stroke-opacity=".022"/><path d="M392.1 349.64A37 37 0 0 0 397.95 352.37" stroke-opacity=".012"/><path d="M397.95 352.37A37 37 0 0 0 404.18 354.04" stroke-opacity=".006"/><path d="M417.02 354.04A37 37 0 0 0 423.25 352.37" stroke-opacity=".006"/><path d="M423.25 352.37A37 37 0 0 0 429.1 349.64" stroke-opacity=".012"/><path d="M429.1 349.64A37 37 0 0 0 434.38 345.94" stroke-opacity=".022"/><path d="M434.38 345.94A37 37 0 0 0 438.94 341.38" stroke-opacity=".039"/><path d="M438.94 341.38A37 37 0 0 0 442.64 336.1" stroke-opacity=".061"/><path d="M442.64 336.1A37 37 0 0 0 445.37 330.25" stroke-opacity=".085"/><path d="M445.37 330.25A37 37 0 0 0 447.04 324.02" stroke-opacity=".106"/><path d="M447.04 324.02A37 37 0 0 0 447.6 317.6" stroke-opacity=".118"/></g><g stroke-width="4"><path d="M439.6 317.6A29 29 0 0 0 439.16 312.56" stroke-opacity=".012"/><path d="M439.16 312.56A29 29 0 0 0 437.85 307.68" stroke-opacity=".023"/><path d="M437.85 307.68A29 29 0 0 0 435.71 303.1" stroke-opacity=".042"/><path d="M435.71 303.1A29 29 0 0 0 432.82 298.96" stroke-opacity=".058"/><path d="M432.82 298.96A29 29 0 0 0 429.24 295.38" stroke-opacity=".058"/><path d="M429.24 295.38A29 29 0 0 0 425.1 292.49" stroke-opacity=".042"/><path d="M425.1 292.49A29 29 0 0 0 420.52 290.35" stroke-opacity=".023"/><path d="M420.52 290.35A29 29 0 0 0 415.64 289.04" stroke-opacity=".009"/><path d="M405.56 289.04A29 29 0 0 0 400.68 290.35" stroke-opacity=".009"/><path d="M400.68 290.35A29 29 0 0 0 396.1 292.49" stroke-opacity=".023"/><path d="M396.1 292.49A29 29 0 0 0 391.96 295.38" stroke-opacity=".042"/><path d="M391.96 295.38A29 29 0 0 0 388.38 298.96" stroke-opacity=".058"/><path d="M388.38 298.96A29 29 0 0 0 385.49 303.1" stroke-opacity=".058"/><path d="M385.49 303.1A29 29 0 0 0 383.35 307.68" stroke-opacity=".042"/><path d="M383.35 307.68A29 29 0 0 0 382.04 312.56" stroke-opacity=".023"/><path d="M382.04 312.56A29 29 0 0 0 381.6 317.6" stroke-opacity=".012"/><path d="M381.6 317.6A29 29 0 0 0 382.04 322.64" stroke-opacity=".012"/><path d="M382.04 322.64A29 29 0 0 0 383.35 327.52" stroke-opacity=".023"/><path d="M383.35 327.52A29 29 0 0 0 385.49 332.1" stroke-opacity=".042"/><path d="M385.49 332.1A29 29 0 0 0 388.38 336.24" stroke-opacity=".058"/><path d="M388.38 336.24A29 29 0 0 0 391.96 339.82" stroke-opacity=".058"/><path d="M391.96 339.82A29 29 0 0 0 396.1 342.71" stroke-opacity=".042"/><path d="M396.1 342.71A29 29 0 0 0 400.68 344.85" stroke-opacity=".023"/><path d="M400.68 344.85A29 29 0 0 0 405.56 346.16" stroke-opacity=".009"/><path d="M415.64 346.16A29 29 0 0 0 420.52 344.85" stroke-opacity=".009"/><path d="M420.52 344.85A29 29 0 0 0 425.1 342.71" stroke-opacity=".023"/><path d="M425.1 342.71A29 29 0 0 0 429.24 339.82" stroke-opacity=".042"/><path d="M429.24 339.82A29 29 0 0 0 432.82 336.24" stroke-opacity=".058"/><path d="M432.82 336.24A29 29 0 0 0 435.71 332.1" stroke-opacity=".058"/><path d="M435.71 332.1A29 29 0 0 0 437.85 327.52" stroke-opacity=".042"/><path d="M437.85 327.52A29 29 0 0 0 439.16 322.64" stroke-opacity=".023"/><path d="M439.16 322.64A29 29 0 0 0 439.6 317.6" stroke-opacity=".012"/></g><g stroke-width="4"><path d="M429.65 306.6A22 22 0 0 0 427.45 303.46" stroke-opacity=".004"/><path d="M427.45 303.46A22 22 0 0 0 424.74 300.75" stroke-opacity=".01"/><path d="M424.74 300.75A22 22 0 0 0 421.6 298.55" stroke-opacity=".019"/><path d="M421.6 298.55A22 22 0 0 0 418.12 296.93" stroke-opacity=".03"/><path d="M418.12 296.93A22 22 0 0 0 414.42 295.93" stroke-opacity=".042"/><path d="M414.42 295.93A22 22 0 0 0 410.6 295.6" stroke-opacity=".049"/><path d="M410.6 295.6A22 22 0 0 0 406.78 295.93" stroke-opacity=".049"/><path d="M406.78 295.93A22 22 0 0 0 403.08 296.93" stroke-opacity=".042"/><path d="M403.08 296.93A22 22 0 0 0 399.6 298.55" stroke-opacity=".03"/><path d="M399.6 298.55A22 22 0 0 0 396.46 300.75" stroke-opacity=".019"/><path d="M396.46 300.75A22 22 0 0 0 393.75 303.46" stroke-opacity=".01"/><path d="M393.75 303.46A22 22 0 0 0 391.55 306.6" stroke-opacity=".004"/><path d="M391.55 328.6A22 22 0 0 0 393.75 331.74" stroke-opacity=".004"/><path d="M393.75 331.74A22 22 0 0 0 396.46 334.45" stroke-opacity=".01"/><path d="M396.46 334.45A22 22 0 0 0 399.6 336.65" stroke-opacity=".019"/><path d="M399.6 336.65A22 22 0 0 0 403.08 338.27" stroke-opacity=".03"/><path d="M403.08 338.27A22 22 0 0 0 406.78 339.27" stroke-opacity=".042"/><path d="M406.78 339.27A22 22 0 0 0 410.6 339.6" stroke-opacity=".049"/><path d="M410.6 339.6A22 22 0 0 0 414.42 339.27" stroke-opacity=".049"/><path d="M414.42 339.27A22 22 0 0 0 418.12 338.27" stroke-opacity=".042"/><path d="M418.12 338.27A22 22 0 0 0 421.6 336.65" stroke-opacity=".03"/><path d="M421.6 336.65A22 22 0 0 0 424.74 334.45" stroke-opacity=".019"/><path d="M424.74 334.45A22 22 0 0 0 427.45 331.74" stroke-opacity=".01"/><path d="M427.45 331.74A22 22 0 0 0 429.65 328.6" stroke-opacity=".004"/></g></g><radialGradient id="sdd100"><stop offset="0" stop-opacity=".36"/><stop offset=".053" stop-opacity=".358"/><stop offset=".105" stop-opacity=".351"/><stop offset=".158" stop-opacity=".335"/><stop offset=".211" stop-opacity=".313"/><stop offset=".263" stop-opacity=".283"/><stop offset=".316" stop-opacity=".248"/><stop offset=".368" stop-opacity=".21"/><stop offset=".421" stop-opacity=".171"/><stop offset=".474" stop-opacity=".134"/><stop offset=".526" stop-opacity=".101"/><stop offset=".579" stop-opacity=".073"/><stop offset=".632" stop-opacity=".05"/><stop offset=".684" stop-opacity=".033"/><stop offset=".737" stop-opacity=".021"/><stop offset=".789" stop-opacity=".012"/><stop offset=".842" stop-opacity=".007"/><stop offset=".895" stop-opacity=".004"/><stop offset=".947" stop-opacity=".002"/><stop offset="1" stop-opacity=".001"/></radialGradient><ellipse cx="374.6" cy="317.6" rx="8.4" ry="14.91" fill="url(#sdd100)"/><radialGradient id="sdd101"><stop offset="0" stop-opacity=".62"/><stop offset=".053" stop-opacity=".617"/><stop offset=".105" stop-opacity=".604"/><stop offset=".158" stop-opacity=".578"/><stop offset=".211" stop-opacity=".538"/><stop offset=".263" stop-opacity=".487"/><stop offset=".316" stop-opacity=".427"/><stop offset=".368" stop-opacity=".361"/><stop offset=".421" stop-opacity=".295"/><stop offset=".474" stop-opacity=".231"/><stop offset=".526" stop-opacity=".174"/><stop offset=".579" stop-opacity=".125"/><stop offset=".632" stop-opacity=".087"/><stop offset=".684" stop-opacity=".057"/><stop offset=".737" stop-opacity=".036"/><stop offset=".789" stop-opacity=".021"/><stop offset=".842" stop-opacity=".012"/><stop offset=".895" stop-opacity=".007"/><stop offset=".947" stop-opacity=".003"/><stop offset="1" stop-opacity=".002"/></radialGradient><ellipse cx="386.6" cy="317.6" rx="8.4" ry="14.91" fill="url(#sdd101)"/><radialGradient id="sdd102"><stop offset="0" stop-opacity=".86"/><stop offset=".053" stop-opacity=".856"/><stop offset=".105" stop-opacity=".837"/><stop offset=".158" stop-opacity=".801"/><stop offset=".211" stop-opacity=".747"/><stop offset=".263" stop-opacity=".676"/><stop offset=".316" stop-opacity=".592"/><stop offset=".368" stop-opacity=".501"/><stop offset=".421" stop-opacity=".409"/><stop offset=".474" stop-opacity=".32"/><stop offset=".526" stop-opacity=".241"/><stop offset=".579" stop-opacity=".174"/><stop offset=".632" stop-opacity=".12"/><stop offset=".684" stop-opacity=".079"/><stop offset=".737" stop-opacity=".05"/><stop offset=".789" stop-opacity=".03"/><stop offset=".842" stop-opacity=".017"/><stop offset=".895" stop-opacity=".009"/><stop offset=".947" stop-opacity=".005"/><stop offset="1" stop-opacity=".002"/></radialGradient><ellipse cx="398.6" cy="317.6" rx="8.4" ry="14.91" fill="url(#sdd102)"/><radialGradient id="sdd103"><stop offset="0" stop-opacity="1"/><stop offset=".053" stop-opacity=".995"/><stop offset=".105" stop-opacity=".974"/><stop offset=".158" stop-opacity=".932"/><stop offset=".211" stop-opacity=".868"/><stop offset=".263" stop-opacity=".786"/><stop offset=".316" stop-opacity=".689"/><stop offset=".368" stop-opacity=".583"/><stop offset=".421" stop-opacity=".475"/><stop offset=".474" stop-opacity=".373"/><stop offset=".526" stop-opacity=".28"/><stop offset=".579" stop-opacity=".202"/><stop offset=".632" stop-opacity=".14"/><stop offset=".684" stop-opacity=".092"/><stop offset=".737" stop-opacity=".058"/><stop offset=".789" stop-opacity=".035"/><stop offset=".842" stop-opacity=".02"/><stop offset=".895" stop-opacity=".011"/><stop offset=".947" stop-opacity=".005"/><stop offset="1" stop-opacity=".003"/></radialGradient><ellipse cx="410.6" cy="317.6" rx="8.4" ry="14.91" fill="url(#sdd103)"/><radialGradient id="sdd104"><stop offset="0" stop-opacity=".86"/><stop offset=".053" stop-opacity=".856"/><stop offset=".105" stop-opacity=".837"/><stop offset=".158" stop-opacity=".801"/><stop offset=".211" stop-opacity=".747"/><stop offset=".263" stop-opacity=".676"/><stop offset=".316" stop-opacity=".592"/><stop offset=".368" stop-opacity=".501"/><stop offset=".421" stop-opacity=".409"/><stop offset=".474" stop-opacity=".32"/><stop offset=".526" stop-opacity=".241"/><stop offset=".579" stop-opacity=".174"/><stop offset=".632" stop-opacity=".12"/><stop offset=".684" stop-opacity=".079"/><stop offset=".737" stop-opacity=".05"/><stop offset=".789" stop-opacity=".03"/><stop offset=".842" stop-opacity=".017"/><stop offset=".895" stop-opacity=".009"/><stop offset=".947" stop-opacity=".005"/><stop offset="1" stop-opacity=".002"/></radialGradient><ellipse cx="422.6" cy="317.6" rx="8.4" ry="14.91" fill="url(#sdd104)"/><radialGradient id="sdd105"><stop offset="0" stop-opacity=".62"/><stop offset=".053" stop-opacity=".617"/><stop offset=".105" stop-opacity=".604"/><stop offset=".158" stop-opacity=".578"/><stop offset=".211" stop-opacity=".538"/><stop offset=".263" stop-opacity=".487"/><stop offset=".316" stop-opacity=".427"/><stop offset=".368" stop-opacity=".361"/><stop offset=".421" stop-opacity=".295"/><stop offset=".474" stop-opacity=".231"/><stop offset=".526" stop-opacity=".174"/><stop offset=".579" stop-opacity=".125"/><stop offset=".632" stop-opacity=".087"/><stop offset=".684" stop-opacity=".057"/><stop offset=".737" stop-opacity=".036"/><stop offset=".789" stop-opacity=".021"/><stop offset=".842" stop-opacity=".012"/><stop offset=".895" stop-opacity=".007"/><stop offset=".947" stop-opacity=".003"/><stop offset="1" stop-opacity=".002"/></radialGradient><ellipse cx="434.6" cy="317.6" rx="8.4" ry="14.91" fill="url(#sdd105)"/><radialGradient id="sdd106"><stop offset="0" stop-opacity=".36"/><stop offset=".053" stop-opacity=".358"/><stop offset=".105" stop-opacity=".351"/><stop offset=".158" stop-opacity=".335"/><stop offset=".211" stop-opacity=".313"/><stop offset=".263" stop-opacity=".283"/><stop offset=".316" stop-opacity=".248"/><stop offset=".368" stop-opacity=".21"/><stop offset=".421" stop-opacity=".171"/><stop offset=".474" stop-opacity=".134"/><stop offset=".526" stop-opacity=".101"/><stop offset=".579" stop-opacity=".073"/><stop offset=".632" stop-opacity=".05"/><stop offset=".684" stop-opacity=".033"/><stop offset=".737" stop-opacity=".021"/><stop offset=".789" stop-opacity=".012"/><stop offset=".842" stop-opacity=".007"/><stop offset=".895" stop-opacity=".004"/><stop offset=".947" stop-opacity=".002"/><stop offset="1" stop-opacity=".001"/></radialGradient><ellipse cx="446.6" cy="317.6" rx="8.4" ry="14.91" fill="url(#sdd106)"/>
</g></g>
<clipPath id="cpd11"><rect x="375" y="357" width="73.2" height="73"/></clipPath>
<filter id="fjd11" filterUnits="userSpaceOnUse" x="369" y="351" width="85.2" height="85" color-interpolation-filters="sRGB"><feGaussianBlur in="SourceGraphic" stdDeviation="0.5" result="s"/><feComponentTransfer><feFuncR type="table" tableValues="0 0 0 0 0.5 1 1 1 0.56"/><feFuncG type="table" tableValues="0 0 0.5 1 1 1 0.5 0 0"/><feFuncB type="table" tableValues="0.56 1 1 1 0.5 0 0 0 0"/></feComponentTransfer></filter>
<g clip-path="url(#cpd11)"><g filter="url(#fjd11)">
<rect x="369" y="351" width="85.2" height="85" fill="#090909"/>
<filter id="rbd11" x="-20%" y="-20%" width="140%" height="140%"><feGaussianBlur stdDeviation="1.4"/></filter><g filter="url(#rbd11)" fill="none" stroke="#fff"><g stroke-width="5"><path d="M448.3 393.8A36.5 36.5 0 0 0 448.1 389.98" stroke-opacity=".337"/><path d="M448.1 389.98A36.5 36.5 0 0 0 447.5 386.21" stroke-opacity=".317"/><path d="M447.5 386.21A36.5 36.5 0 0 0 446.51 382.52" stroke-opacity=".28"/><path d="M446.51 382.52A36.5 36.5 0 0 0 445.14 378.95" stroke-opacity=".232"/><path d="M445.14 378.95A36.5 36.5 0 0 0 443.41 375.55" stroke-opacity=".181"/><path d="M443.41 375.55A36.5 36.5 0 0 0 441.33 372.35" stroke-opacity=".132"/><path d="M441.33 372.35A36.5 36.5 0 0 0 438.92 369.38" stroke-opacity=".091"/><path d="M438.92 369.38A36.5 36.5 0 0 0 436.22 366.68" stroke-opacity=".059"/><path d="M436.22 366.68A36.5 36.5 0 0 0 433.25 364.27" stroke-opacity=".036"/><path d="M433.25 364.27A36.5 36.5 0 0 0 430.05 362.19" stroke-opacity=".02"/><path d="M430.05 362.19A36.5 36.5 0 0 0 426.65 360.46" stroke-opacity=".011"/><path d="M426.65 360.46A36.5 36.5 0 0 0 423.08 359.09" stroke-opacity=".005"/><path d="M400.52 359.09A36.5 36.5 0 0 0 396.95 360.46" stroke-opacity=".005"/><path d="M396.95 360.46A36.5 36.5 0 0 0 393.55 362.19" stroke-opacity=".011"/><path d="M393.55 362.19A36.5 36.5 0 0 0 390.35 364.27" stroke-opacity=".02"/><path d="M390.35 364.27A36.5 36.5 0 0 0 387.38 366.68" stroke-opacity=".036"/><path d="M387.38 366.68A36.5 36.5 0 0 0 384.68 369.38" stroke-opacity=".059"/><path d="M384.68 369.38A36.5 36.5 0 0 0 382.27 372.35" stroke-opacity=".091"/><path d="M382.27 372.35A36.5 36.5 0 0 0 380.19 375.55" stroke-opacity=".132"/><path d="M380.19 375.55A36.5 36.5 0 0 0 378.46 378.95" stroke-opacity=".181"/><path d="M378.46 378.95A36.5 36.5 0 0 0 377.09 382.52" stroke-opacity=".232"/><path d="M377.09 382.52A36.5 36.5 0 0 0 376.1 386.21" stroke-opacity=".28"/><path d="M376.1 386.21A36.5 36.5 0 0 0 375.5 389.98" stroke-opacity=".317"/><path d="M375.5 389.98A36.5 36.5 0 0 0 375.3 393.8" stroke-opacity=".337"/><path d="M375.3 393.8A36.5 36.5 0 0 0 375.5 397.62" stroke-opacity=".337"/><path d="M375.5 397.62A36.5 36.5 0 0 0 376.1 401.39" stroke-opacity=".317"/><path d="M376.1 401.39A36.5 36.5 0 0 0 377.09 405.08" stroke-opacity=".28"/><path d="M377.09 405.08A36.5 36.5 0 0 0 378.46 408.65" stroke-opacity=".232"/><path d="M378.46 408.65A36.5 36.5 0 0 0 380.19 412.05" stroke-opacity=".181"/><path d="M380.19 412.05A36.5 36.5 0 0 0 382.27 415.25" stroke-opacity=".132"/><path d="M382.27 415.25A36.5 36.5 0 0 0 384.68 418.22" stroke-opacity=".091"/><path d="M384.68 418.22A36.5 36.5 0 0 0 387.38 420.92" stroke-opacity=".059"/><path d="M387.38 420.92A36.5 36.5 0 0 0 390.35 423.33" stroke-opacity=".036"/><path d="M390.35 423.33A36.5 36.5 0 0 0 393.55 425.41" stroke-opacity=".02"/><path d="M393.55 425.41A36.5 36.5 0 0 0 396.95 427.14" stroke-opacity=".011"/><path d="M396.95 427.14A36.5 36.5 0 0 0 400.52 428.51" stroke-opacity=".005"/><path d="M423.08 428.51A36.5 36.5 0 0 0 426.65 427.14" stroke-opacity=".005"/><path d="M426.65 427.14A36.5 36.5 0 0 0 430.05 425.41" stroke-opacity=".011"/><path d="M430.05 425.41A36.5 36.5 0 0 0 433.25 423.33" stroke-opacity=".02"/><path d="M433.25 423.33A36.5 36.5 0 0 0 436.22 420.92" stroke-opacity=".036"/><path d="M436.22 420.92A36.5 36.5 0 0 0 438.92 418.22" stroke-opacity=".059"/><path d="M438.92 418.22A36.5 36.5 0 0 0 441.33 415.25" stroke-opacity=".091"/><path d="M441.33 415.25A36.5 36.5 0 0 0 443.41 412.05" stroke-opacity=".132"/><path d="M443.41 412.05A36.5 36.5 0 0 0 445.14 408.65" stroke-opacity=".181"/><path d="M445.14 408.65A36.5 36.5 0 0 0 446.51 405.08" stroke-opacity=".232"/><path d="M446.51 405.08A36.5 36.5 0 0 0 447.5 401.39" stroke-opacity=".28"/><path d="M447.5 401.39A36.5 36.5 0 0 0 448.1 397.62" stroke-opacity=".317"/><path d="M448.1 397.62A36.5 36.5 0 0 0 448.3 393.8" stroke-opacity=".337"/></g><g stroke-width="4"><path d="M435.3 393.8A23.5 23.5 0 0 0 434.94 389.72" stroke-opacity=".02"/><path d="M434.94 389.72A23.5 23.5 0 0 0 433.88 385.76" stroke-opacity=".021"/><path d="M433.88 385.76A23.5 23.5 0 0 0 432.15 382.05" stroke-opacity=".023"/><path d="M432.15 382.05A23.5 23.5 0 0 0 429.8 378.69" stroke-opacity=".027"/><path d="M429.8 378.69A23.5 23.5 0 0 0 426.91 375.8" stroke-opacity=".036"/><path d="M426.91 375.8A23.5 23.5 0 0 0 423.55 373.45" stroke-opacity=".05"/><path d="M423.55 373.45A23.5 23.5 0 0 0 419.84 371.72" stroke-opacity=".069"/><path d="M419.84 371.72A23.5 23.5 0 0 0 415.88 370.66" stroke-opacity=".087"/><path d="M415.88 370.66A23.5 23.5 0 0 0 411.8 370.3" stroke-opacity=".098"/><path d="M411.8 370.3A23.5 23.5 0 0 0 407.72 370.66" stroke-opacity=".098"/><path d="M407.72 370.66A23.5 23.5 0 0 0 403.76 371.72" stroke-opacity=".087"/><path d="M403.76 371.72A23.5 23.5 0 0 0 400.05 373.45" stroke-opacity=".069"/><path d="M400.05 373.45A23.5 23.5 0 0 0 396.69 375.8" stroke-opacity=".05"/><path d="M396.69 375.8A23.5 23.5 0 0 0 393.8 378.69" stroke-opacity=".036"/><path d="M393.8 378.69A23.5 23.5 0 0 0 391.45 382.05" stroke-opacity=".027"/><path d="M391.45 382.05A23.5 23.5 0 0 0 389.72 385.76" stroke-opacity=".023"/><path d="M389.72 385.76A23.5 23.5 0 0 0 388.66 389.72" stroke-opacity=".021"/><path d="M388.66 389.72A23.5 23.5 0 0 0 388.3 393.8" stroke-opacity=".02"/><path d="M388.3 393.8A23.5 23.5 0 0 0 388.66 397.88" stroke-opacity=".02"/><path d="M388.66 397.88A23.5 23.5 0 0 0 389.72 401.84" stroke-opacity=".021"/><path d="M389.72 401.84A23.5 23.5 0 0 0 391.45 405.55" stroke-opacity=".023"/><path d="M391.45 405.55A23.5 23.5 0 0 0 393.8 408.91" stroke-opacity=".027"/><path d="M393.8 408.91A23.5 23.5 0 0 0 396.69 411.8" stroke-opacity=".036"/><path d="M396.69 411.8A23.5 23.5 0 0 0 400.05 414.15" stroke-opacity=".05"/><path d="M400.05 414.15A23.5 23.5 0 0 0 403.76 415.88" stroke-opacity=".069"/><path d="M403.76 415.88A23.5 23.5 0 0 0 407.72 416.94" stroke-opacity=".087"/><path d="M407.72 416.94A23.5 23.5 0 0 0 411.8 417.3" stroke-opacity=".098"/><path d="M411.8 417.3A23.5 23.5 0 0 0 415.88 416.94" stroke-opacity=".098"/><path d="M415.88 416.94A23.5 23.5 0 0 0 419.84 415.88" stroke-opacity=".087"/><path d="M419.84 415.88A23.5 23.5 0 0 0 423.55 414.15" stroke-opacity=".069"/><path d="M423.55 414.15A23.5 23.5 0 0 0 426.91 411.8" stroke-opacity=".05"/><path d="M426.91 411.8A23.5 23.5 0 0 0 429.8 408.91" stroke-opacity=".036"/><path d="M429.8 408.91A23.5 23.5 0 0 0 432.15 405.55" stroke-opacity=".027"/><path d="M432.15 405.55A23.5 23.5 0 0 0 433.88 401.84" stroke-opacity=".023"/><path d="M433.88 401.84A23.5 23.5 0 0 0 434.94 397.88" stroke-opacity=".021"/><path d="M434.94 397.88A23.5 23.5 0 0 0 435.3 393.8" stroke-opacity=".02"/></g><g stroke-width="3.5"><path d="M441.51 389.62A30 30 0 0 0 440.64 385.53" stroke-opacity=".006"/><path d="M440.64 385.53A30 30 0 0 0 439.21 381.6" stroke-opacity=".018"/><path d="M439.21 381.6A30 30 0 0 0 437.24 377.9" stroke-opacity=".043"/><path d="M437.24 377.9A30 30 0 0 0 434.78 374.52" stroke-opacity=".073"/><path d="M434.78 374.52A30 30 0 0 0 431.87 371.51" stroke-opacity=".09"/><path d="M431.87 371.51A30 30 0 0 0 428.58 368.93" stroke-opacity=".079"/><path d="M428.58 368.93A30 30 0 0 0 424.95 366.84" stroke-opacity=".051"/><path d="M424.95 366.84A30 30 0 0 0 421.07 365.27" stroke-opacity=".023"/><path d="M421.07 365.27A30 30 0 0 0 417.01 364.26" stroke-opacity=".008"/><path d="M404.54 364.69A30 30 0 0 0 400.56 365.98" stroke-opacity=".014"/><path d="M400.56 365.98A30 30 0 0 0 396.8 367.82" stroke-opacity=".036"/><path d="M396.8 367.82A30 30 0 0 0 393.33 370.16" stroke-opacity=".066"/><path d="M393.33 370.16A30 30 0 0 0 390.22 372.96" stroke-opacity=".088"/><path d="M390.22 372.96A30 30 0 0 0 387.53 376.17" stroke-opacity=".084"/><path d="M387.53 376.17A30 30 0 0 0 385.31 379.72" stroke-opacity=".058"/><path d="M385.31 379.72A30 30 0 0 0 383.61 383.54" stroke-opacity=".029"/><path d="M383.61 383.54A30 30 0 0 0 382.46 387.56" stroke-opacity=".011"/><path d="M382.46 400.04A30 30 0 0 0 383.61 404.06" stroke-opacity=".011"/><path d="M383.61 404.06A30 30 0 0 0 385.31 407.88" stroke-opacity=".029"/><path d="M385.31 407.88A30 30 0 0 0 387.53 411.43" stroke-opacity=".058"/><path d="M387.53 411.43A30 30 0 0 0 390.22 414.64" stroke-opacity=".084"/><path d="M390.22 414.64A30 30 0 0 0 393.33 417.44" stroke-opacity=".088"/><path d="M393.33 417.44A30 30 0 0 0 396.8 419.78" stroke-opacity=".066"/><path d="M396.8 419.78A30 30 0 0 0 400.56 421.62" stroke-opacity=".036"/><path d="M400.56 421.62A30 30 0 0 0 404.54 422.91" stroke-opacity=".014"/><path d="M417.01 423.34A30 30 0 0 0 421.07 422.33" stroke-opacity=".008"/><path d="M421.07 422.33A30 30 0 0 0 424.95 420.76" stroke-opacity=".023"/><path d="M424.95 420.76A30 30 0 0 0 428.58 418.67" stroke-opacity=".051"/><path d="M428.58 418.67A30 30 0 0 0 431.87 416.09" stroke-opacity=".079"/><path d="M431.87 416.09A30 30 0 0 0 434.78 413.08" stroke-opacity=".09"/><path d="M434.78 413.08A30 30 0 0 0 437.24 409.7" stroke-opacity=".073"/><path d="M437.24 409.7A30 30 0 0 0 439.21 406" stroke-opacity=".043"/><path d="M439.21 406A30 30 0 0 0 440.64 402.07" stroke-opacity=".018"/><path d="M440.64 402.07A30 30 0 0 0 441.51 397.98" stroke-opacity=".006"/></g><g stroke-width="3.5"><path d="M449.26 377.12A41 41 0 0 0 446.57 372.07" stroke-opacity=".012"/><path d="M446.57 372.07A41 41 0 0 0 443.21 367.45" stroke-opacity=".032"/><path d="M443.21 367.45A41 41 0 0 0 439.23 363.33" stroke-opacity=".059"/><path d="M439.23 363.33A41 41 0 0 0 434.73 359.81" stroke-opacity=".078"/><path d="M434.73 359.81A41 41 0 0 0 429.77 356.95" stroke-opacity=".075"/><path d="M429.77 356.95A41 41 0 0 0 424.47 354.81" stroke-opacity=".052"/><path d="M424.47 354.81A41 41 0 0 0 418.92 353.42" stroke-opacity=".026"/><path d="M418.92 353.42A41 41 0 0 0 413.23 352.82" stroke-opacity=".01"/><path d="M413.23 352.82A41 41 0 0 0 407.51 353.02" stroke-opacity=".007"/><path d="M407.51 353.02A41 41 0 0 0 401.88 354.02" stroke-opacity=".017"/><path d="M401.88 354.02A41 41 0 0 0 396.44 355.79" stroke-opacity=".038"/><path d="M396.44 355.79A41 41 0 0 0 391.3 358.29" stroke-opacity=".065"/><path d="M391.3 358.29A41 41 0 0 0 386.56 361.49" stroke-opacity=".08"/><path d="M386.56 361.49A41 41 0 0 0 382.31 365.32" stroke-opacity=".071"/><path d="M382.31 365.32A41 41 0 0 0 378.63 369.7" stroke-opacity=".045"/><path d="M378.63 369.7A41 41 0 0 0 375.6 374.55" stroke-opacity=".021"/><path d="M375.6 374.55A41 41 0 0 0 373.27 379.78" stroke-opacity=".007"/><path d="M373.27 407.82A41 41 0 0 0 375.6 413.05" stroke-opacity=".007"/><path d="M375.6 413.05A41 41 0 0 0 378.63 417.9" stroke-opacity=".021"/><path d="M378.63 417.9A41 41 0 0 0 382.31 422.28" stroke-opacity=".045"/><path d="M382.31 422.28A41 41 0 0 0 386.56 426.11" stroke-opacity=".071"/><path d="M386.56 426.11A41 41 0 0 0 391.3 429.31" stroke-opacity=".08"/><path d="M391.3 429.31A41 41 0 0 0 396.44 431.81" stroke-opacity=".065"/><path d="M396.44 431.81A41 41 0 0 0 401.88 433.58" stroke-opacity=".038"/><path d="M401.88 433.58A41 41 0 0 0 407.51 434.58" stroke-opacity=".017"/><path d="M407.51 434.58A41 41 0 0 0 413.23 434.78" stroke-opacity=".007"/><path d="M413.23 434.78A41 41 0 0 0 418.92 434.18" stroke-opacity=".01"/><path d="M418.92 434.18A41 41 0 0 0 424.47 432.79" stroke-opacity=".026"/><path d="M424.47 432.79A41 41 0 0 0 429.77 430.65" stroke-opacity=".052"/><path d="M429.77 430.65A41 41 0 0 0 434.73 427.79" stroke-opacity=".075"/><path d="M434.73 427.79A41 41 0 0 0 439.23 424.27" stroke-opacity=".078"/><path d="M439.23 424.27A41 41 0 0 0 443.21 420.15" stroke-opacity=".059"/><path d="M443.21 420.15A41 41 0 0 0 446.57 415.53" stroke-opacity=".032"/><path d="M446.57 415.53A41 41 0 0 0 449.26 410.48" stroke-opacity=".012"/></g></g><radialGradient id="sdd111" fx="0.6"><stop offset="0" stop-opacity=".56"/><stop offset=".053" stop-opacity=".559"/><stop offset=".105" stop-opacity=".556"/><stop offset=".158" stop-opacity=".545"/><stop offset=".211" stop-opacity=".525"/><stop offset=".263" stop-opacity=".494"/><stop offset=".316" stop-opacity=".451"/><stop offset=".368" stop-opacity=".397"/><stop offset=".421" stop-opacity=".336"/><stop offset=".474" stop-opacity=".27"/><stop offset=".526" stop-opacity=".206"/><stop offset=".579" stop-opacity=".148"/><stop offset=".632" stop-opacity=".099"/><stop offset=".684" stop-opacity=".062"/><stop offset=".737" stop-opacity=".036"/><stop offset=".789" stop-opacity=".019"/><stop offset=".842" stop-opacity=".009"/><stop offset=".895" stop-opacity=".004"/><stop offset=".947" stop-opacity=".002"/><stop offset="1" stop-opacity=".001"/></radialGradient><ellipse cx="385.8" cy="393.8" rx="7.98" ry="15.2" fill="url(#sdd111)"/><radialGradient id="sdd112"><stop offset="0" stop-opacity=".86"/><stop offset=".053" stop-opacity=".859"/><stop offset=".105" stop-opacity=".851"/><stop offset=".158" stop-opacity=".83"/><stop offset=".211" stop-opacity=".793"/><stop offset=".263" stop-opacity=".736"/><stop offset=".316" stop-opacity=".661"/><stop offset=".368" stop-opacity=".569"/><stop offset=".421" stop-opacity=".468"/><stop offset=".474" stop-opacity=".366"/><stop offset=".526" stop-opacity=".269"/><stop offset=".579" stop-opacity=".186"/><stop offset=".632" stop-opacity=".12"/><stop offset=".684" stop-opacity=".072"/><stop offset=".737" stop-opacity=".04"/><stop offset=".789" stop-opacity=".02"/><stop offset=".842" stop-opacity=".009"/><stop offset=".895" stop-opacity=".004"/><stop offset=".947" stop-opacity=".001"/><stop offset="1" stop-opacity="0"/></radialGradient><ellipse cx="399.2" cy="393.8" rx="7.2" ry="15.8" fill="url(#sdd112)"/><radialGradient id="sdd113"><stop offset="0" stop-opacity="1"/><stop offset=".053" stop-opacity=".999"/><stop offset=".105" stop-opacity=".989"/><stop offset=".158" stop-opacity=".965"/><stop offset=".211" stop-opacity=".922"/><stop offset=".263" stop-opacity=".856"/><stop offset=".316" stop-opacity=".768"/><stop offset=".368" stop-opacity=".662"/><stop offset=".421" stop-opacity=".545"/><stop offset=".474" stop-opacity=".425"/><stop offset=".526" stop-opacity=".313"/><stop offset=".579" stop-opacity=".217"/><stop offset=".632" stop-opacity=".14"/><stop offset=".684" stop-opacity=".083"/><stop offset=".737" stop-opacity=".046"/><stop offset=".789" stop-opacity=".023"/><stop offset=".842" stop-opacity=".011"/><stop offset=".895" stop-opacity=".004"/><stop offset=".947" stop-opacity=".002"/><stop offset="1" stop-opacity=".001"/></radialGradient><ellipse cx="411.8" cy="393.8" rx="7.2" ry="15.8" fill="url(#sdd113)"/><radialGradient id="sdd114"><stop offset="0" stop-opacity=".86"/><stop offset=".053" stop-opacity=".859"/><stop offset=".105" stop-opacity=".851"/><stop offset=".158" stop-opacity=".83"/><stop offset=".211" stop-opacity=".793"/><stop offset=".263" stop-opacity=".736"/><stop offset=".316" stop-opacity=".661"/><stop offset=".368" stop-opacity=".569"/><stop offset=".421" stop-opacity=".468"/><stop offset=".474" stop-opacity=".366"/><stop offset=".526" stop-opacity=".269"/><stop offset=".579" stop-opacity=".186"/><stop offset=".632" stop-opacity=".12"/><stop offset=".684" stop-opacity=".072"/><stop offset=".737" stop-opacity=".04"/><stop offset=".789" stop-opacity=".02"/><stop offset=".842" stop-opacity=".009"/><stop offset=".895" stop-opacity=".004"/><stop offset=".947" stop-opacity=".001"/><stop offset="1" stop-opacity="0"/></radialGradient><ellipse cx="424.4" cy="393.8" rx="7.2" ry="15.8" fill="url(#sdd114)"/><radialGradient id="sdd115" fx="0.4"><stop offset="0" stop-opacity=".56"/><stop offset=".053" stop-opacity=".559"/><stop offset=".105" stop-opacity=".556"/><stop offset=".158" stop-opacity=".545"/><stop offset=".211" stop-opacity=".525"/><stop offset=".263" stop-opacity=".494"/><stop offset=".316" stop-opacity=".451"/><stop offset=".368" stop-opacity=".397"/><stop offset=".421" stop-opacity=".336"/><stop offset=".474" stop-opacity=".27"/><stop offset=".526" stop-opacity=".206"/><stop offset=".579" stop-opacity=".148"/><stop offset=".632" stop-opacity=".099"/><stop offset=".684" stop-opacity=".062"/><stop offset=".737" stop-opacity=".036"/><stop offset=".789" stop-opacity=".019"/><stop offset=".842" stop-opacity=".009"/><stop offset=".895" stop-opacity=".004"/><stop offset=".947" stop-opacity=".002"/><stop offset="1" stop-opacity=".001"/></radialGradient><ellipse cx="437.8" cy="393.8" rx="7.98" ry="15.2" fill="url(#sdd115)"/>
</g></g>
<clipPath id="cpd20"><rect x="451" y="280.8" width="73.2" height="73"/></clipPath>
<filter id="fjd20" filterUnits="userSpaceOnUse" x="445" y="274.8" width="85.2" height="85" color-interpolation-filters="sRGB"><feGaussianBlur in="SourceGraphic" stdDeviation="0.5" result="s"/><feTurbulence type="fractalNoise" baseFrequency="0.5" numOctaves="1" seed="29" result="t"/><feColorMatrix in="t" type="matrix" values="1 0 0 0 0 1 0 0 0 0 1 0 0 0 0 0 0 0 0 1" result="n"/><feComposite in="s" in2="n" operator="arithmetic" k1="0.5" k2="0.75" k3="0.09" k4="-0.04"/><feComponentTransfer><feFuncR type="table" tableValues="0 0 0 0 0.5 1 1 1 0.56"/><feFuncG type="table" tableValues="0 0 0.5 1 1 1 0.5 0 0"/><feFuncB type="table" tableValues="0.56 1 1 1 0.5 0 0 0 0"/></feComponentTransfer></filter>
<g clip-path="url(#cpd20)"><g filter="url(#fjd20)">
<rect x="445" y="274.8" width="85.2" height="85" fill="#070707"/>
<filter id="rbd20" x="-20%" y="-20%" width="140%" height="140%"><feGaussianBlur stdDeviation="1.4"/></filter><g filter="url(#rbd20)" fill="none" stroke="#fff"><g stroke-width="4"><path d="M524 317.6A37 37 0 0 0 523.44 311.18" stroke-opacity=".118"/><path d="M523.44 311.18A37 37 0 0 0 521.77 304.95" stroke-opacity=".106"/><path d="M521.77 304.95A37 37 0 0 0 519.04 299.1" stroke-opacity=".085"/><path d="M519.04 299.1A37 37 0 0 0 515.34 293.82" stroke-opacity=".061"/><path d="M515.34 293.82A37 37 0 0 0 510.78 289.26" stroke-opacity=".039"/><path d="M510.78 289.26A37 37 0 0 0 505.5 285.56" stroke-opacity=".022"/><path d="M505.5 285.56A37 37 0 0 0 499.65 282.83" stroke-opacity=".012"/><path d="M499.65 282.83A37 37 0 0 0 493.42 281.16" stroke-opacity=".006"/><path d="M480.58 281.16A37 37 0 0 0 474.35 282.83" stroke-opacity=".006"/><path d="M474.35 282.83A37 37 0 0 0 468.5 285.56" stroke-opacity=".012"/><path d="M468.5 285.56A37 37 0 0 0 463.22 289.26" stroke-opacity=".022"/><path d="M463.22 289.26A37 37 0 0 0 458.66 293.82" stroke-opacity=".039"/><path d="M458.66 293.82A37 37 0 0 0 454.96 299.1" stroke-opacity=".061"/><path d="M454.96 299.1A37 37 0 0 0 452.23 304.95" stroke-opacity=".085"/><path d="M452.23 304.95A37 37 0 0 0 450.56 311.18" stroke-opacity=".106"/><path d="M450.56 311.18A37 37 0 0 0 450 317.6" stroke-opacity=".118"/><path d="M450 317.6A37 37 0 0 0 450.56 324.02" stroke-opacity=".118"/><path d="M450.56 324.02A37 37 0 0 0 452.23 330.25" stroke-opacity=".106"/><path d="M452.23 330.25A37 37 0 0 0 454.96 336.1" stroke-opacity=".085"/><path d="M454.96 336.1A37 37 0 0 0 458.66 341.38" stroke-opacity=".061"/><path d="M458.66 341.38A37 37 0 0 0 463.22 345.94" stroke-opacity=".039"/><path d="M463.22 345.94A37 37 0 0 0 468.5 349.64" stroke-opacity=".022"/><path d="M468.5 349.64A37 37 0 0 0 474.35 352.37" stroke-opacity=".012"/><path d="M474.35 352.37A37 37 0 0 0 480.58 354.04" stroke-opacity=".006"/><path d="M493.42 354.04A37 37 0 0 0 499.65 352.37" stroke-opacity=".006"/><path d="M499.65 352.37A37 37 0 0 0 505.5 349.64" stroke-opacity=".012"/><path d="M505.5 349.64A37 37 0 0 0 510.78 345.94" stroke-opacity=".022"/><path d="M510.78 345.94A37 37 0 0 0 515.34 341.38" stroke-opacity=".039"/><path d="M515.34 341.38A37 37 0 0 0 519.04 336.1" stroke-opacity=".061"/><path d="M519.04 336.1A37 37 0 0 0 521.77 330.25" stroke-opacity=".085"/><path d="M521.77 330.25A37 37 0 0 0 523.44 324.02" stroke-opacity=".106"/><path d="M523.44 324.02A37 37 0 0 0 524 317.6" stroke-opacity=".118"/></g><g stroke-width="4"><path d="M516 317.6A29 29 0 0 0 515.56 312.56" stroke-opacity=".012"/><path d="M515.56 312.56A29 29 0 0 0 514.25 307.68" stroke-opacity=".023"/><path d="M514.25 307.68A29 29 0 0 0 512.11 303.1" stroke-opacity=".042"/><path d="M512.11 303.1A29 29 0 0 0 509.22 298.96" stroke-opacity=".058"/><path d="M509.22 298.96A29 29 0 0 0 505.64 295.38" stroke-opacity=".058"/><path d="M505.64 295.38A29 29 0 0 0 501.5 292.49" stroke-opacity=".042"/><path d="M501.5 292.49A29 29 0 0 0 496.92 290.35" stroke-opacity=".023"/><path d="M496.92 290.35A29 29 0 0 0 492.04 289.04" stroke-opacity=".009"/><path d="M481.96 289.04A29 29 0 0 0 477.08 290.35" stroke-opacity=".009"/><path d="M477.08 290.35A29 29 0 0 0 472.5 292.49" stroke-opacity=".023"/><path d="M472.5 292.49A29 29 0 0 0 468.36 295.38" stroke-opacity=".042"/><path d="M468.36 295.38A29 29 0 0 0 464.78 298.96" stroke-opacity=".058"/><path d="M464.78 298.96A29 29 0 0 0 461.89 303.1" stroke-opacity=".058"/><path d="M461.89 303.1A29 29 0 0 0 459.75 307.68" stroke-opacity=".042"/><path d="M459.75 307.68A29 29 0 0 0 458.44 312.56" stroke-opacity=".023"/><path d="M458.44 312.56A29 29 0 0 0 458 317.6" stroke-opacity=".012"/><path d="M458 317.6A29 29 0 0 0 458.44 322.64" stroke-opacity=".012"/><path d="M458.44 322.64A29 29 0 0 0 459.75 327.52" stroke-opacity=".023"/><path d="M459.75 327.52A29 29 0 0 0 461.89 332.1" stroke-opacity=".042"/><path d="M461.89 332.1A29 29 0 0 0 464.78 336.24" stroke-opacity=".058"/><path d="M464.78 336.24A29 29 0 0 0 468.36 339.82" stroke-opacity=".058"/><path d="M468.36 339.82A29 29 0 0 0 472.5 342.71" stroke-opacity=".042"/><path d="M472.5 342.71A29 29 0 0 0 477.08 344.85" stroke-opacity=".023"/><path d="M477.08 344.85A29 29 0 0 0 481.96 346.16" stroke-opacity=".009"/><path d="M492.04 346.16A29 29 0 0 0 496.92 344.85" stroke-opacity=".009"/><path d="M496.92 344.85A29 29 0 0 0 501.5 342.71" stroke-opacity=".023"/><path d="M501.5 342.71A29 29 0 0 0 505.64 339.82" stroke-opacity=".042"/><path d="M505.64 339.82A29 29 0 0 0 509.22 336.24" stroke-opacity=".058"/><path d="M509.22 336.24A29 29 0 0 0 512.11 332.1" stroke-opacity=".058"/><path d="M512.11 332.1A29 29 0 0 0 514.25 327.52" stroke-opacity=".042"/><path d="M514.25 327.52A29 29 0 0 0 515.56 322.64" stroke-opacity=".023"/><path d="M515.56 322.64A29 29 0 0 0 516 317.6" stroke-opacity=".012"/></g><g stroke-width="4"><path d="M506.05 306.6A22 22 0 0 0 503.85 303.46" stroke-opacity=".004"/><path d="M503.85 303.46A22 22 0 0 0 501.14 300.75" stroke-opacity=".01"/><path d="M501.14 300.75A22 22 0 0 0 498 298.55" stroke-opacity=".019"/><path d="M498 298.55A22 22 0 0 0 494.52 296.93" stroke-opacity=".03"/><path d="M494.52 296.93A22 22 0 0 0 490.82 295.93" stroke-opacity=".042"/><path d="M490.82 295.93A22 22 0 0 0 487 295.6" stroke-opacity=".049"/><path d="M487 295.6A22 22 0 0 0 483.18 295.93" stroke-opacity=".049"/><path d="M483.18 295.93A22 22 0 0 0 479.48 296.93" stroke-opacity=".042"/><path d="M479.48 296.93A22 22 0 0 0 476 298.55" stroke-opacity=".03"/><path d="M476 298.55A22 22 0 0 0 472.86 300.75" stroke-opacity=".019"/><path d="M472.86 300.75A22 22 0 0 0 470.15 303.46" stroke-opacity=".01"/><path d="M470.15 303.46A22 22 0 0 0 467.95 306.6" stroke-opacity=".004"/><path d="M467.95 328.6A22 22 0 0 0 470.15 331.74" stroke-opacity=".004"/><path d="M470.15 331.74A22 22 0 0 0 472.86 334.45" stroke-opacity=".01"/><path d="M472.86 334.45A22 22 0 0 0 476 336.65" stroke-opacity=".019"/><path d="M476 336.65A22 22 0 0 0 479.48 338.27" stroke-opacity=".03"/><path d="M479.48 338.27A22 22 0 0 0 483.18 339.27" stroke-opacity=".042"/><path d="M483.18 339.27A22 22 0 0 0 487 339.6" stroke-opacity=".049"/><path d="M487 339.6A22 22 0 0 0 490.82 339.27" stroke-opacity=".049"/><path d="M490.82 339.27A22 22 0 0 0 494.52 338.27" stroke-opacity=".042"/><path d="M494.52 338.27A22 22 0 0 0 498 336.65" stroke-opacity=".03"/><path d="M498 336.65A22 22 0 0 0 501.14 334.45" stroke-opacity=".019"/><path d="M501.14 334.45A22 22 0 0 0 503.85 331.74" stroke-opacity=".01"/><path d="M503.85 331.74A22 22 0 0 0 506.05 328.6" stroke-opacity=".004"/></g></g><radialGradient id="sdd200"><stop offset="0" stop-opacity=".36"/><stop offset=".053" stop-opacity=".358"/><stop offset=".105" stop-opacity=".351"/><stop offset=".158" stop-opacity=".335"/><stop offset=".211" stop-opacity=".313"/><stop offset=".263" stop-opacity=".283"/><stop offset=".316" stop-opacity=".248"/><stop offset=".368" stop-opacity=".21"/><stop offset=".421" stop-opacity=".171"/><stop offset=".474" stop-opacity=".134"/><stop offset=".526" stop-opacity=".101"/><stop offset=".579" stop-opacity=".073"/><stop offset=".632" stop-opacity=".05"/><stop offset=".684" stop-opacity=".033"/><stop offset=".737" stop-opacity=".021"/><stop offset=".789" stop-opacity=".012"/><stop offset=".842" stop-opacity=".007"/><stop offset=".895" stop-opacity=".004"/><stop offset=".947" stop-opacity=".002"/><stop offset="1" stop-opacity=".001"/></radialGradient><ellipse cx="451" cy="317.6" rx="8.4" ry="14.91" fill="url(#sdd200)"/><radialGradient id="sdd201"><stop offset="0" stop-opacity=".62"/><stop offset=".053" stop-opacity=".617"/><stop offset=".105" stop-opacity=".604"/><stop offset=".158" stop-opacity=".578"/><stop offset=".211" stop-opacity=".538"/><stop offset=".263" stop-opacity=".487"/><stop offset=".316" stop-opacity=".427"/><stop offset=".368" stop-opacity=".361"/><stop offset=".421" stop-opacity=".295"/><stop offset=".474" stop-opacity=".231"/><stop offset=".526" stop-opacity=".174"/><stop offset=".579" stop-opacity=".125"/><stop offset=".632" stop-opacity=".087"/><stop offset=".684" stop-opacity=".057"/><stop offset=".737" stop-opacity=".036"/><stop offset=".789" stop-opacity=".021"/><stop offset=".842" stop-opacity=".012"/><stop offset=".895" stop-opacity=".007"/><stop offset=".947" stop-opacity=".003"/><stop offset="1" stop-opacity=".002"/></radialGradient><ellipse cx="463" cy="317.6" rx="8.4" ry="14.91" fill="url(#sdd201)"/><radialGradient id="sdd202"><stop offset="0" stop-opacity=".86"/><stop offset=".053" stop-opacity=".856"/><stop offset=".105" stop-opacity=".837"/><stop offset=".158" stop-opacity=".801"/><stop offset=".211" stop-opacity=".747"/><stop offset=".263" stop-opacity=".676"/><stop offset=".316" stop-opacity=".592"/><stop offset=".368" stop-opacity=".501"/><stop offset=".421" stop-opacity=".409"/><stop offset=".474" stop-opacity=".32"/><stop offset=".526" stop-opacity=".241"/><stop offset=".579" stop-opacity=".174"/><stop offset=".632" stop-opacity=".12"/><stop offset=".684" stop-opacity=".079"/><stop offset=".737" stop-opacity=".05"/><stop offset=".789" stop-opacity=".03"/><stop offset=".842" stop-opacity=".017"/><stop offset=".895" stop-opacity=".009"/><stop offset=".947" stop-opacity=".005"/><stop offset="1" stop-opacity=".002"/></radialGradient><ellipse cx="475" cy="317.6" rx="8.4" ry="14.91" fill="url(#sdd202)"/><radialGradient id="sdd203"><stop offset="0" stop-opacity="1"/><stop offset=".053" stop-opacity=".995"/><stop offset=".105" stop-opacity=".974"/><stop offset=".158" stop-opacity=".932"/><stop offset=".211" stop-opacity=".868"/><stop offset=".263" stop-opacity=".786"/><stop offset=".316" stop-opacity=".689"/><stop offset=".368" stop-opacity=".583"/><stop offset=".421" stop-opacity=".475"/><stop offset=".474" stop-opacity=".373"/><stop offset=".526" stop-opacity=".28"/><stop offset=".579" stop-opacity=".202"/><stop offset=".632" stop-opacity=".14"/><stop offset=".684" stop-opacity=".092"/><stop offset=".737" stop-opacity=".058"/><stop offset=".789" stop-opacity=".035"/><stop offset=".842" stop-opacity=".02"/><stop offset=".895" stop-opacity=".011"/><stop offset=".947" stop-opacity=".005"/><stop offset="1" stop-opacity=".003"/></radialGradient><ellipse cx="487" cy="317.6" rx="8.4" ry="14.91" fill="url(#sdd203)"/><radialGradient id="sdd204"><stop offset="0" stop-opacity=".86"/><stop offset=".053" stop-opacity=".856"/><stop offset=".105" stop-opacity=".837"/><stop offset=".158" stop-opacity=".801"/><stop offset=".211" stop-opacity=".747"/><stop offset=".263" stop-opacity=".676"/><stop offset=".316" stop-opacity=".592"/><stop offset=".368" stop-opacity=".501"/><stop offset=".421" stop-opacity=".409"/><stop offset=".474" stop-opacity=".32"/><stop offset=".526" stop-opacity=".241"/><stop offset=".579" stop-opacity=".174"/><stop offset=".632" stop-opacity=".12"/><stop offset=".684" stop-opacity=".079"/><stop offset=".737" stop-opacity=".05"/><stop offset=".789" stop-opacity=".03"/><stop offset=".842" stop-opacity=".017"/><stop offset=".895" stop-opacity=".009"/><stop offset=".947" stop-opacity=".005"/><stop offset="1" stop-opacity=".002"/></radialGradient><ellipse cx="499" cy="317.6" rx="8.4" ry="14.91" fill="url(#sdd204)"/><radialGradient id="sdd205"><stop offset="0" stop-opacity=".62"/><stop offset=".053" stop-opacity=".617"/><stop offset=".105" stop-opacity=".604"/><stop offset=".158" stop-opacity=".578"/><stop offset=".211" stop-opacity=".538"/><stop offset=".263" stop-opacity=".487"/><stop offset=".316" stop-opacity=".427"/><stop offset=".368" stop-opacity=".361"/><stop offset=".421" stop-opacity=".295"/><stop offset=".474" stop-opacity=".231"/><stop offset=".526" stop-opacity=".174"/><stop offset=".579" stop-opacity=".125"/><stop offset=".632" stop-opacity=".087"/><stop offset=".684" stop-opacity=".057"/><stop offset=".737" stop-opacity=".036"/><stop offset=".789" stop-opacity=".021"/><stop offset=".842" stop-opacity=".012"/><stop offset=".895" stop-opacity=".007"/><stop offset=".947" stop-opacity=".003"/><stop offset="1" stop-opacity=".002"/></radialGradient><ellipse cx="511" cy="317.6" rx="8.4" ry="14.91" fill="url(#sdd205)"/><radialGradient id="sdd206"><stop offset="0" stop-opacity=".36"/><stop offset=".053" stop-opacity=".358"/><stop offset=".105" stop-opacity=".351"/><stop offset=".158" stop-opacity=".335"/><stop offset=".211" stop-opacity=".313"/><stop offset=".263" stop-opacity=".283"/><stop offset=".316" stop-opacity=".248"/><stop offset=".368" stop-opacity=".21"/><stop offset=".421" stop-opacity=".171"/><stop offset=".474" stop-opacity=".134"/><stop offset=".526" stop-opacity=".101"/><stop offset=".579" stop-opacity=".073"/><stop offset=".632" stop-opacity=".05"/><stop offset=".684" stop-opacity=".033"/><stop offset=".737" stop-opacity=".021"/><stop offset=".789" stop-opacity=".012"/><stop offset=".842" stop-opacity=".007"/><stop offset=".895" stop-opacity=".004"/><stop offset=".947" stop-opacity=".002"/><stop offset="1" stop-opacity=".001"/></radialGradient><ellipse cx="523" cy="317.6" rx="8.4" ry="14.91" fill="url(#sdd206)"/>
</g></g>
<clipPath id="cpd21"><rect x="451" y="357" width="73.2" height="73"/></clipPath>
<filter id="fjd21" filterUnits="userSpaceOnUse" x="445" y="351" width="85.2" height="85" color-interpolation-filters="sRGB"><feGaussianBlur in="SourceGraphic" stdDeviation="0.5" result="s"/><feComponentTransfer><feFuncR type="table" tableValues="0 0 0 0 0.5 1 1 1 0.56"/><feFuncG type="table" tableValues="0 0 0.5 1 1 1 0.5 0 0"/><feFuncB type="table" tableValues="0.56 1 1 1 0.5 0 0 0 0"/></feComponentTransfer></filter>
<g clip-path="url(#cpd21)"><g filter="url(#fjd21)">
<rect x="445" y="351" width="85.2" height="85" fill="#090909"/>
<filter id="rbd21" x="-20%" y="-20%" width="140%" height="140%"><feGaussianBlur stdDeviation="1.4"/></filter><g filter="url(#rbd21)" fill="none" stroke="#fff"><g stroke-width="5"><path d="M524.3 393.8A36.5 36.5 0 0 0 524.1 389.98" stroke-opacity=".337"/><path d="M524.1 389.98A36.5 36.5 0 0 0 523.5 386.21" stroke-opacity=".317"/><path d="M523.5 386.21A36.5 36.5 0 0 0 522.51 382.52" stroke-opacity=".28"/><path d="M522.51 382.52A36.5 36.5 0 0 0 521.14 378.95" stroke-opacity=".232"/><path d="M521.14 378.95A36.5 36.5 0 0 0 519.41 375.55" stroke-opacity=".181"/><path d="M519.41 375.55A36.5 36.5 0 0 0 517.33 372.35" stroke-opacity=".132"/><path d="M517.33 372.35A36.5 36.5 0 0 0 514.92 369.38" stroke-opacity=".091"/><path d="M514.92 369.38A36.5 36.5 0 0 0 512.22 366.68" stroke-opacity=".059"/><path d="M512.22 366.68A36.5 36.5 0 0 0 509.25 364.27" stroke-opacity=".036"/><path d="M509.25 364.27A36.5 36.5 0 0 0 506.05 362.19" stroke-opacity=".02"/><path d="M506.05 362.19A36.5 36.5 0 0 0 502.65 360.46" stroke-opacity=".011"/><path d="M502.65 360.46A36.5 36.5 0 0 0 499.08 359.09" stroke-opacity=".005"/><path d="M476.52 359.09A36.5 36.5 0 0 0 472.95 360.46" stroke-opacity=".005"/><path d="M472.95 360.46A36.5 36.5 0 0 0 469.55 362.19" stroke-opacity=".011"/><path d="M469.55 362.19A36.5 36.5 0 0 0 466.35 364.27" stroke-opacity=".02"/><path d="M466.35 364.27A36.5 36.5 0 0 0 463.38 366.68" stroke-opacity=".036"/><path d="M463.38 366.68A36.5 36.5 0 0 0 460.68 369.38" stroke-opacity=".059"/><path d="M460.68 369.38A36.5 36.5 0 0 0 458.27 372.35" stroke-opacity=".091"/><path d="M458.27 372.35A36.5 36.5 0 0 0 456.19 375.55" stroke-opacity=".132"/><path d="M456.19 375.55A36.5 36.5 0 0 0 454.46 378.95" stroke-opacity=".181"/><path d="M454.46 378.95A36.5 36.5 0 0 0 453.09 382.52" stroke-opacity=".232"/><path d="M453.09 382.52A36.5 36.5 0 0 0 452.1 386.21" stroke-opacity=".28"/><path d="M452.1 386.21A36.5 36.5 0 0 0 451.5 389.98" stroke-opacity=".317"/><path d="M451.5 389.98A36.5 36.5 0 0 0 451.3 393.8" stroke-opacity=".337"/><path d="M451.3 393.8A36.5 36.5 0 0 0 451.5 397.62" stroke-opacity=".337"/><path d="M451.5 397.62A36.5 36.5 0 0 0 452.1 401.39" stroke-opacity=".317"/><path d="M452.1 401.39A36.5 36.5 0 0 0 453.09 405.08" stroke-opacity=".28"/><path d="M453.09 405.08A36.5 36.5 0 0 0 454.46 408.65" stroke-opacity=".232"/><path d="M454.46 408.65A36.5 36.5 0 0 0 456.19 412.05" stroke-opacity=".181"/><path d="M456.19 412.05A36.5 36.5 0 0 0 458.27 415.25" stroke-opacity=".132"/><path d="M458.27 415.25A36.5 36.5 0 0 0 460.68 418.22" stroke-opacity=".091"/><path d="M460.68 418.22A36.5 36.5 0 0 0 463.38 420.92" stroke-opacity=".059"/><path d="M463.38 420.92A36.5 36.5 0 0 0 466.35 423.33" stroke-opacity=".036"/><path d="M466.35 423.33A36.5 36.5 0 0 0 469.55 425.41" stroke-opacity=".02"/><path d="M469.55 425.41A36.5 36.5 0 0 0 472.95 427.14" stroke-opacity=".011"/><path d="M472.95 427.14A36.5 36.5 0 0 0 476.52 428.51" stroke-opacity=".005"/><path d="M499.08 428.51A36.5 36.5 0 0 0 502.65 427.14" stroke-opacity=".005"/><path d="M502.65 427.14A36.5 36.5 0 0 0 506.05 425.41" stroke-opacity=".011"/><path d="M506.05 425.41A36.5 36.5 0 0 0 509.25 423.33" stroke-opacity=".02"/><path d="M509.25 423.33A36.5 36.5 0 0 0 512.22 420.92" stroke-opacity=".036"/><path d="M512.22 420.92A36.5 36.5 0 0 0 514.92 418.22" stroke-opacity=".059"/><path d="M514.92 418.22A36.5 36.5 0 0 0 517.33 415.25" stroke-opacity=".091"/><path d="M517.33 415.25A36.5 36.5 0 0 0 519.41 412.05" stroke-opacity=".132"/><path d="M519.41 412.05A36.5 36.5 0 0 0 521.14 408.65" stroke-opacity=".181"/><path d="M521.14 408.65A36.5 36.5 0 0 0 522.51 405.08" stroke-opacity=".232"/><path d="M522.51 405.08A36.5 36.5 0 0 0 523.5 401.39" stroke-opacity=".28"/><path d="M523.5 401.39A36.5 36.5 0 0 0 524.1 397.62" stroke-opacity=".317"/><path d="M524.1 397.62A36.5 36.5 0 0 0 524.3 393.8" stroke-opacity=".337"/></g><g stroke-width="4"><path d="M511.3 393.8A23.5 23.5 0 0 0 510.94 389.72" stroke-opacity=".02"/><path d="M510.94 389.72A23.5 23.5 0 0 0 509.88 385.76" stroke-opacity=".021"/><path d="M509.88 385.76A23.5 23.5 0 0 0 508.15 382.05" stroke-opacity=".023"/><path d="M508.15 382.05A23.5 23.5 0 0 0 505.8 378.69" stroke-opacity=".027"/><path d="M505.8 378.69A23.5 23.5 0 0 0 502.91 375.8" stroke-opacity=".036"/><path d="M502.91 375.8A23.5 23.5 0 0 0 499.55 373.45" stroke-opacity=".05"/><path d="M499.55 373.45A23.5 23.5 0 0 0 495.84 371.72" stroke-opacity=".069"/><path d="M495.84 371.72A23.5 23.5 0 0 0 491.88 370.66" stroke-opacity=".087"/><path d="M491.88 370.66A23.5 23.5 0 0 0 487.8 370.3" stroke-opacity=".098"/><path d="M487.8 370.3A23.5 23.5 0 0 0 483.72 370.66" stroke-opacity=".098"/><path d="M483.72 370.66A23.5 23.5 0 0 0 479.76 371.72" stroke-opacity=".087"/><path d="M479.76 371.72A23.5 23.5 0 0 0 476.05 373.45" stroke-opacity=".069"/><path d="M476.05 373.45A23.5 23.5 0 0 0 472.69 375.8" stroke-opacity=".05"/><path d="M472.69 375.8A23.5 23.5 0 0 0 469.8 378.69" stroke-opacity=".036"/><path d="M469.8 378.69A23.5 23.5 0 0 0 467.45 382.05" stroke-opacity=".027"/><path d="M467.45 382.05A23.5 23.5 0 0 0 465.72 385.76" stroke-opacity=".023"/><path d="M465.72 385.76A23.5 23.5 0 0 0 464.66 389.72" stroke-opacity=".021"/><path d="M464.66 389.72A23.5 23.5 0 0 0 464.3 393.8" stroke-opacity=".02"/><path d="M464.3 393.8A23.5 23.5 0 0 0 464.66 397.88" stroke-opacity=".02"/><path d="M464.66 397.88A23.5 23.5 0 0 0 465.72 401.84" stroke-opacity=".021"/><path d="M465.72 401.84A23.5 23.5 0 0 0 467.45 405.55" stroke-opacity=".023"/><path d="M467.45 405.55A23.5 23.5 0 0 0 469.8 408.91" stroke-opacity=".027"/><path d="M469.8 408.91A23.5 23.5 0 0 0 472.69 411.8" stroke-opacity=".036"/><path d="M472.69 411.8A23.5 23.5 0 0 0 476.05 414.15" stroke-opacity=".05"/><path d="M476.05 414.15A23.5 23.5 0 0 0 479.76 415.88" stroke-opacity=".069"/><path d="M479.76 415.88A23.5 23.5 0 0 0 483.72 416.94" stroke-opacity=".087"/><path d="M483.72 416.94A23.5 23.5 0 0 0 487.8 417.3" stroke-opacity=".098"/><path d="M487.8 417.3A23.5 23.5 0 0 0 491.88 416.94" stroke-opacity=".098"/><path d="M491.88 416.94A23.5 23.5 0 0 0 495.84 415.88" stroke-opacity=".087"/><path d="M495.84 415.88A23.5 23.5 0 0 0 499.55 414.15" stroke-opacity=".069"/><path d="M499.55 414.15A23.5 23.5 0 0 0 502.91 411.8" stroke-opacity=".05"/><path d="M502.91 411.8A23.5 23.5 0 0 0 505.8 408.91" stroke-opacity=".036"/><path d="M505.8 408.91A23.5 23.5 0 0 0 508.15 405.55" stroke-opacity=".027"/><path d="M508.15 405.55A23.5 23.5 0 0 0 509.88 401.84" stroke-opacity=".023"/><path d="M509.88 401.84A23.5 23.5 0 0 0 510.94 397.88" stroke-opacity=".021"/><path d="M510.94 397.88A23.5 23.5 0 0 0 511.3 393.8" stroke-opacity=".02"/></g><g stroke-width="3.5"><path d="M517.51 389.62A30 30 0 0 0 516.64 385.53" stroke-opacity=".006"/><path d="M516.64 385.53A30 30 0 0 0 515.21 381.6" stroke-opacity=".018"/><path d="M515.21 381.6A30 30 0 0 0 513.24 377.9" stroke-opacity=".043"/><path d="M513.24 377.9A30 30 0 0 0 510.78 374.52" stroke-opacity=".073"/><path d="M510.78 374.52A30 30 0 0 0 507.87 371.51" stroke-opacity=".09"/><path d="M507.87 371.51A30 30 0 0 0 504.58 368.93" stroke-opacity=".079"/><path d="M504.58 368.93A30 30 0 0 0 500.95 366.84" stroke-opacity=".051"/><path d="M500.95 366.84A30 30 0 0 0 497.07 365.27" stroke-opacity=".023"/><path d="M497.07 365.27A30 30 0 0 0 493.01 364.26" stroke-opacity=".008"/><path d="M480.54 364.69A30 30 0 0 0 476.56 365.98" stroke-opacity=".014"/><path d="M476.56 365.98A30 30 0 0 0 472.8 367.82" stroke-opacity=".036"/><path d="M472.8 367.82A30 30 0 0 0 469.33 370.16" stroke-opacity=".066"/><path d="M469.33 370.16A30 30 0 0 0 466.22 372.96" stroke-opacity=".088"/><path d="M466.22 372.96A30 30 0 0 0 463.53 376.17" stroke-opacity=".084"/><path d="M463.53 376.17A30 30 0 0 0 461.31 379.72" stroke-opacity=".058"/><path d="M461.31 379.72A30 30 0 0 0 459.61 383.54" stroke-opacity=".029"/><path d="M459.61 383.54A30 30 0 0 0 458.46 387.56" stroke-opacity=".011"/><path d="M458.46 400.04A30 30 0 0 0 459.61 404.06" stroke-opacity=".011"/><path d="M459.61 404.06A30 30 0 0 0 461.31 407.88" stroke-opacity=".029"/><path d="M461.31 407.88A30 30 0 0 0 463.53 411.43" stroke-opacity=".058"/><path d="M463.53 411.43A30 30 0 0 0 466.22 414.64" stroke-opacity=".084"/><path d="M466.22 414.64A30 30 0 0 0 469.33 417.44" stroke-opacity=".088"/><path d="M469.33 417.44A30 30 0 0 0 472.8 419.78" stroke-opacity=".066"/><path d="M472.8 419.78A30 30 0 0 0 476.56 421.62" stroke-opacity=".036"/><path d="M476.56 421.62A30 30 0 0 0 480.54 422.91" stroke-opacity=".014"/><path d="M493.01 423.34A30 30 0 0 0 497.07 422.33" stroke-opacity=".008"/><path d="M497.07 422.33A30 30 0 0 0 500.95 420.76" stroke-opacity=".023"/><path d="M500.95 420.76A30 30 0 0 0 504.58 418.67" stroke-opacity=".051"/><path d="M504.58 418.67A30 30 0 0 0 507.87 416.09" stroke-opacity=".079"/><path d="M507.87 416.09A30 30 0 0 0 510.78 413.08" stroke-opacity=".09"/><path d="M510.78 413.08A30 30 0 0 0 513.24 409.7" stroke-opacity=".073"/><path d="M513.24 409.7A30 30 0 0 0 515.21 406" stroke-opacity=".043"/><path d="M515.21 406A30 30 0 0 0 516.64 402.07" stroke-opacity=".018"/><path d="M516.64 402.07A30 30 0 0 0 517.51 397.98" stroke-opacity=".006"/></g><g stroke-width="3.5"><path d="M525.26 377.12A41 41 0 0 0 522.57 372.07" stroke-opacity=".012"/><path d="M522.57 372.07A41 41 0 0 0 519.21 367.45" stroke-opacity=".032"/><path d="M519.21 367.45A41 41 0 0 0 515.23 363.33" stroke-opacity=".059"/><path d="M515.23 363.33A41 41 0 0 0 510.73 359.81" stroke-opacity=".078"/><path d="M510.73 359.81A41 41 0 0 0 505.77 356.95" stroke-opacity=".075"/><path d="M505.77 356.95A41 41 0 0 0 500.47 354.81" stroke-opacity=".052"/><path d="M500.47 354.81A41 41 0 0 0 494.92 353.42" stroke-opacity=".026"/><path d="M494.92 353.42A41 41 0 0 0 489.23 352.82" stroke-opacity=".01"/><path d="M489.23 352.82A41 41 0 0 0 483.51 353.02" stroke-opacity=".007"/><path d="M483.51 353.02A41 41 0 0 0 477.88 354.02" stroke-opacity=".017"/><path d="M477.88 354.02A41 41 0 0 0 472.44 355.79" stroke-opacity=".038"/><path d="M472.44 355.79A41 41 0 0 0 467.3 358.29" stroke-opacity=".065"/><path d="M467.3 358.29A41 41 0 0 0 462.56 361.49" stroke-opacity=".08"/><path d="M462.56 361.49A41 41 0 0 0 458.31 365.32" stroke-opacity=".071"/><path d="M458.31 365.32A41 41 0 0 0 454.63 369.7" stroke-opacity=".045"/><path d="M454.63 369.7A41 41 0 0 0 451.6 374.55" stroke-opacity=".021"/><path d="M451.6 374.55A41 41 0 0 0 449.27 379.78" stroke-opacity=".007"/><path d="M449.27 407.82A41 41 0 0 0 451.6 413.05" stroke-opacity=".007"/><path d="M451.6 413.05A41 41 0 0 0 454.63 417.9" stroke-opacity=".021"/><path d="M454.63 417.9A41 41 0 0 0 458.31 422.28" stroke-opacity=".045"/><path d="M458.31 422.28A41 41 0 0 0 462.56 426.11" stroke-opacity=".071"/><path d="M462.56 426.11A41 41 0 0 0 467.3 429.31" stroke-opacity=".08"/><path d="M467.3 429.31A41 41 0 0 0 472.44 431.81" stroke-opacity=".065"/><path d="M472.44 431.81A41 41 0 0 0 477.88 433.58" stroke-opacity=".038"/><path d="M477.88 433.58A41 41 0 0 0 483.51 434.58" stroke-opacity=".017"/><path d="M483.51 434.58A41 41 0 0 0 489.23 434.78" stroke-opacity=".007"/><path d="M489.23 434.78A41 41 0 0 0 494.92 434.18" stroke-opacity=".01"/><path d="M494.92 434.18A41 41 0 0 0 500.47 432.79" stroke-opacity=".026"/><path d="M500.47 432.79A41 41 0 0 0 505.77 430.65" stroke-opacity=".052"/><path d="M505.77 430.65A41 41 0 0 0 510.73 427.79" stroke-opacity=".075"/><path d="M510.73 427.79A41 41 0 0 0 515.23 424.27" stroke-opacity=".078"/><path d="M515.23 424.27A41 41 0 0 0 519.21 420.15" stroke-opacity=".059"/><path d="M519.21 420.15A41 41 0 0 0 522.57 415.53" stroke-opacity=".032"/><path d="M522.57 415.53A41 41 0 0 0 525.26 410.48" stroke-opacity=".012"/></g></g><radialGradient id="sdd211" fx="0.6"><stop offset="0" stop-opacity=".56"/><stop offset=".053" stop-opacity=".559"/><stop offset=".105" stop-opacity=".556"/><stop offset=".158" stop-opacity=".545"/><stop offset=".211" stop-opacity=".525"/><stop offset=".263" stop-opacity=".494"/><stop offset=".316" stop-opacity=".451"/><stop offset=".368" stop-opacity=".397"/><stop offset=".421" stop-opacity=".336"/><stop offset=".474" stop-opacity=".27"/><stop offset=".526" stop-opacity=".206"/><stop offset=".579" stop-opacity=".148"/><stop offset=".632" stop-opacity=".099"/><stop offset=".684" stop-opacity=".062"/><stop offset=".737" stop-opacity=".036"/><stop offset=".789" stop-opacity=".019"/><stop offset=".842" stop-opacity=".009"/><stop offset=".895" stop-opacity=".004"/><stop offset=".947" stop-opacity=".002"/><stop offset="1" stop-opacity=".001"/></radialGradient><ellipse cx="461.8" cy="393.8" rx="7.98" ry="15.2" fill="url(#sdd211)"/><radialGradient id="sdd212"><stop offset="0" stop-opacity=".86"/><stop offset=".053" stop-opacity=".859"/><stop offset=".105" stop-opacity=".851"/><stop offset=".158" stop-opacity=".83"/><stop offset=".211" stop-opacity=".793"/><stop offset=".263" stop-opacity=".736"/><stop offset=".316" stop-opacity=".661"/><stop offset=".368" stop-opacity=".569"/><stop offset=".421" stop-opacity=".468"/><stop offset=".474" stop-opacity=".366"/><stop offset=".526" stop-opacity=".269"/><stop offset=".579" stop-opacity=".186"/><stop offset=".632" stop-opacity=".12"/><stop offset=".684" stop-opacity=".072"/><stop offset=".737" stop-opacity=".04"/><stop offset=".789" stop-opacity=".02"/><stop offset=".842" stop-opacity=".009"/><stop offset=".895" stop-opacity=".004"/><stop offset=".947" stop-opacity=".001"/><stop offset="1" stop-opacity="0"/></radialGradient><ellipse cx="475.2" cy="393.8" rx="7.2" ry="15.8" fill="url(#sdd212)"/><radialGradient id="sdd213"><stop offset="0" stop-opacity="1"/><stop offset=".053" stop-opacity=".999"/><stop offset=".105" stop-opacity=".989"/><stop offset=".158" stop-opacity=".965"/><stop offset=".211" stop-opacity=".922"/><stop offset=".263" stop-opacity=".856"/><stop offset=".316" stop-opacity=".768"/><stop offset=".368" stop-opacity=".662"/><stop offset=".421" stop-opacity=".545"/><stop offset=".474" stop-opacity=".425"/><stop offset=".526" stop-opacity=".313"/><stop offset=".579" stop-opacity=".217"/><stop offset=".632" stop-opacity=".14"/><stop offset=".684" stop-opacity=".083"/><stop offset=".737" stop-opacity=".046"/><stop offset=".789" stop-opacity=".023"/><stop offset=".842" stop-opacity=".011"/><stop offset=".895" stop-opacity=".004"/><stop offset=".947" stop-opacity=".002"/><stop offset="1" stop-opacity=".001"/></radialGradient><ellipse cx="487.8" cy="393.8" rx="7.2" ry="15.8" fill="url(#sdd213)"/><radialGradient id="sdd214"><stop offset="0" stop-opacity=".86"/><stop offset=".053" stop-opacity=".859"/><stop offset=".105" stop-opacity=".851"/><stop offset=".158" stop-opacity=".83"/><stop offset=".211" stop-opacity=".793"/><stop offset=".263" stop-opacity=".736"/><stop offset=".316" stop-opacity=".661"/><stop offset=".368" stop-opacity=".569"/><stop offset=".421" stop-opacity=".468"/><stop offset=".474" stop-opacity=".366"/><stop offset=".526" stop-opacity=".269"/><stop offset=".579" stop-opacity=".186"/><stop offset=".632" stop-opacity=".12"/><stop offset=".684" stop-opacity=".072"/><stop offset=".737" stop-opacity=".04"/><stop offset=".789" stop-opacity=".02"/><stop offset=".842" stop-opacity=".009"/><stop offset=".895" stop-opacity=".004"/><stop offset=".947" stop-opacity=".001"/><stop offset="1" stop-opacity="0"/></radialGradient><ellipse cx="500.4" cy="393.8" rx="7.2" ry="15.8" fill="url(#sdd214)"/><radialGradient id="sdd215" fx="0.4"><stop offset="0" stop-opacity=".56"/><stop offset=".053" stop-opacity=".559"/><stop offset=".105" stop-opacity=".556"/><stop offset=".158" stop-opacity=".545"/><stop offset=".211" stop-opacity=".525"/><stop offset=".263" stop-opacity=".494"/><stop offset=".316" stop-opacity=".451"/><stop offset=".368" stop-opacity=".397"/><stop offset=".421" stop-opacity=".336"/><stop offset=".474" stop-opacity=".27"/><stop offset=".526" stop-opacity=".206"/><stop offset=".579" stop-opacity=".148"/><stop offset=".632" stop-opacity=".099"/><stop offset=".684" stop-opacity=".062"/><stop offset=".737" stop-opacity=".036"/><stop offset=".789" stop-opacity=".019"/><stop offset=".842" stop-opacity=".009"/><stop offset=".895" stop-opacity=".004"/><stop offset=".947" stop-opacity=".002"/><stop offset="1" stop-opacity=".001"/></radialGradient><ellipse cx="513.8" cy="393.8" rx="7.98" ry="15.2" fill="url(#sdd215)"/>
</g></g>
<linearGradient id="cb1" x1="0" y1="0" x2="0" y2="1"><stop offset="0" style="stop-color:#ffffff"/><stop offset="0.03" style="stop-color:#f8f8f8"/><stop offset="0.06" style="stop-color:#f0f0f0"/><stop offset="0.09" style="stop-color:#e9e9e9"/><stop offset="0.12" style="stop-color:#e1e1e1"/><stop offset="0.16" style="stop-color:#dadada"/><stop offset="0.19" style="stop-color:#d3d3d3"/><stop offset="0.22" style="stop-color:#cbcbcb"/><stop offset="0.25" style="stop-color:#c4c4c4"/><stop offset="0.28" style="stop-color:#bcbcbc"/><stop offset="0.31" style="stop-color:#b5b5b5"/><stop offset="0.34" style="stop-color:#adadad"/><stop offset="0.38" style="stop-color:#a6a6a6"/><stop offset="0.41" style="stop-color:#9f9f9f"/><stop offset="0.44" style="stop-color:#979797"/><stop offset="0.47" style="stop-color:#909090"/><stop offset="0.5" style="stop-color:#888888"/><stop offset="0.53" style="stop-color:#818181"/><stop offset="0.56" style="stop-color:#7a7a7a"/><stop offset="0.59" style="stop-color:#727272"/><stop offset="0.62" style="stop-color:#6b6b6b"/><stop offset="0.66" style="stop-color:#636363"/><stop offset="0.69" style="stop-color:#5c5c5c"/><stop offset="0.72" style="stop-color:#555555"/><stop offset="0.75" style="stop-color:#4d4d4d"/><stop offset="0.78" style="stop-color:#464646"/><stop offset="0.81" style="stop-color:#3e3e3e"/><stop offset="0.84" style="stop-color:#373737"/><stop offset="0.88" style="stop-color:#2f2f2f"/><stop offset="0.91" style="stop-color:#282828"/><stop offset="0.94" style="stop-color:#212121"/><stop offset="0.97" style="stop-color:#191919"/><stop offset="1" style="stop-color:#121212"/></linearGradient>
<filter id="fcb1" color-interpolation-filters="sRGB"><feComponentTransfer><feFuncR type="table" tableValues="0 0 0 0 0.5 1 1 1 0.56"/><feFuncG type="table" tableValues="0 0 0.5 1 1 1 0.5 0 0"/><feFuncB type="table" tableValues="0.56 1 1 1 0.5 0 0 0 0"/></feComponentTransfer></filter>
<rect x="529.4" y="52.3" width="4.8" height="72.3" fill="url(#cb1)" filter="url(#fcb1)"/>
<text x="536.3" y="117.4" class="cb" style="font-size:8.8px">0.2</text>
<text x="536.3" y="101.85" class="cb" style="font-size:8.8px">0.4</text>
<text x="536.3" y="86.3" class="cb" style="font-size:8.8px">0.6</text>
<text x="536.3" y="70.75" class="cb" style="font-size:8.8px">0.8</text>
<text x="536.3" y="55.2" class="cb" style="font-size:8.8px">1</text>
<linearGradient id="cb2" x1="0" y1="0" x2="0" y2="1"><stop offset="0" style="stop-color:#ffffff"/><stop offset="0.03" style="stop-color:#f8f8f8"/><stop offset="0.06" style="stop-color:#f0f0f0"/><stop offset="0.09" style="stop-color:#e9e9e9"/><stop offset="0.12" style="stop-color:#e1e1e1"/><stop offset="0.16" style="stop-color:#dadada"/><stop offset="0.19" style="stop-color:#d3d3d3"/><stop offset="0.22" style="stop-color:#cbcbcb"/><stop offset="0.25" style="stop-color:#c4c4c4"/><stop offset="0.28" style="stop-color:#bcbcbc"/><stop offset="0.31" style="stop-color:#b5b5b5"/><stop offset="0.34" style="stop-color:#adadad"/><stop offset="0.38" style="stop-color:#a6a6a6"/><stop offset="0.41" style="stop-color:#9f9f9f"/><stop offset="0.44" style="stop-color:#979797"/><stop offset="0.47" style="stop-color:#909090"/><stop offset="0.5" style="stop-color:#888888"/><stop offset="0.53" style="stop-color:#818181"/><stop offset="0.56" style="stop-color:#7a7a7a"/><stop offset="0.59" style="stop-color:#727272"/><stop offset="0.62" style="stop-color:#6b6b6b"/><stop offset="0.66" style="stop-color:#636363"/><stop offset="0.69" style="stop-color:#5c5c5c"/><stop offset="0.72" style="stop-color:#555555"/><stop offset="0.75" style="stop-color:#4d4d4d"/><stop offset="0.78" style="stop-color:#464646"/><stop offset="0.81" style="stop-color:#3e3e3e"/><stop offset="0.84" style="stop-color:#373737"/><stop offset="0.88" style="stop-color:#2f2f2f"/><stop offset="0.91" style="stop-color:#282828"/><stop offset="0.94" style="stop-color:#212121"/><stop offset="0.97" style="stop-color:#191919"/><stop offset="1" style="stop-color:#121212"/></linearGradient>
<filter id="fcb2" color-interpolation-filters="sRGB"><feComponentTransfer><feFuncR type="table" tableValues="0 0 0 0 0.5 1 1 1 0.56"/><feFuncG type="table" tableValues="0 0 0.5 1 1 1 0.5 0 0"/><feFuncB type="table" tableValues="0.56 1 1 1 0.5 0 0 0 0"/></feComponentTransfer></filter>
<rect x="529.4" y="128.8" width="4.8" height="72.3" fill="url(#cb2)" filter="url(#fcb2)"/>
<text x="536.3" y="193.9" class="cb" style="font-size:8.8px">0.2</text>
<text x="536.3" y="178.35" class="cb" style="font-size:8.8px">0.4</text>
<text x="536.3" y="162.8" class="cb" style="font-size:8.8px">0.6</text>
<text x="536.3" y="147.25" class="cb" style="font-size:8.8px">0.8</text>
<text x="536.3" y="131.7" class="cb" style="font-size:8.8px">1</text>
<linearGradient id="cb3" x1="0" y1="0" x2="0" y2="1"><stop offset="0" style="stop-color:#ffffff"/><stop offset="0.03" style="stop-color:#f7f7f7"/><stop offset="0.06" style="stop-color:#efefef"/><stop offset="0.09" style="stop-color:#e8e8e8"/><stop offset="0.12" style="stop-color:#e0e0e0"/><stop offset="0.16" style="stop-color:#d8d8d8"/><stop offset="0.19" style="stop-color:#d0d0d0"/><stop offset="0.22" style="stop-color:#c9c9c9"/><stop offset="0.25" style="stop-color:#c1c1c1"/><stop offset="0.28" style="stop-color:#b9b9b9"/><stop offset="0.31" style="stop-color:#b1b1b1"/><stop offset="0.34" style="stop-color:#aaaaaa"/><stop offset="0.38" style="stop-color:#a2a2a2"/><stop offset="0.41" style="stop-color:#9a9a9a"/><stop offset="0.44" style="stop-color:#929292"/><stop offset="0.47" style="stop-color:#8a8a8a"/><stop offset="0.5" style="stop-color:#838383"/><stop offset="0.53" style="stop-color:#7b7b7b"/><stop offset="0.56" style="stop-color:#737373"/><stop offset="0.59" style="stop-color:#6b6b6b"/><stop offset="0.62" style="stop-color:#646464"/><stop offset="0.66" style="stop-color:#5c5c5c"/><stop offset="0.69" style="stop-color:#545454"/><stop offset="0.72" style="stop-color:#4c4c4c"/><stop offset="0.75" style="stop-color:#454545"/><stop offset="0.78" style="stop-color:#3d3d3d"/><stop offset="0.81" style="stop-color:#353535"/><stop offset="0.84" style="stop-color:#2d2d2d"/><stop offset="0.88" style="stop-color:#252525"/><stop offset="0.91" style="stop-color:#1e1e1e"/><stop offset="0.94" style="stop-color:#161616"/><stop offset="0.97" style="stop-color:#0e0e0e"/><stop offset="1" style="stop-color:#060606"/></linearGradient>
<filter id="fcb3" color-interpolation-filters="sRGB"><feComponentTransfer><feFuncR type="table" tableValues="0 0 0 0 0.5 1 1 1 0.56"/><feFuncG type="table" tableValues="0 0 0.5 1 1 1 0.5 0 0"/><feFuncB type="table" tableValues="0.56 1 1 1 0.5 0 0 0 0"/></feComponentTransfer></filter>
<rect x="257" y="280.7" width="4.3" height="71.1" fill="url(#cb3)" filter="url(#fcb3)"/>
<text x="263.3" y="341.68" class="cb" style="font-size:8px">0.2</text>
<text x="263.3" y="327.09" class="cb" style="font-size:8px">0.4</text>
<text x="263.3" y="312.51" class="cb" style="font-size:8px">0.6</text>
<text x="263.3" y="297.92" class="cb" style="font-size:8px">0.8</text>
<text x="263.3" y="283.34" class="cb" style="font-size:8px">1</text>
<linearGradient id="cb4" x1="0" y1="0" x2="0" y2="1"><stop offset="0" style="stop-color:#ffffff"/><stop offset="0.03" style="stop-color:#f7f7f7"/><stop offset="0.06" style="stop-color:#efefef"/><stop offset="0.09" style="stop-color:#e8e8e8"/><stop offset="0.12" style="stop-color:#e0e0e0"/><stop offset="0.16" style="stop-color:#d8d8d8"/><stop offset="0.19" style="stop-color:#d0d0d0"/><stop offset="0.22" style="stop-color:#c9c9c9"/><stop offset="0.25" style="stop-color:#c1c1c1"/><stop offset="0.28" style="stop-color:#b9b9b9"/><stop offset="0.31" style="stop-color:#b1b1b1"/><stop offset="0.34" style="stop-color:#aaaaaa"/><stop offset="0.38" style="stop-color:#a2a2a2"/><stop offset="0.41" style="stop-color:#9a9a9a"/><stop offset="0.44" style="stop-color:#929292"/><stop offset="0.47" style="stop-color:#8a8a8a"/><stop offset="0.5" style="stop-color:#838383"/><stop offset="0.53" style="stop-color:#7b7b7b"/><stop offset="0.56" style="stop-color:#737373"/><stop offset="0.59" style="stop-color:#6b6b6b"/><stop offset="0.62" style="stop-color:#646464"/><stop offset="0.66" style="stop-color:#5c5c5c"/><stop offset="0.69" style="stop-color:#545454"/><stop offset="0.72" style="stop-color:#4c4c4c"/><stop offset="0.75" style="stop-color:#454545"/><stop offset="0.78" style="stop-color:#3d3d3d"/><stop offset="0.81" style="stop-color:#353535"/><stop offset="0.84" style="stop-color:#2d2d2d"/><stop offset="0.88" style="stop-color:#252525"/><stop offset="0.91" style="stop-color:#1e1e1e"/><stop offset="0.94" style="stop-color:#161616"/><stop offset="0.97" style="stop-color:#0e0e0e"/><stop offset="1" style="stop-color:#060606"/></linearGradient>
<filter id="fcb4" color-interpolation-filters="sRGB"><feComponentTransfer><feFuncR type="table" tableValues="0 0 0 0 0.5 1 1 1 0.56"/><feFuncG type="table" tableValues="0 0 0.5 1 1 1 0.5 0 0"/><feFuncB type="table" tableValues="0.56 1 1 1 0.5 0 0 0 0"/></feComponentTransfer></filter>
<rect x="257" y="357.6" width="4.3" height="71.1" fill="url(#cb4)" filter="url(#fcb4)"/>
<text x="263.3" y="418.58" class="cb" style="font-size:8px">0.2</text>
<text x="263.3" y="403.99" class="cb" style="font-size:8px">0.4</text>
<text x="263.3" y="389.41" class="cb" style="font-size:8px">0.6</text>
<text x="263.3" y="374.82" class="cb" style="font-size:8px">0.8</text>
<text x="263.3" y="360.24" class="cb" style="font-size:8px">1</text>
<linearGradient id="cb5" x1="0" y1="0" x2="0" y2="1"><stop offset="0" style="stop-color:#ffffff"/><stop offset="0.03" style="stop-color:#f7f7f7"/><stop offset="0.06" style="stop-color:#efefef"/><stop offset="0.09" style="stop-color:#e7e7e7"/><stop offset="0.12" style="stop-color:#dfdfdf"/><stop offset="0.16" style="stop-color:#d8d8d8"/><stop offset="0.19" style="stop-color:#d0d0d0"/><stop offset="0.22" style="stop-color:#c8c8c8"/><stop offset="0.25" style="stop-color:#c0c0c0"/><stop offset="0.28" style="stop-color:#b8b8b8"/><stop offset="0.31" style="stop-color:#b0b0b0"/><stop offset="0.34" style="stop-color:#a8a8a8"/><stop offset="0.38" style="stop-color:#a0a0a0"/><stop offset="0.41" style="stop-color:#989898"/><stop offset="0.44" style="stop-color:#919191"/><stop offset="0.47" style="stop-color:#898989"/><stop offset="0.5" style="stop-color:#818181"/><stop offset="0.53" style="stop-color:#797979"/><stop offset="0.56" style="stop-color:#717171"/><stop offset="0.59" style="stop-color:#696969"/><stop offset="0.62" style="stop-color:#616161"/><stop offset="0.66" style="stop-color:#595959"/><stop offset="0.69" style="stop-color:#515151"/><stop offset="0.72" style="stop-color:#4a4a4a"/><stop offset="0.75" style="stop-color:#424242"/><stop offset="0.78" style="stop-color:#3a3a3a"/><stop offset="0.81" style="stop-color:#323232"/><stop offset="0.84" style="stop-color:#2a2a2a"/><stop offset="0.88" style="stop-color:#222222"/><stop offset="0.91" style="stop-color:#1a1a1a"/><stop offset="0.94" style="stop-color:#121212"/><stop offset="0.97" style="stop-color:#0a0a0a"/><stop offset="1" style="stop-color:#030303"/></linearGradient>
<filter id="fcb5" color-interpolation-filters="sRGB"><feComponentTransfer><feFuncR type="table" tableValues="0 0 0 0 0.5 1 1 1 0.56"/><feFuncG type="table" tableValues="0 0 0.5 1 1 1 0.5 0 0"/><feFuncB type="table" tableValues="0.56 1 1 1 0.5 0 0 0 0"/></feComponentTransfer></filter>
<rect x="529.2" y="281.2" width="4.5" height="71.1" fill="url(#cb5)" filter="url(#fcb5)"/>
<text x="536" y="341.29" class="cb" style="font-size:8px">0.2</text>
<text x="536" y="326.93" class="cb" style="font-size:8px">0.4</text>
<text x="536" y="312.57" class="cb" style="font-size:8px">0.6</text>
<text x="536" y="298.2" class="cb" style="font-size:8px">0.8</text>
<text x="536" y="283.84" class="cb" style="font-size:8px">1</text>
<linearGradient id="cb6" x1="0" y1="0" x2="0" y2="1"><stop offset="0" style="stop-color:#ffffff"/><stop offset="0.03" style="stop-color:#f7f7f7"/><stop offset="0.06" style="stop-color:#efefef"/><stop offset="0.09" style="stop-color:#e7e7e7"/><stop offset="0.12" style="stop-color:#dfdfdf"/><stop offset="0.16" style="stop-color:#d8d8d8"/><stop offset="0.19" style="stop-color:#d0d0d0"/><stop offset="0.22" style="stop-color:#c8c8c8"/><stop offset="0.25" style="stop-color:#c0c0c0"/><stop offset="0.28" style="stop-color:#b8b8b8"/><stop offset="0.31" style="stop-color:#b0b0b0"/><stop offset="0.34" style="stop-color:#a8a8a8"/><stop offset="0.38" style="stop-color:#a0a0a0"/><stop offset="0.41" style="stop-color:#989898"/><stop offset="0.44" style="stop-color:#919191"/><stop offset="0.47" style="stop-color:#898989"/><stop offset="0.5" style="stop-color:#818181"/><stop offset="0.53" style="stop-color:#797979"/><stop offset="0.56" style="stop-color:#717171"/><stop offset="0.59" style="stop-color:#696969"/><stop offset="0.62" style="stop-color:#616161"/><stop offset="0.66" style="stop-color:#595959"/><stop offset="0.69" style="stop-color:#515151"/><stop offset="0.72" style="stop-color:#4a4a4a"/><stop offset="0.75" style="stop-color:#424242"/><stop offset="0.78" style="stop-color:#3a3a3a"/><stop offset="0.81" style="stop-color:#323232"/><stop offset="0.84" style="stop-color:#2a2a2a"/><stop offset="0.88" style="stop-color:#222222"/><stop offset="0.91" style="stop-color:#1a1a1a"/><stop offset="0.94" style="stop-color:#121212"/><stop offset="0.97" style="stop-color:#0a0a0a"/><stop offset="1" style="stop-color:#030303"/></linearGradient>
<filter id="fcb6" color-interpolation-filters="sRGB"><feComponentTransfer><feFuncR type="table" tableValues="0 0 0 0 0.5 1 1 1 0.56"/><feFuncG type="table" tableValues="0 0 0.5 1 1 1 0.5 0 0"/><feFuncB type="table" tableValues="0.56 1 1 1 0.5 0 0 0 0"/></feComponentTransfer></filter>
<rect x="529.2" y="357.6" width="4.5" height="71.1" fill="url(#cb6)" filter="url(#fcb6)"/>
<text x="536" y="417.69" class="cb" style="font-size:8px">0.2</text>
<text x="536" y="403.33" class="cb" style="font-size:8px">0.4</text>
<text x="536" y="388.97" class="cb" style="font-size:8px">0.6</text>
<text x="536" y="374.6" class="cb" style="font-size:8px">0.8</text>
<text x="536" y="360.24" class="cb" style="font-size:8px">1</text>
<text x="335.5" y="46.6" text-anchor="middle" class="hd">z = 0.55 mm</text>
<text x="412.2" y="46.6" text-anchor="middle" class="hd">z = 1 mm</text>
<text x="488.2" y="46.6" text-anchor="middle" class="hd">z = 1.55 mm</text>
<text x="61.35" y="275.5" text-anchor="middle" class="hd">z = 1.40 mm</text>
<text x="138.15" y="275.5" text-anchor="middle" class="hd">z = 1.65 mm</text>
<text x="215.15" y="275.5" text-anchor="middle" class="hd">z = 1.80 mm</text>
<text x="335.2" y="275.5" text-anchor="middle" class="hd">z = 0.70 mm</text>
<text x="411.6" y="275.5" text-anchor="middle" class="hd">z = 1.10 mm</text>
<text x="487.6" y="275.5" text-anchor="middle" class="hd">z = 1.55 mm</text>
<text transform="translate(293.9,90.3) rotate(-90)" text-anchor="middle" class="rl">Experiment</text>
<text transform="translate(293.9,165) rotate(-90)" text-anchor="middle" class="rl">Simulation</text>
<text transform="translate(19.4,318.7) rotate(-90)" text-anchor="middle" class="rl">Experiment</text>
<text transform="translate(19.4,393.2) rotate(-90)" text-anchor="middle" class="rl">Simulation</text>
<text transform="translate(293.9,318.9) rotate(-90)" text-anchor="middle" class="rl">Experiment</text>
<text transform="translate(293.9,393.4) rotate(-90)" text-anchor="middle" class="rl">Simulation</text>
<text x="300.0" y="214.4" class="bk">[Ideal-phase]</text>
<text x="25.6" y="441.6" class="bk">[R-phase]</text>
<text x="300.1" y="441.6" class="bk">[H-phase]</text>
<text x="412.5" y="223.3" text-anchor="middle" class="pl">(b)</text>
<text x="138.1" y="449.5" text-anchor="middle" class="pl">(c)</text>
<text x="412.3" y="449.5" text-anchor="middle" class="pl">(d)</text>
<rect x="500.7" y="107.9" width="17.5" height="4.7" fill="#fff"/>
<text x="509.5" y="122.5" text-anchor="middle" class="sb">10 μm</text>
<rect x="74.2" y="336.1" width="17.5" height="4.7" fill="#fff"/>
<text x="83" y="350.7" text-anchor="middle" class="sb">10 μm</text>
<rect x="500.9" y="336.5" width="17.5" height="4.7" fill="#fff"/>
<text x="509.7" y="351.1" text-anchor="middle" class="sb">10 μm</text>
<rect x="301.2" y="108.4" width="3.9" height="14.2" fill="#fff"/>
<rect x="301.2" y="119.2" width="14.4" height="3.4" fill="#fff"/>
<text x="301.2" y="102.6" class="xy">y</text>
<text x="318.3" y="122.6" class="xy">x</text>
</svg></body></html>
